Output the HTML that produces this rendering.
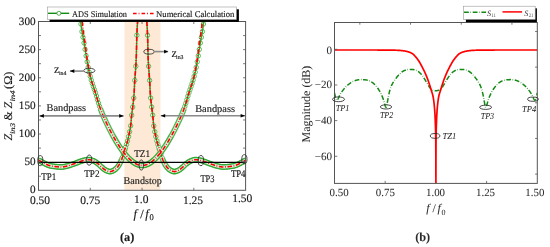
<!DOCTYPE html><html><head><meta charset="utf-8"><style>html,body{margin:0;padding:0;background:#fff;}svg{display:block;}</style></head><body><svg width="550" height="247" viewBox="0 0 550 247">
<rect width="550" height="247" fill="#fff"/>
<defs><clipPath id="ca"><rect x="38.5" y="21.5" width="207.1" height="168.8"/></clipPath><clipPath id="cb"><rect x="334.5" y="22.5" width="202.79999999999995" height="160.9"/></clipPath></defs>
<rect x="124.4" y="21.5" width="36" height="168.8" fill="#fde9d5"/>
<g clip-path="url(#ca)">
<g fill="#fff" stroke="#2ea82e" stroke-width="0.75"><circle cx="136.85" cy="35.23" r="2.2"/><circle cx="135.82" cy="66.24" r="2.2"/><circle cx="134.78" cy="80.38" r="2.2"/><circle cx="133.75" cy="97.96" r="2.2"/><circle cx="132.71" cy="107.04" r="2.2"/><circle cx="131.68" cy="115.13" r="2.2"/><circle cx="130.64" cy="125.85" r="2.2"/><circle cx="129.6" cy="131.76" r="2.2"/><circle cx="128.57" cy="136.59" r="2.2"/><circle cx="127.53" cy="140.95" r="2.2"/><circle cx="126.5" cy="144.41" r="2.2"/><circle cx="125.46" cy="147.41" r="2.2"/><circle cx="124.43" cy="150.24" r="2.2"/><circle cx="123.39" cy="153.74" r="2.2"/><circle cx="122.36" cy="157.53" r="2.2"/><circle cx="121.32" cy="160.31" r="2.2"/><circle cx="120.28" cy="162.58" r="2.2"/><circle cx="119.25" cy="164.5" r="2.2"/><circle cx="118.21" cy="166.1" r="2.2"/><circle cx="117.18" cy="167.43" r="2.2"/><circle cx="116.14" cy="168.56" r="2.2"/><circle cx="115.11" cy="169.49" r="2.2"/><circle cx="114.07" cy="170.15" r="2.2"/><circle cx="113.04" cy="170.72" r="2.2"/><circle cx="112" cy="171.19" r="2.2"/><circle cx="110.96" cy="171.5" r="2.2"/><circle cx="109.93" cy="171.59" r="2.2"/><circle cx="108.89" cy="171.44" r="2.2"/><circle cx="107.86" cy="171.12" r="2.2"/><circle cx="106.82" cy="170.68" r="2.2"/><circle cx="105.79" cy="170.19" r="2.2"/><circle cx="104.75" cy="169.61" r="2.2"/><circle cx="103.72" cy="168.84" r="2.2"/><circle cx="102.68" cy="167.96" r="2.2"/><circle cx="101.65" cy="167.07" r="2.2"/><circle cx="100.61" cy="166.13" r="2.2"/><circle cx="99.57" cy="165.13" r="2.2"/><circle cx="98.54" cy="164.18" r="2.2"/><circle cx="97.5" cy="163.35" r="2.2"/><circle cx="96.47" cy="162.6" r="2.2"/><circle cx="95.43" cy="161.9" r="2.2"/><circle cx="94.4" cy="161.31" r="2.2"/><circle cx="93.36" cy="160.85" r="2.2"/><circle cx="92.33" cy="160.44" r="2.2"/><circle cx="91.29" cy="160.08" r="2.2"/><circle cx="90.25" cy="159.82" r="2.2"/><circle cx="89.22" cy="159.7" r="2.2"/><circle cx="88.18" cy="159.73" r="2.2"/><circle cx="87.15" cy="159.82" r="2.2"/><circle cx="86.11" cy="159.95" r="2.2"/><circle cx="85.08" cy="160.1" r="2.2"/><circle cx="84.04" cy="160.31" r="2.2"/><circle cx="83.01" cy="160.58" r="2.2"/><circle cx="81.97" cy="160.91" r="2.2"/><circle cx="80.94" cy="161.26" r="2.2"/><circle cx="79.9" cy="161.6" r="2.2"/><circle cx="78.86" cy="161.99" r="2.2"/><circle cx="77.83" cy="162.4" r="2.2"/><circle cx="76.79" cy="162.81" r="2.2"/><circle cx="75.76" cy="163.21" r="2.2"/><circle cx="74.72" cy="163.57" r="2.2"/><circle cx="73.69" cy="163.92" r="2.2"/><circle cx="72.65" cy="164.27" r="2.2"/><circle cx="71.62" cy="164.62" r="2.2"/><circle cx="70.58" cy="165.02" r="2.2"/><circle cx="69.54" cy="165.38" r="2.2"/><circle cx="68.51" cy="165.67" r="2.2"/><circle cx="67.47" cy="165.94" r="2.2"/><circle cx="66.44" cy="166.19" r="2.2"/><circle cx="65.4" cy="166.45" r="2.2"/><circle cx="64.37" cy="166.67" r="2.2"/><circle cx="63.33" cy="166.83" r="2.2"/><circle cx="62.3" cy="166.95" r="2.2"/><circle cx="61.26" cy="167" r="2.2"/><circle cx="60.23" cy="166.97" r="2.2"/><circle cx="59.19" cy="166.91" r="2.2"/><circle cx="58.15" cy="166.85" r="2.2"/><circle cx="57.12" cy="166.78" r="2.2"/><circle cx="56.08" cy="166.69" r="2.2"/><circle cx="55.05" cy="166.56" r="2.2"/><circle cx="54.01" cy="166.4" r="2.2"/><circle cx="52.98" cy="166.27" r="2.2"/><circle cx="51.94" cy="166.12" r="2.2"/><circle cx="50.91" cy="165.94" r="2.2"/><circle cx="49.87" cy="165.67" r="2.2"/><circle cx="48.83" cy="165.34" r="2.2"/><circle cx="47.8" cy="164.95" r="2.2"/><circle cx="46.76" cy="164.51" r="2.2"/><circle cx="45.73" cy="164.02" r="2.2"/><circle cx="44.69" cy="163.47" r="2.2"/><circle cx="43.66" cy="162.92" r="2.2"/><circle cx="42.62" cy="162.38" r="2.2"/><circle cx="41.59" cy="161.8" r="2.2"/><circle cx="40.55" cy="161.18" r="2.2"/><circle cx="39.52" cy="160.66" r="2.2"/><circle cx="147.55" cy="35.23" r="2.2"/><circle cx="148.58" cy="66.24" r="2.2"/><circle cx="149.62" cy="80.38" r="2.2"/><circle cx="150.65" cy="97.96" r="2.2"/><circle cx="151.69" cy="107.04" r="2.2"/><circle cx="152.72" cy="115.13" r="2.2"/><circle cx="153.76" cy="125.85" r="2.2"/><circle cx="154.8" cy="131.76" r="2.2"/><circle cx="155.83" cy="136.59" r="2.2"/><circle cx="156.87" cy="140.95" r="2.2"/><circle cx="157.9" cy="144.41" r="2.2"/><circle cx="158.94" cy="147.41" r="2.2"/><circle cx="159.97" cy="150.24" r="2.2"/><circle cx="161.01" cy="153.74" r="2.2"/><circle cx="162.04" cy="157.53" r="2.2"/><circle cx="163.08" cy="160.31" r="2.2"/><circle cx="164.12" cy="162.58" r="2.2"/><circle cx="165.15" cy="164.5" r="2.2"/><circle cx="166.19" cy="166.1" r="2.2"/><circle cx="167.22" cy="167.43" r="2.2"/><circle cx="168.26" cy="168.56" r="2.2"/><circle cx="169.29" cy="169.49" r="2.2"/><circle cx="170.33" cy="170.15" r="2.2"/><circle cx="171.36" cy="170.72" r="2.2"/><circle cx="172.4" cy="171.19" r="2.2"/><circle cx="173.43" cy="171.5" r="2.2"/><circle cx="174.47" cy="171.59" r="2.2"/><circle cx="175.51" cy="171.44" r="2.2"/><circle cx="176.54" cy="171.12" r="2.2"/><circle cx="177.58" cy="170.68" r="2.2"/><circle cx="178.61" cy="170.19" r="2.2"/><circle cx="179.65" cy="169.61" r="2.2"/><circle cx="180.68" cy="168.84" r="2.2"/><circle cx="181.72" cy="167.96" r="2.2"/><circle cx="182.75" cy="167.07" r="2.2"/><circle cx="183.79" cy="166.13" r="2.2"/><circle cx="184.83" cy="165.13" r="2.2"/><circle cx="185.86" cy="164.18" r="2.2"/><circle cx="186.9" cy="163.35" r="2.2"/><circle cx="187.93" cy="162.6" r="2.2"/><circle cx="188.97" cy="161.9" r="2.2"/><circle cx="190" cy="161.31" r="2.2"/><circle cx="191.04" cy="160.85" r="2.2"/><circle cx="192.07" cy="160.44" r="2.2"/><circle cx="193.11" cy="160.08" r="2.2"/><circle cx="194.14" cy="159.82" r="2.2"/><circle cx="195.18" cy="159.7" r="2.2"/><circle cx="196.22" cy="159.73" r="2.2"/><circle cx="197.25" cy="159.82" r="2.2"/><circle cx="198.29" cy="159.95" r="2.2"/><circle cx="199.32" cy="160.1" r="2.2"/><circle cx="200.36" cy="160.31" r="2.2"/><circle cx="201.39" cy="160.58" r="2.2"/><circle cx="202.43" cy="160.91" r="2.2"/><circle cx="203.46" cy="161.26" r="2.2"/><circle cx="204.5" cy="161.6" r="2.2"/><circle cx="205.54" cy="161.99" r="2.2"/><circle cx="206.57" cy="162.4" r="2.2"/><circle cx="207.61" cy="162.81" r="2.2"/><circle cx="208.64" cy="163.21" r="2.2"/><circle cx="209.68" cy="163.57" r="2.2"/><circle cx="210.71" cy="163.92" r="2.2"/><circle cx="211.75" cy="164.27" r="2.2"/><circle cx="212.78" cy="164.62" r="2.2"/><circle cx="213.82" cy="165.02" r="2.2"/><circle cx="214.85" cy="165.38" r="2.2"/><circle cx="215.89" cy="165.67" r="2.2"/><circle cx="216.93" cy="165.94" r="2.2"/><circle cx="217.96" cy="166.19" r="2.2"/><circle cx="219" cy="166.45" r="2.2"/><circle cx="220.03" cy="166.67" r="2.2"/><circle cx="221.07" cy="166.83" r="2.2"/><circle cx="222.1" cy="166.95" r="2.2"/><circle cx="223.14" cy="167" r="2.2"/><circle cx="224.17" cy="166.97" r="2.2"/><circle cx="225.21" cy="166.91" r="2.2"/><circle cx="226.25" cy="166.85" r="2.2"/><circle cx="227.28" cy="166.78" r="2.2"/><circle cx="228.32" cy="166.69" r="2.2"/><circle cx="229.35" cy="166.56" r="2.2"/><circle cx="230.39" cy="166.4" r="2.2"/><circle cx="231.42" cy="166.27" r="2.2"/><circle cx="232.46" cy="166.12" r="2.2"/><circle cx="233.49" cy="165.94" r="2.2"/><circle cx="234.53" cy="165.67" r="2.2"/><circle cx="235.56" cy="165.34" r="2.2"/><circle cx="236.6" cy="164.95" r="2.2"/><circle cx="237.64" cy="164.51" r="2.2"/><circle cx="238.67" cy="164.02" r="2.2"/><circle cx="239.71" cy="163.47" r="2.2"/><circle cx="240.74" cy="162.92" r="2.2"/><circle cx="241.78" cy="162.38" r="2.2"/><circle cx="242.81" cy="161.8" r="2.2"/><circle cx="243.85" cy="161.18" r="2.2"/><circle cx="244.88" cy="160.66" r="2.2"/><circle cx="142.03" cy="165.43" r="2.2"/><circle cx="140.99" cy="165.37" r="2.2"/><circle cx="139.96" cy="165.23" r="2.2"/><circle cx="138.92" cy="164.99" r="2.2"/><circle cx="137.89" cy="164.67" r="2.2"/><circle cx="136.85" cy="164.26" r="2.2"/><circle cx="135.82" cy="163.76" r="2.2"/><circle cx="134.78" cy="163.18" r="2.2"/><circle cx="133.75" cy="162.52" r="2.2"/><circle cx="132.71" cy="161.78" r="2.2"/><circle cx="131.68" cy="160.97" r="2.2"/><circle cx="130.64" cy="160.09" r="2.2"/><circle cx="129.6" cy="159.13" r="2.2"/><circle cx="128.57" cy="158.11" r="2.2"/><circle cx="127.53" cy="157.01" r="2.2"/><circle cx="126.5" cy="155.86" r="2.2"/><circle cx="125.46" cy="154.64" r="2.2"/><circle cx="124.43" cy="153.37" r="2.2"/><circle cx="123.39" cy="152.04" r="2.2"/><circle cx="122.36" cy="150.65" r="2.2"/><circle cx="121.32" cy="149.21" r="2.2"/><circle cx="120.28" cy="147.72" r="2.2"/><circle cx="119.25" cy="146.17" r="2.2"/><circle cx="118.21" cy="144.58" r="2.2"/><circle cx="117.18" cy="142.93" r="2.2"/><circle cx="116.14" cy="141.23" r="2.2"/><circle cx="115.11" cy="139.49" r="2.2"/><circle cx="114.07" cy="137.69" r="2.2"/><circle cx="113.04" cy="135.84" r="2.2"/><circle cx="112" cy="133.95" r="2.2"/><circle cx="110.96" cy="132.01" r="2.2"/><circle cx="109.93" cy="130.01" r="2.2"/><circle cx="108.89" cy="127.98" r="2.2"/><circle cx="107.86" cy="125.89" r="2.2"/><circle cx="106.82" cy="123.76" r="2.2"/><circle cx="105.79" cy="121.58" r="2.2"/><circle cx="104.75" cy="119.35" r="2.2"/><circle cx="103.72" cy="117.05" r="2.2"/><circle cx="102.68" cy="114.64" r="2.2"/><circle cx="101.65" cy="112.08" r="2.2"/><circle cx="100.61" cy="109.33" r="2.2"/><circle cx="99.57" cy="106.36" r="2.2"/><circle cx="98.54" cy="103.14" r="2.2"/><circle cx="97.5" cy="99.64" r="2.2"/><circle cx="96.47" cy="96.05" r="2.2"/><circle cx="95.43" cy="92.7" r="2.2"/><circle cx="94.4" cy="89.6" r="2.2"/><circle cx="93.36" cy="86.58" r="2.2"/><circle cx="92.33" cy="83.47" r="2.2"/><circle cx="91.29" cy="80.09" r="2.2"/><circle cx="90.25" cy="76.36" r="2.2"/><circle cx="89.22" cy="72.17" r="2.2"/><circle cx="88.18" cy="67.34" r="2.2"/><circle cx="87.15" cy="61.86" r="2.2"/><circle cx="86.11" cy="55.86" r="2.2"/><circle cx="85.08" cy="49.42" r="2.2"/><circle cx="84.04" cy="42.95" r="2.2"/><circle cx="83.01" cy="37.25" r="2.2"/><circle cx="81.97" cy="31.6" r="2.2"/><circle cx="80.94" cy="23.98" r="2.2"/><circle cx="142.37" cy="165.43" r="2.2"/><circle cx="143.41" cy="165.37" r="2.2"/><circle cx="144.44" cy="165.23" r="2.2"/><circle cx="145.48" cy="164.99" r="2.2"/><circle cx="146.51" cy="164.67" r="2.2"/><circle cx="147.55" cy="164.26" r="2.2"/><circle cx="148.58" cy="163.76" r="2.2"/><circle cx="149.62" cy="163.18" r="2.2"/><circle cx="150.65" cy="162.52" r="2.2"/><circle cx="151.69" cy="161.78" r="2.2"/><circle cx="152.72" cy="160.97" r="2.2"/><circle cx="153.76" cy="160.09" r="2.2"/><circle cx="154.8" cy="159.13" r="2.2"/><circle cx="155.83" cy="158.11" r="2.2"/><circle cx="156.87" cy="157.01" r="2.2"/><circle cx="157.9" cy="155.86" r="2.2"/><circle cx="158.94" cy="154.64" r="2.2"/><circle cx="159.97" cy="153.37" r="2.2"/><circle cx="161.01" cy="152.04" r="2.2"/><circle cx="162.04" cy="150.65" r="2.2"/><circle cx="163.08" cy="149.21" r="2.2"/><circle cx="164.12" cy="147.72" r="2.2"/><circle cx="165.15" cy="146.17" r="2.2"/><circle cx="166.19" cy="144.58" r="2.2"/><circle cx="167.22" cy="142.93" r="2.2"/><circle cx="168.26" cy="141.23" r="2.2"/><circle cx="169.29" cy="139.49" r="2.2"/><circle cx="170.33" cy="137.69" r="2.2"/><circle cx="171.36" cy="135.84" r="2.2"/><circle cx="172.4" cy="133.95" r="2.2"/><circle cx="173.43" cy="132.01" r="2.2"/><circle cx="174.47" cy="130.01" r="2.2"/><circle cx="175.51" cy="127.98" r="2.2"/><circle cx="176.54" cy="125.89" r="2.2"/><circle cx="177.58" cy="123.76" r="2.2"/><circle cx="178.61" cy="121.58" r="2.2"/><circle cx="179.65" cy="119.35" r="2.2"/><circle cx="180.68" cy="117.05" r="2.2"/><circle cx="181.72" cy="114.64" r="2.2"/><circle cx="182.75" cy="112.08" r="2.2"/><circle cx="183.79" cy="109.33" r="2.2"/><circle cx="184.83" cy="106.36" r="2.2"/><circle cx="185.86" cy="103.14" r="2.2"/><circle cx="186.9" cy="99.64" r="2.2"/><circle cx="187.93" cy="96.05" r="2.2"/><circle cx="188.97" cy="92.7" r="2.2"/><circle cx="190" cy="89.6" r="2.2"/><circle cx="191.04" cy="86.58" r="2.2"/><circle cx="192.07" cy="83.47" r="2.2"/><circle cx="193.11" cy="80.09" r="2.2"/><circle cx="194.14" cy="76.36" r="2.2"/><circle cx="195.18" cy="72.17" r="2.2"/><circle cx="196.22" cy="67.34" r="2.2"/><circle cx="197.25" cy="61.86" r="2.2"/><circle cx="198.29" cy="55.86" r="2.2"/><circle cx="199.32" cy="49.42" r="2.2"/><circle cx="200.36" cy="42.95" r="2.2"/><circle cx="201.39" cy="37.25" r="2.2"/><circle cx="202.43" cy="31.6" r="2.2"/><circle cx="203.46" cy="23.98" r="2.2"/></g>
<path d="M38.5 160.2L38.74 160.3L38.98 160.41L39.22 160.52L39.45 160.63L39.69 160.74L39.92 160.86L40.16 160.97L40.39 161.09L40.62 161.22L40.84 161.35L41.07 161.48L41.29 161.62L41.51 161.75L41.74 161.89L41.96 162.02L42.19 162.15L42.42 162.27L42.65 162.4L42.88 162.52L43.11 162.64L43.34 162.76L43.57 162.88L43.81 163L44.04 163.12L44.27 163.24L44.5 163.37L44.73 163.49L44.96 163.62L45.19 163.74L45.42 163.86L45.65 163.98L45.88 164.1L46.12 164.21L46.35 164.32L46.59 164.43L46.83 164.54L47.07 164.64L47.31 164.75L47.55 164.85L47.79 164.95L48.03 165.05L48.28 165.14L48.52 165.23L48.77 165.32L49.01 165.4L49.26 165.48L49.51 165.56L49.76 165.64L50.01 165.71L50.26 165.78L50.52 165.85L50.77 165.91L51.02 165.96L51.28 166.01L51.53 166.06L51.79 166.1L52.05 166.14L52.31 166.18L52.57 166.21L52.83 166.25L53.09 166.28L53.35 166.31L53.6 166.35L53.86 166.38L54.12 166.42L54.38 166.45L54.64 166.49L54.9 166.53L55.16 166.57L55.41 166.61L55.67 166.64L55.93 166.67L56.19 166.7L56.45 166.72L56.71 166.74L56.97 166.77L57.23 166.78L57.49 166.8L57.75 166.82L58.01 166.84L58.27 166.85L58.53 166.87L58.79 166.88L59.05 166.9L59.31 166.91L59.58 166.93L59.84 166.94L60.1 166.96L60.36 166.97L60.62 166.99L60.88 166.99L61.14 167L61.4 167L61.66 166.99L61.92 166.98L62.18 166.96L62.44 166.94L62.7 166.91L62.96 166.88L63.22 166.84L63.48 166.81L63.74 166.77L64 166.73L64.25 166.69L64.51 166.65L64.77 166.6L65.02 166.54L65.28 166.48L65.53 166.42L65.78 166.36L66.04 166.29L66.29 166.23L66.54 166.17L66.8 166.1L67.05 166.04L67.31 165.98L67.56 165.92L67.81 165.85L68.07 165.79L68.32 165.72L68.57 165.66L68.82 165.59L69.07 165.52L69.32 165.45L69.57 165.37L69.82 165.29L70.07 165.21L70.31 165.12L70.56 165.03L70.8 164.93L71.04 164.83L71.29 164.74L71.53 164.65L71.78 164.57L72.03 164.48L72.27 164.39L72.52 164.31L72.77 164.23L73.01 164.14L73.26 164.06L73.51 163.98L73.76 163.9L74.01 163.81L74.25 163.73L74.5 163.65L74.75 163.56L74.99 163.48L75.24 163.39L75.49 163.31L75.73 163.22L75.98 163.13L76.22 163.03L76.46 162.94L76.71 162.84L76.95 162.75L77.19 162.65L77.44 162.55L77.68 162.46L77.92 162.36L78.16 162.26L78.41 162.17L78.65 162.07L78.89 161.98L79.14 161.88L79.38 161.79L79.62 161.7L79.87 161.61L80.12 161.53L80.36 161.44L80.61 161.36L80.86 161.28L81.11 161.2L81.35 161.12L81.6 161.03L81.85 160.95L82.1 160.87L82.35 160.79L82.6 160.71L82.85 160.63L83.11 160.56L83.36 160.48L83.61 160.41L83.86 160.35L84.11 160.29L84.37 160.23L84.62 160.18L84.88 160.14L85.13 160.1L85.39 160.06L85.65 160.02L85.91 159.98L86.17 159.95L86.43 159.91L86.69 159.88L86.95 159.85L87.21 159.82L87.47 159.79L87.73 159.76L87.99 159.74L88.25 159.73L88.51 159.71L88.77 159.7L89.03 159.7L89.29 159.7L89.54 159.72L89.8 159.75L90.06 159.78L90.31 159.83L90.57 159.89L90.83 159.95L91.08 160.02L91.34 160.1L91.59 160.18L91.85 160.27L92.1 160.36L92.35 160.45L92.59 160.55L92.84 160.64L93.08 160.74L93.32 160.83L93.56 160.92L93.79 161.02L94.03 161.12L94.26 161.24L94.49 161.35L94.72 161.48L94.95 161.61L95.17 161.74L95.4 161.88L95.62 162.02L95.84 162.17L96.06 162.32L96.28 162.47L96.5 162.62L96.71 162.77L96.93 162.93L97.14 163.08L97.35 163.24L97.56 163.4L97.77 163.55L97.97 163.71L98.17 163.87L98.37 164.03L98.57 164.2L98.76 164.38L98.96 164.55L99.15 164.73L99.34 164.91L99.53 165.09L99.72 165.27L99.91 165.45L100.1 165.63L100.28 165.82L100.47 166L100.66 166.18L100.85 166.36L101.05 166.54L101.24 166.71L101.43 166.89L101.63 167.06L101.83 167.23L102.03 167.39L102.23 167.57L102.43 167.74L102.63 167.91L102.83 168.09L103.03 168.26L103.23 168.44L103.44 168.61L103.64 168.78L103.85 168.95L104.05 169.11L104.26 169.27L104.47 169.42L104.69 169.57L104.9 169.71L105.12 169.84L105.34 169.97L105.56 170.08L105.79 170.19L106.02 170.3L106.26 170.42L106.5 170.53L106.74 170.64L106.99 170.76L107.24 170.87L107.49 170.97L107.74 171.07L108 171.17L108.25 171.26L108.51 171.34L108.76 171.41L109.01 171.47L109.27 171.52L109.52 171.56L109.77 171.59L110.02 171.6L110.26 171.6L110.51 171.58L110.76 171.54L111.01 171.49L111.27 171.43L111.52 171.36L111.77 171.27L112.03 171.18L112.28 171.07L112.53 170.96L112.78 170.84L113.02 170.72L113.26 170.6L113.5 170.47L113.74 170.34L113.97 170.21L114.19 170.08L114.41 169.95L114.62 169.82L114.84 169.69L115.04 169.54L115.25 169.38L115.45 169.21L115.65 169.04L115.84 168.86L116.04 168.67L116.22 168.48L116.41 168.29L116.59 168.09L116.77 167.89L116.94 167.7L117.11 167.5L117.28 167.3L117.45 167.11L117.61 166.91L117.77 166.7L117.93 166.49L118.08 166.28L118.23 166.07L118.38 165.85L118.53 165.63L118.68 165.41L118.82 165.19L118.96 164.97L119.1 164.75L119.23 164.52L119.37 164.29L119.5 164.07L119.62 163.84L119.75 163.61L119.87 163.39L119.99 163.16L120.11 162.93L120.23 162.69L120.34 162.46L120.46 162.23L120.57 161.99L120.68 161.75L120.79 161.52L120.9 161.28L121.01 161.04L121.11 160.8L121.22 160.56L121.32 160.31L121.42 160.07L121.52 159.83L121.61 159.58L121.71 159.34L121.8 159.1L121.9 158.85L121.99 158.61L122.07 158.36L122.16 158.12L122.24 157.87L122.33 157.63L122.41 157.38L122.48 157.13L122.56 156.88L122.63 156.63L122.7 156.38L122.77 156.13L122.84 155.88L122.91 155.62L122.97 155.37L123.04 155.12L123.1 154.87L123.17 154.61L123.23 154.36L123.3 154.1L123.36 153.85L123.43 153.6L123.49 153.34L123.56 153.09L123.63 152.84L123.69 152.58L123.76 152.33L123.83 152.08L123.91 151.83L123.98 151.58L124.06 151.33L124.14 151.08L124.22 150.84L124.3 150.59L124.39 150.34L124.48 150.1L124.56 149.85L124.65 149.61L124.75 149.36L124.84 149.12L124.93 148.87L125.02 148.63L125.11 148.38L125.2 148.14L125.29 147.89L125.38 147.65L125.47 147.4L125.55 147.15L125.64 146.91L125.72 146.66L125.81 146.41L125.89 146.17L125.98 145.92L126.07 145.67L126.15 145.43L126.24 145.18L126.32 144.93L126.41 144.69L126.49 144.44L126.57 144.19L126.65 143.94L126.74 143.69L126.82 143.45L126.89 143.2L126.97 142.95L127.05 142.7L127.12 142.45L127.19 142.2L127.26 141.95L127.33 141.7L127.4 141.45L127.47 141.19L127.54 140.94L127.6 140.69L127.67 140.44L127.73 140.18L127.79 139.93L127.85 139.68L127.92 139.42L127.98 139.17L128.04 138.92L128.1 138.66L128.16 138.41L128.21 138.15L128.27 137.9L128.33 137.64L128.39 137.39L128.45 137.13L128.5 136.88L128.56 136.62L128.62 136.37L128.67 136.11L128.73 135.86L128.79 135.61L128.85 135.35L128.9 135.1L128.96 134.84L129.01 134.59L129.07 134.33L129.13 134.08L129.18 133.82L129.23 133.57L129.29 133.31L129.34 133.05L129.4 132.8L129.45 132.54L129.5 132.29L129.55 132.03L129.6 131.78L129.65 131.52L129.7 131.26L129.75 131.01L129.8 130.75L129.84 130.49L129.89 130.24L129.94 129.98L129.99 129.72L130.04 129.47L130.08 129.21L130.13 128.95L130.18 128.7L130.22 128.44L130.27 128.18L130.31 127.92L130.36 127.67L130.4 127.41L130.44 127.15L130.48 126.89L130.52 126.64L130.56 126.38L130.6 126.12L130.64 125.86L130.67 125.6L130.71 125.35L130.74 125.09L130.77 124.83L130.8 124.57L130.83 124.31L130.86 124.05L130.88 123.79L130.91 123.53L130.93 123.27L130.96 123.01L130.98 122.75L131 122.49L131.03 122.23L131.05 121.97L131.07 121.71L131.09 121.45L131.11 121.19L131.13 120.93L131.15 120.67L131.18 120.41L131.2 120.15L131.22 119.89L131.24 119.63L131.26 119.37L131.28 119.11L131.3 118.85L131.32 118.59L131.35 118.33L131.37 118.07L131.39 117.81L131.42 117.55L131.44 117.29L131.47 117.03L131.49 116.77L131.52 116.51L131.55 116.25L131.58 115.99L131.61 115.73L131.64 115.47L131.67 115.21L131.7 114.96L131.73 114.7L131.76 114.44L131.79 114.18L131.82 113.92L131.86 113.66L131.89 113.4L131.92 113.14L131.96 112.88L131.99 112.63L132.02 112.37L132.06 112.11L132.09 111.85L132.13 111.59L132.16 111.33L132.19 111.07L132.23 110.81L132.26 110.55L132.3 110.3L132.33 110.04L132.37 109.78L132.4 109.52L132.43 109.26L132.47 109L132.5 108.74L132.53 108.48L132.57 108.23L132.6 107.97L132.63 107.71L132.66 107.45L132.69 107.19L132.72 106.93L132.75 106.67L132.78 106.41L132.81 106.15L132.84 105.89L132.87 105.63L132.91 105.37L132.94 105.12L132.97 104.86L133 104.6L133.03 104.34L133.06 104.08L133.09 103.82L133.12 103.56L133.15 103.3L133.18 103.04L133.21 102.78L133.24 102.52L133.28 102.26L133.31 102L133.34 101.74L133.37 101.49L133.4 101.23L133.43 100.97L133.46 100.71L133.48 100.45L133.51 100.19L133.54 99.93L133.57 99.67L133.6 99.41L133.63 99.15L133.65 98.89L133.68 98.63L133.71 98.37L133.73 98.11L133.76 97.85L133.78 97.59L133.81 97.33L133.83 97.07L133.85 96.81L133.88 96.55L133.9 96.29L133.92 96.03L133.94 95.77L133.96 95.51L133.98 95.25L134 94.99L134.02 94.73L134.04 94.47L134.05 94.21L134.07 93.95L134.09 93.69L134.11 93.43L134.12 93.17L134.14 92.91L134.15 92.65L134.17 92.39L134.18 92.13L134.2 91.87L134.21 91.61L134.23 91.35L134.24 91.09L134.25 90.83L134.27 90.57L134.28 90.31L134.29 90.05L134.31 89.79L134.32 89.53L134.33 89.26L134.35 89L134.36 88.74L134.37 88.48L134.38 88.22L134.4 87.96L134.41 87.7L134.42 87.44L134.43 87.18L134.44 86.92L134.46 86.66L134.47 86.4L134.48 86.14L134.49 85.87L134.5 85.61L134.52 85.35L134.53 85.09L134.54 84.83L134.55 84.57L134.57 84.31L134.58 84.05L134.59 83.79L134.61 83.53L134.62 83.27L134.63 83.01L134.65 82.75L134.66 82.49L134.67 82.22L134.69 81.96L134.7 81.7L134.72 81.44L134.73 81.18L134.75 80.92L134.76 80.66L134.78 80.4L134.8 80.14L134.81 79.88L134.83 79.62L134.85 79.36L134.86 79.1L134.88 78.84L134.9 78.58L134.92 78.32L134.94 78.06L134.95 77.8L134.97 77.54L134.99 77.28L135.01 77.02L135.03 76.76L135.05 76.5L135.07 76.24L135.09 75.97L135.11 75.71L135.13 75.45L135.15 75.19L135.17 74.93L135.19 74.67L135.21 74.41L135.23 74.15L135.25 73.89L135.27 73.63L135.29 73.37L135.31 73.11L135.33 72.85L135.35 72.59L135.37 72.33L135.39 72.07L135.41 71.81L135.43 71.55L135.45 71.29L135.47 71.03L135.49 70.77L135.51 70.51L135.53 70.25L135.55 69.99L135.57 69.73L135.59 69.47L135.61 69.21L135.63 68.95L135.64 68.69L135.66 68.43L135.68 68.17L135.7 67.91L135.72 67.65L135.74 67.39L135.76 67.13L135.77 66.87L135.79 66.61L135.81 66.35L135.83 66.08L135.84 65.82L135.86 65.56L135.88 65.3L135.89 65.04L135.91 64.78L135.93 64.52L135.94 64.26L135.96 64L135.97 63.74L135.99 63.48L136 63.22L136.02 62.96L136.03 62.7L136.04 62.44L136.06 62.18L136.07 61.92L136.08 61.66L136.09 61.4L136.11 61.14L136.12 60.87L136.13 60.61L136.14 60.35L136.15 60.09L136.17 59.83L136.18 59.57L136.19 59.31L136.2 59.05L136.21 58.79L136.22 58.53L136.23 58.27L136.24 58.01L136.25 57.75L136.26 57.48L136.27 57.22L136.28 56.96L136.29 56.7L136.3 56.44L136.31 56.18L136.32 55.92L136.33 55.66L136.34 55.4L136.35 55.14L136.35 54.88L136.36 54.62L136.37 54.36L136.38 54.09L136.39 53.83L136.39 53.57L136.4 53.31L136.41 53.05L136.42 52.79L136.42 52.53L136.43 52.27L136.44 52.01L136.44 51.75L136.45 51.49L136.46 51.22L136.46 50.96L136.47 50.7L136.48 50.44L136.48 50.18L136.49 49.92L136.5 49.66L136.5 49.4L136.51 49.14L136.51 48.88L136.52 48.62L136.52 48.35L136.53 48.09L136.54 47.83L136.54 47.57L136.55 47.31L136.55 47.05L136.56 46.79L136.56 46.53L136.57 46.27L136.58 46.01L136.58 45.75L136.59 45.48L136.59 45.22L136.6 44.96L136.6 44.7L136.61 44.44L136.61 44.18L136.62 43.92L136.62 43.66L136.63 43.4L136.64 43.14L136.64 42.88L136.65 42.61L136.65 42.35L136.66 42.09L136.67 41.83L136.67 41.57L136.68 41.31L136.68 41.05L136.69 40.79L136.7 40.53L136.7 40.27L136.71 40.01L136.72 39.74L136.72 39.48L136.73 39.22L136.74 38.96L136.74 38.7L136.75 38.44L136.76 38.18L136.77 37.92L136.77 37.66L136.78 37.4L136.79 37.14L136.8 36.88L136.81 36.61L136.81 36.35L136.82 36.09L136.83 35.83L136.84 35.57L136.85 35.31L136.86 35.05L136.87 34.79L136.88 34.53L136.89 34.27L136.9 34.01L136.91 33.75L136.92 33.49L136.93 33.23L136.94 32.96L136.95 32.7L136.97 32.44L136.98 32.18L136.99 31.92L137 31.66L137.01 31.4L137.03 31.14L137.04 30.88L137.05 30.62L137.07 30.36L137.08 30.1L137.09 29.84L137.11 29.58L137.12 29.32L137.14 29.06L137.15 28.79L137.16 28.53L137.18 28.27L137.19 28.01L137.21 27.75L137.22 27.49L137.24 27.23L137.25 26.97L137.27 26.71L137.29 26.45L137.3 26.19L137.32 25.93L137.33 25.67L137.35 25.41L137.36 25.15L137.38 24.89L137.4 24.63L137.41 24.37L137.43 24.1L137.45 23.84L137.46 23.58L137.48 23.32L137.5 23.06L137.51 22.8L137.53 22.54L137.55 22.28L137.57 22.02L137.58 21.76L137.6 21.5" fill="none" stroke="#2ea82e" stroke-width="1.4"/>
<path d="M146.8 21.5L146.82 21.76L146.83 22.02L146.85 22.28L146.87 22.54L146.89 22.8L146.9 23.06L146.92 23.32L146.94 23.58L146.95 23.84L146.97 24.1L146.99 24.37L147 24.63L147.02 24.89L147.04 25.15L147.05 25.41L147.07 25.67L147.08 25.93L147.1 26.19L147.11 26.45L147.13 26.71L147.15 26.97L147.16 27.23L147.18 27.49L147.19 27.75L147.21 28.01L147.22 28.27L147.24 28.53L147.25 28.79L147.26 29.06L147.28 29.32L147.29 29.58L147.31 29.84L147.32 30.1L147.33 30.36L147.35 30.62L147.36 30.88L147.37 31.14L147.39 31.4L147.4 31.66L147.41 31.92L147.42 32.18L147.43 32.44L147.45 32.7L147.46 32.96L147.47 33.23L147.48 33.49L147.49 33.75L147.5 34.01L147.51 34.27L147.52 34.53L147.53 34.79L147.54 35.05L147.55 35.31L147.56 35.57L147.57 35.83L147.58 36.09L147.59 36.35L147.59 36.61L147.6 36.88L147.61 37.14L147.62 37.4L147.63 37.66L147.63 37.92L147.64 38.18L147.65 38.44L147.66 38.7L147.66 38.96L147.67 39.22L147.68 39.48L147.68 39.74L147.69 40.01L147.7 40.27L147.7 40.53L147.71 40.79L147.72 41.05L147.72 41.31L147.73 41.57L147.73 41.83L147.74 42.09L147.75 42.35L147.75 42.61L147.76 42.88L147.76 43.14L147.77 43.4L147.78 43.66L147.78 43.92L147.79 44.18L147.79 44.44L147.8 44.7L147.8 44.96L147.81 45.22L147.81 45.48L147.82 45.75L147.82 46.01L147.83 46.27L147.84 46.53L147.84 46.79L147.85 47.05L147.85 47.31L147.86 47.57L147.86 47.83L147.87 48.09L147.88 48.35L147.88 48.62L147.89 48.88L147.89 49.14L147.9 49.4L147.9 49.66L147.91 49.92L147.92 50.18L147.92 50.44L147.93 50.7L147.94 50.96L147.94 51.22L147.95 51.49L147.96 51.75L147.96 52.01L147.97 52.27L147.98 52.53L147.98 52.79L147.99 53.05L148 53.31L148.01 53.57L148.01 53.83L148.02 54.09L148.03 54.36L148.04 54.62L148.05 54.88L148.05 55.14L148.06 55.4L148.07 55.66L148.08 55.92L148.09 56.18L148.1 56.44L148.11 56.7L148.12 56.96L148.13 57.22L148.14 57.48L148.15 57.75L148.16 58.01L148.17 58.27L148.18 58.53L148.19 58.79L148.2 59.05L148.21 59.31L148.22 59.57L148.23 59.83L148.25 60.09L148.26 60.35L148.27 60.61L148.28 60.87L148.29 61.14L148.31 61.4L148.32 61.66L148.33 61.92L148.34 62.18L148.36 62.44L148.37 62.7L148.38 62.96L148.4 63.22L148.41 63.48L148.43 63.74L148.44 64L148.46 64.26L148.47 64.52L148.49 64.78L148.51 65.04L148.52 65.3L148.54 65.56L148.56 65.82L148.57 66.08L148.59 66.35L148.61 66.61L148.63 66.87L148.64 67.13L148.66 67.39L148.68 67.65L148.7 67.91L148.72 68.17L148.74 68.43L148.76 68.69L148.77 68.95L148.79 69.21L148.81 69.47L148.83 69.73L148.85 69.99L148.87 70.25L148.89 70.51L148.91 70.77L148.93 71.03L148.95 71.29L148.97 71.55L148.99 71.81L149.01 72.07L149.03 72.33L149.05 72.59L149.07 72.85L149.09 73.11L149.11 73.37L149.13 73.63L149.15 73.89L149.17 74.15L149.19 74.41L149.21 74.67L149.23 74.93L149.25 75.19L149.27 75.45L149.29 75.71L149.31 75.97L149.33 76.24L149.35 76.5L149.37 76.76L149.39 77.02L149.41 77.28L149.43 77.54L149.45 77.8L149.46 78.06L149.48 78.32L149.5 78.58L149.52 78.84L149.54 79.1L149.55 79.36L149.57 79.62L149.59 79.88L149.6 80.14L149.62 80.4L149.64 80.66L149.65 80.92L149.67 81.18L149.68 81.44L149.7 81.7L149.71 81.96L149.73 82.22L149.74 82.49L149.75 82.75L149.77 83.01L149.78 83.27L149.79 83.53L149.81 83.79L149.82 84.05L149.83 84.31L149.85 84.57L149.86 84.83L149.87 85.09L149.88 85.35L149.9 85.61L149.91 85.87L149.92 86.14L149.93 86.4L149.94 86.66L149.96 86.92L149.97 87.18L149.98 87.44L149.99 87.7L150 87.96L150.02 88.22L150.03 88.48L150.04 88.74L150.05 89L150.07 89.26L150.08 89.53L150.09 89.79L150.11 90.05L150.12 90.31L150.13 90.57L150.15 90.83L150.16 91.09L150.17 91.35L150.19 91.61L150.2 91.87L150.22 92.13L150.23 92.39L150.25 92.65L150.26 92.91L150.28 93.17L150.29 93.43L150.31 93.69L150.33 93.95L150.35 94.21L150.36 94.47L150.38 94.73L150.4 94.99L150.42 95.25L150.44 95.51L150.46 95.77L150.48 96.03L150.5 96.29L150.52 96.55L150.55 96.81L150.57 97.07L150.59 97.33L150.62 97.59L150.64 97.85L150.67 98.11L150.69 98.37L150.72 98.63L150.75 98.89L150.77 99.15L150.8 99.41L150.83 99.67L150.86 99.93L150.89 100.19L150.92 100.45L150.94 100.71L150.97 100.97L151 101.23L151.03 101.49L151.06 101.74L151.09 102L151.12 102.26L151.16 102.52L151.19 102.78L151.22 103.04L151.25 103.3L151.28 103.56L151.31 103.82L151.34 104.08L151.37 104.34L151.4 104.6L151.43 104.86L151.46 105.12L151.49 105.37L151.53 105.63L151.56 105.89L151.59 106.15L151.62 106.41L151.65 106.67L151.68 106.93L151.71 107.19L151.74 107.45L151.77 107.71L151.8 107.97L151.83 108.23L151.87 108.48L151.9 108.74L151.93 109L151.97 109.26L152 109.52L152.03 109.78L152.07 110.04L152.1 110.3L152.14 110.55L152.17 110.81L152.21 111.07L152.24 111.33L152.27 111.59L152.31 111.85L152.34 112.11L152.38 112.37L152.41 112.63L152.44 112.88L152.48 113.14L152.51 113.4L152.54 113.66L152.58 113.92L152.61 114.18L152.64 114.44L152.67 114.7L152.7 114.96L152.73 115.21L152.76 115.47L152.79 115.73L152.82 115.99L152.85 116.25L152.88 116.51L152.91 116.77L152.93 117.03L152.96 117.29L152.98 117.55L153.01 117.81L153.03 118.07L153.05 118.33L153.08 118.59L153.1 118.85L153.12 119.11L153.14 119.37L153.16 119.63L153.18 119.89L153.2 120.15L153.22 120.41L153.25 120.67L153.27 120.93L153.29 121.19L153.31 121.45L153.33 121.71L153.35 121.97L153.37 122.23L153.4 122.49L153.42 122.75L153.44 123.01L153.47 123.27L153.49 123.53L153.52 123.79L153.54 124.05L153.57 124.31L153.6 124.57L153.63 124.83L153.66 125.09L153.69 125.35L153.73 125.6L153.76 125.86L153.8 126.12L153.84 126.38L153.88 126.64L153.92 126.89L153.96 127.15L154 127.41L154.04 127.67L154.09 127.92L154.13 128.18L154.18 128.44L154.22 128.7L154.27 128.95L154.32 129.21L154.36 129.47L154.41 129.72L154.46 129.98L154.51 130.24L154.56 130.49L154.6 130.75L154.65 131.01L154.7 131.26L154.75 131.52L154.8 131.78L154.85 132.03L154.9 132.29L154.95 132.54L155 132.8L155.06 133.05L155.11 133.31L155.17 133.57L155.22 133.82L155.27 134.08L155.33 134.33L155.39 134.59L155.44 134.84L155.5 135.1L155.55 135.35L155.61 135.61L155.67 135.86L155.73 136.11L155.78 136.37L155.84 136.62L155.9 136.88L155.95 137.13L156.01 137.39L156.07 137.64L156.13 137.9L156.19 138.15L156.24 138.41L156.3 138.66L156.36 138.92L156.42 139.17L156.48 139.42L156.55 139.68L156.61 139.93L156.67 140.18L156.73 140.44L156.8 140.69L156.86 140.94L156.93 141.19L157 141.45L157.07 141.7L157.14 141.95L157.21 142.2L157.28 142.45L157.35 142.7L157.43 142.95L157.51 143.2L157.58 143.45L157.66 143.69L157.75 143.94L157.83 144.19L157.91 144.44L157.99 144.69L158.08 144.93L158.16 145.18L158.25 145.43L158.33 145.67L158.42 145.92L158.51 146.17L158.59 146.41L158.68 146.66L158.76 146.91L158.85 147.15L158.93 147.4L159.02 147.65L159.11 147.89L159.2 148.14L159.29 148.38L159.38 148.63L159.47 148.87L159.56 149.12L159.65 149.36L159.75 149.61L159.84 149.85L159.92 150.1L160.01 150.34L160.1 150.59L160.18 150.84L160.26 151.08L160.34 151.33L160.42 151.58L160.49 151.83L160.57 152.08L160.64 152.33L160.71 152.58L160.77 152.84L160.84 153.09L160.91 153.34L160.97 153.6L161.04 153.85L161.1 154.1L161.17 154.36L161.23 154.61L161.3 154.87L161.36 155.12L161.43 155.37L161.49 155.62L161.56 155.88L161.63 156.13L161.7 156.38L161.77 156.63L161.84 156.88L161.92 157.13L161.99 157.38L162.07 157.63L162.16 157.87L162.24 158.12L162.33 158.36L162.41 158.61L162.5 158.85L162.6 159.1L162.69 159.34L162.79 159.58L162.88 159.83L162.98 160.07L163.08 160.31L163.18 160.56L163.29 160.8L163.39 161.04L163.5 161.28L163.61 161.52L163.72 161.75L163.83 161.99L163.94 162.23L164.06 162.46L164.17 162.69L164.29 162.93L164.41 163.16L164.53 163.39L164.65 163.61L164.78 163.84L164.9 164.07L165.03 164.29L165.17 164.52L165.3 164.75L165.44 164.97L165.58 165.19L165.72 165.41L165.87 165.63L166.02 165.85L166.17 166.07L166.32 166.28L166.47 166.49L166.63 166.7L166.79 166.91L166.95 167.11L167.12 167.3L167.29 167.5L167.46 167.7L167.63 167.89L167.81 168.09L167.99 168.29L168.18 168.48L168.36 168.67L168.56 168.86L168.75 169.04L168.95 169.21L169.15 169.38L169.36 169.54L169.56 169.69L169.78 169.82L169.99 169.95L170.21 170.08L170.43 170.21L170.66 170.34L170.9 170.47L171.14 170.6L171.38 170.72L171.62 170.84L171.87 170.96L172.12 171.07L172.37 171.18L172.63 171.27L172.88 171.36L173.13 171.43L173.39 171.49L173.64 171.54L173.89 171.58L174.14 171.6L174.38 171.6L174.63 171.59L174.88 171.56L175.13 171.52L175.39 171.47L175.64 171.41L175.89 171.34L176.15 171.26L176.4 171.17L176.66 171.07L176.91 170.97L177.16 170.87L177.41 170.76L177.66 170.64L177.9 170.53L178.14 170.42L178.38 170.3L178.61 170.19L178.84 170.08L179.06 169.97L179.28 169.84L179.5 169.71L179.71 169.57L179.93 169.42L180.14 169.27L180.35 169.11L180.55 168.95L180.76 168.78L180.96 168.61L181.17 168.44L181.37 168.26L181.57 168.09L181.77 167.91L181.97 167.74L182.17 167.57L182.37 167.39L182.57 167.23L182.77 167.06L182.97 166.89L183.16 166.71L183.35 166.54L183.55 166.36L183.74 166.18L183.93 166L184.12 165.82L184.3 165.63L184.49 165.45L184.68 165.27L184.87 165.09L185.06 164.91L185.25 164.73L185.44 164.55L185.64 164.38L185.83 164.2L186.03 164.03L186.23 163.87L186.43 163.71L186.63 163.55L186.84 163.4L187.05 163.24L187.26 163.08L187.47 162.93L187.69 162.77L187.9 162.62L188.12 162.47L188.34 162.32L188.56 162.17L188.78 162.02L189 161.88L189.23 161.74L189.45 161.61L189.68 161.48L189.91 161.35L190.14 161.24L190.37 161.12L190.61 161.02L190.84 160.92L191.08 160.83L191.32 160.74L191.56 160.64L191.81 160.55L192.05 160.45L192.3 160.36L192.55 160.27L192.81 160.18L193.06 160.1L193.32 160.02L193.57 159.95L193.83 159.89L194.09 159.83L194.34 159.78L194.6 159.75L194.86 159.72L195.11 159.7L195.37 159.7L195.63 159.7L195.89 159.71L196.15 159.73L196.41 159.74L196.67 159.76L196.93 159.79L197.19 159.82L197.45 159.85L197.71 159.88L197.97 159.91L198.23 159.95L198.49 159.98L198.75 160.02L199.01 160.06L199.27 160.1L199.52 160.14L199.78 160.18L200.03 160.23L200.29 160.29L200.54 160.35L200.79 160.41L201.04 160.48L201.29 160.56L201.55 160.63L201.8 160.71L202.05 160.79L202.3 160.87L202.55 160.95L202.8 161.03L203.05 161.12L203.29 161.2L203.54 161.28L203.79 161.36L204.04 161.44L204.28 161.53L204.53 161.61L204.78 161.7L205.02 161.79L205.26 161.88L205.51 161.98L205.75 162.07L205.99 162.17L206.24 162.26L206.48 162.36L206.72 162.46L206.96 162.55L207.21 162.65L207.45 162.75L207.69 162.84L207.94 162.94L208.18 163.03L208.42 163.13L208.67 163.22L208.91 163.31L209.16 163.39L209.41 163.48L209.65 163.56L209.9 163.65L210.15 163.73L210.39 163.81L210.64 163.9L210.89 163.98L211.14 164.06L211.39 164.14L211.63 164.23L211.88 164.31L212.13 164.39L212.37 164.48L212.62 164.57L212.87 164.65L213.11 164.74L213.36 164.83L213.6 164.93L213.84 165.03L214.09 165.12L214.33 165.21L214.58 165.29L214.83 165.37L215.08 165.45L215.33 165.52L215.58 165.59L215.83 165.66L216.08 165.72L216.33 165.79L216.59 165.85L216.84 165.92L217.09 165.98L217.35 166.04L217.6 166.1L217.86 166.17L218.11 166.23L218.36 166.29L218.62 166.36L218.87 166.42L219.12 166.48L219.38 166.54L219.63 166.6L219.89 166.65L220.15 166.69L220.4 166.73L220.66 166.77L220.92 166.81L221.18 166.84L221.44 166.88L221.7 166.91L221.96 166.94L222.22 166.96L222.48 166.98L222.74 166.99L223 167L223.26 167L223.52 166.99L223.78 166.99L224.04 166.97L224.3 166.96L224.56 166.94L224.82 166.93L225.09 166.91L225.35 166.9L225.61 166.88L225.87 166.87L226.13 166.85L226.39 166.84L226.65 166.82L226.91 166.8L227.17 166.78L227.43 166.77L227.69 166.74L227.95 166.72L228.21 166.7L228.47 166.67L228.73 166.64L228.99 166.61L229.24 166.57L229.5 166.53L229.76 166.49L230.02 166.45L230.28 166.42L230.54 166.38L230.8 166.35L231.05 166.31L231.31 166.28L231.57 166.25L231.83 166.21L232.09 166.18L232.35 166.14L232.61 166.1L232.87 166.06L233.12 166.01L233.38 165.96L233.63 165.91L233.88 165.85L234.14 165.78L234.39 165.71L234.64 165.64L234.89 165.56L235.14 165.48L235.39 165.4L235.63 165.32L235.88 165.23L236.12 165.14L236.37 165.05L236.61 164.95L236.85 164.85L237.09 164.75L237.33 164.64L237.57 164.54L237.81 164.43L238.05 164.32L238.28 164.21L238.52 164.1L238.75 163.98L238.98 163.86L239.21 163.74L239.44 163.62L239.67 163.49L239.9 163.37L240.13 163.24L240.36 163.12L240.59 163L240.83 162.88L241.06 162.76L241.29 162.64L241.52 162.52L241.75 162.4L241.98 162.27L242.21 162.15L242.44 162.02L242.66 161.89L242.89 161.75L243.11 161.62L243.33 161.48L243.56 161.35L243.78 161.22L244.01 161.09L244.24 160.97L244.48 160.86L244.71 160.74L244.95 160.63L245.18 160.52L245.42 160.41L245.66 160.3L245.9 160.2" fill="none" stroke="#2ea82e" stroke-width="1.4"/>
<path d="M80.67 21.5L80.7 21.82L80.8 22.76L80.9 23.66L81 24.52L81.09 25.34L81.19 26.13L81.29 26.89L81.38 27.63L81.48 28.33L81.57 29.01L81.67 29.66L81.76 30.29L81.86 30.89L81.95 31.48L82.05 32.05L82.14 32.61L82.23 33.14L82.33 33.67L82.42 34.18L82.52 34.69L82.61 35.19L82.7 35.68L82.8 36.16L82.89 36.64L82.98 37.12L83.07 37.61L83.17 38.09L83.26 38.58L83.35 39.07L83.45 39.57L83.54 40.08L83.64 40.59L83.73 41.12L83.82 41.66L83.92 42.21L84.01 42.77L84.11 43.33L84.2 43.9L84.29 44.48L84.39 45.06L84.48 45.65L84.58 46.24L84.67 46.84L84.77 47.44L84.86 48.04L84.95 48.64L85.05 49.24L85.14 49.84L85.24 50.44L85.33 51.04L85.43 51.63L85.52 52.23L85.62 52.82L85.71 53.4L85.8 53.98L85.9 54.56L85.99 55.13L86.09 55.7L86.18 56.27L86.28 56.83L86.37 57.39L86.46 57.95L86.56 58.5L86.65 59.04L86.75 59.59L86.84 60.12L86.93 60.66L87.03 61.19L87.12 61.71L87.21 62.23L87.31 62.75L87.4 63.26L87.5 63.76L87.59 64.26L87.68 64.76L87.78 65.25L87.87 65.73L87.96 66.21L88.06 66.69L88.15 67.16L88.24 67.62L88.33 68.08L88.43 68.53L88.52 68.98L88.61 69.42L88.71 69.86L88.8 70.29L88.89 70.71L88.98 71.13L89.08 71.54L89.17 71.95L89.26 72.35L89.35 72.75L89.45 73.14L89.54 73.52L89.63 73.9L89.72 74.28L89.81 74.65L89.91 75.01L90 75.37L90.09 75.73L90.18 76.08L90.27 76.43L90.36 76.77L90.46 77.11L90.55 77.44L90.64 77.77L90.73 78.1L90.82 78.42L90.91 78.74L90.99 79.06L91.08 79.37L91.17 79.68L91.26 79.98L91.35 80.29L91.43 80.58L91.52 80.88L91.61 81.17L91.7 81.46L91.79 81.75L91.87 82.04L91.96 82.32L92.05 82.6L92.14 82.88L92.23 83.16L92.31 83.43L92.4 83.7L92.49 83.97L92.58 84.24L92.67 84.51L92.75 84.78L92.84 85.04L92.93 85.31L93.02 85.57L93.11 85.83L93.19 86.09L93.28 86.35L93.37 86.61L93.46 86.86L93.55 87.12L93.63 87.38L93.72 87.63L93.81 87.89L93.9 88.15L93.99 88.4L94.07 88.66L94.16 88.92L94.25 89.17L94.34 89.43L94.43 89.69L94.51 89.95L94.6 90.2L94.69 90.46L94.78 90.72L94.87 90.99L94.95 91.25L95.04 91.51L95.13 91.78L95.22 92.04L95.31 92.31L95.39 92.58L95.48 92.85L95.57 93.13L95.66 93.4L95.75 93.68L95.83 93.96L95.92 94.24L96.01 94.53L96.1 94.81L96.18 95.1L96.27 95.4L96.36 95.69L96.45 95.99L96.54 96.29L96.62 96.59L96.71 96.89L96.8 97.19L96.89 97.5L96.98 97.8L97.06 98.11L97.15 98.42L97.24 98.72L97.33 99.03L97.42 99.34L97.5 99.65L97.59 99.95L97.68 100.26L97.77 100.56L97.86 100.86L97.94 101.16L98.03 101.46L98.12 101.76L98.21 102.05L98.3 102.35L98.38 102.64L98.47 102.93L98.56 103.21L98.65 103.5L98.74 103.78L98.82 104.06L98.91 104.34L99 104.61L99.09 104.89L99.18 105.16L99.26 105.43L99.35 105.7L99.44 105.96L99.53 106.23L99.62 106.49L99.7 106.75L99.79 107.01L99.88 107.27L99.97 107.52L100.06 107.77L100.14 108.03L100.23 108.28L100.32 108.52L100.41 108.77L100.5 109.02L100.58 109.26L100.67 109.5L100.76 109.74L100.85 109.98L100.94 110.22L101.02 110.45L101.11 110.69L101.2 110.92L101.29 111.15L101.38 111.38L101.46 111.61L101.55 111.84L101.64 112.06L101.73 112.29L101.82 112.51L101.9 112.73L101.99 112.95L102.08 113.17L102.17 113.39L102.26 113.6L102.34 113.82L102.43 114.04L102.52 114.25L102.61 114.46L102.7 114.67L102.78 114.88L102.87 115.09L102.96 115.3L103.05 115.51L103.14 115.71L103.22 115.92L103.31 116.12L103.4 116.33L103.49 116.53L103.58 116.73L103.66 116.93L103.75 117.13L103.84 117.33L103.93 117.53L104.02 117.73L104.1 117.92L104.19 118.12L104.28 118.31L104.37 118.51L104.46 118.7L104.54 118.9L104.63 119.09L104.72 119.28L104.81 119.47L104.9 119.67L104.98 119.86L105.07 120.05L105.16 120.24L105.25 120.43L105.34 120.61L105.42 120.8L105.51 120.99L105.6 121.18L105.69 121.37L105.78 121.55L105.86 121.74L105.95 121.93L106.04 122.11L106.13 122.3L106.22 122.49L106.3 122.67L106.39 122.86L106.48 123.04L106.57 123.22L106.65 123.41L106.74 123.59L106.83 123.78L106.92 123.96L107.01 124.14L107.09 124.32L107.18 124.5L107.27 124.69L107.36 124.87L107.45 125.05L107.53 125.23L107.62 125.41L107.71 125.59L107.8 125.77L107.89 125.95L107.97 126.13L108.06 126.31L108.15 126.48L108.24 126.66L108.33 126.84L108.41 127.02L108.5 127.19L108.59 127.37L108.68 127.55L108.77 127.72L108.85 127.9L108.94 128.07L109.03 128.25L109.12 128.42L109.21 128.6L109.29 128.77L109.38 128.94L109.47 129.12L109.56 129.29L109.65 129.46L109.73 129.63L109.82 129.81L109.91 129.98L110 130.15L110.09 130.32L110.17 130.49L110.26 130.66L110.35 130.83L110.44 131L110.53 131.17L110.61 131.34L110.7 131.51L110.79 131.67L110.88 131.84L110.97 132.01L111.05 132.18L111.14 132.34L111.23 132.51L111.32 132.67L111.41 132.84L111.49 133L111.58 133.17L111.67 133.33L111.76 133.5L111.85 133.66L111.93 133.83L112.02 133.99L112.11 134.15L112.2 134.31L112.29 134.48L112.37 134.64L112.46 134.8L112.55 134.96L112.64 135.12L112.73 135.28L112.81 135.44L112.9 135.6L112.99 135.76L113.08 135.92L113.17 136.08L113.25 136.24L113.34 136.39L113.43 136.55L113.52 136.71L113.61 136.87L113.69 137.02L113.78 137.18L113.87 137.33L113.96 137.49L114.05 137.64L114.13 137.8L114.22 137.95L114.31 138.11L114.4 138.26L114.49 138.41L114.57 138.57L114.66 138.72L114.75 138.87L114.84 139.02L114.93 139.18L115.01 139.33L115.1 139.48L115.19 139.63L115.28 139.78L115.37 139.93L115.45 140.08L115.54 140.23L115.63 140.37L115.72 140.52L115.81 140.67L115.89 140.82L115.98 140.97L116.07 141.11L116.16 141.26L116.25 141.4L116.33 141.55L116.42 141.7L116.51 141.84L116.6 141.99L116.68 142.13L116.77 142.27L116.86 142.42L116.95 142.56L117.04 142.7L117.12 142.85L117.21 142.99L117.3 143.13L117.39 143.27L117.48 143.41L117.56 143.55L117.65 143.69L117.74 143.83L117.83 143.97L117.92 144.11L118 144.25L118.09 144.39L118.18 144.53L118.27 144.66L118.36 144.8L118.44 144.94L118.53 145.08L118.62 145.21L118.71 145.35L118.8 145.48L118.88 145.62L118.97 145.75L119.06 145.89L119.15 146.02L119.24 146.15L119.32 146.29L119.41 146.42L119.5 146.55L119.59 146.69L119.68 146.82L119.76 146.95L119.85 147.08L119.94 147.21L120.03 147.34L120.12 147.47L120.2 147.6L120.29 147.73L120.38 147.86L120.47 147.99L120.56 148.11L120.64 148.24L120.73 148.37L120.82 148.5L120.91 148.62L121 148.75L121.08 148.87L121.17 149L121.26 149.12L121.35 149.25L121.44 149.37L121.52 149.5L121.61 149.62L121.7 149.74L121.79 149.87L121.88 149.99L121.96 150.11L122.05 150.23L122.14 150.35L122.23 150.48L122.32 150.6L122.4 150.72L122.49 150.84L122.58 150.95L122.67 151.07L122.76 151.19L122.84 151.31L122.93 151.43L123.02 151.55L123.11 151.66L123.2 151.78L123.28 151.9L123.37 152.01L123.46 152.13L123.55 152.24L123.64 152.36L123.72 152.47L123.81 152.58L123.9 152.7L123.99 152.81L124.08 152.92L124.16 153.04L124.25 153.15L124.34 153.26L124.43 153.37L124.52 153.48L124.6 153.59L124.69 153.7L124.78 153.81L124.87 153.92L124.96 154.03L125.04 154.14L125.13 154.24L125.22 154.35L125.31 154.46L125.4 154.56L125.48 154.67L125.57 154.78L125.66 154.88L125.75 154.99L125.84 155.09L125.92 155.19L126.01 155.3L126.1 155.4L126.19 155.5L126.28 155.6L126.36 155.71L126.45 155.81L126.54 155.91L126.63 156.01L126.72 156.11L126.8 156.21L126.89 156.31L126.98 156.4L127.07 156.5L127.15 156.6L127.24 156.7L127.33 156.79L127.42 156.89L127.51 156.99L127.59 157.08L127.68 157.18L127.77 157.27L127.86 157.36L127.95 157.46L128.03 157.55L128.12 157.64L128.21 157.74L128.3 157.83L128.39 157.92L128.47 158.01L128.56 158.1L128.65 158.19L128.74 158.28L128.83 158.37L128.91 158.46L129 158.54L129.09 158.63L129.18 158.72L129.27 158.8L129.35 158.89L129.44 158.97L129.53 159.06L129.62 159.14L129.71 159.23L129.79 159.31L129.88 159.39L129.97 159.48L130.06 159.56L130.15 159.64L130.23 159.72L130.32 159.8L130.41 159.88L130.5 159.96L130.59 160.04L130.67 160.12L130.76 160.19L130.85 160.27L130.94 160.35L131.03 160.42L131.11 160.5L131.2 160.58L131.29 160.65L131.38 160.72L131.47 160.8L131.55 160.87L131.64 160.94L131.73 161.02L131.82 161.09L131.91 161.16L131.99 161.23L132.08 161.3L132.17 161.37L132.26 161.44L132.35 161.51L132.43 161.57L132.52 161.64L132.61 161.71L132.7 161.77L132.79 161.84L132.87 161.9L132.96 161.97L133.05 162.03L133.14 162.1L133.23 162.16L133.31 162.22L133.4 162.28L133.49 162.34L133.58 162.41L133.67 162.47L133.75 162.53L133.84 162.58L133.93 162.64L134.02 162.7L134.11 162.76L134.19 162.81L134.28 162.87L134.37 162.93L134.46 162.98L134.55 163.04L134.63 163.09L134.72 163.14L134.81 163.2L134.9 163.25L134.99 163.3L135.07 163.35L135.16 163.4L135.25 163.45L135.34 163.5L135.43 163.55L135.51 163.6L135.6 163.64L135.69 163.69L135.78 163.74L135.87 163.78L135.95 163.83L136.04 163.87L136.13 163.92L136.22 163.96L136.31 164L136.39 164.05L136.48 164.09L136.57 164.13L136.66 164.17L136.75 164.21L136.83 164.25L136.92 164.29L137.01 164.32L137.1 164.36L137.18 164.4L137.27 164.43L137.36 164.47L137.45 164.5L137.54 164.54L137.62 164.57L137.71 164.6L137.8 164.64L137.89 164.67L137.98 164.7L138.06 164.73L138.15 164.76L138.24 164.79L138.33 164.82L138.42 164.84L138.5 164.87L138.59 164.9L138.68 164.92L138.77 164.95L138.86 164.97L138.94 165L139.03 165.02L139.12 165.05L139.21 165.07L139.3 165.09L139.38 165.11L139.47 165.13L139.56 165.15L139.65 165.17L139.74 165.19L139.82 165.2L139.91 165.22L140 165.24L140.09 165.25L140.18 165.27L140.26 165.28L140.35 165.3L140.44 165.31L140.53 165.32L140.62 165.33L140.7 165.34L140.79 165.35L140.88 165.36L140.97 165.37L141.06 165.38L141.14 165.39L141.23 165.39L141.32 165.4L141.41 165.41L141.5 165.41L141.58 165.42L141.67 165.42L141.76 165.42L141.85 165.42L141.94 165.42L142.02 165.43L142.11 165.43L142.2 165.42L142.29 165.43L142.38 165.43L142.46 165.42L142.55 165.42L142.64 165.42L142.73 165.42L142.82 165.42L142.9 165.41L142.99 165.41L143.08 165.4L143.17 165.39L143.26 165.39L143.34 165.38L143.43 165.37L143.52 165.36L143.61 165.35L143.7 165.34L143.78 165.33L143.87 165.32L143.96 165.31L144.05 165.3L144.14 165.28L144.22 165.27L144.31 165.25L144.4 165.24L144.49 165.22L144.58 165.2L144.66 165.19L144.75 165.17L144.84 165.15L144.93 165.13L145.02 165.11L145.1 165.09L145.19 165.07L145.28 165.05L145.37 165.02L145.46 165L145.54 164.97L145.63 164.95L145.72 164.92L145.81 164.9L145.9 164.87L145.98 164.84L146.07 164.82L146.16 164.79L146.25 164.76L146.34 164.73L146.42 164.7L146.51 164.67L146.6 164.64L146.69 164.6L146.78 164.57L146.86 164.54L146.95 164.5L147.04 164.47L147.13 164.43L147.22 164.4L147.3 164.36L147.39 164.32L147.48 164.29L147.57 164.25L147.65 164.21L147.74 164.17L147.83 164.13L147.92 164.09L148.01 164.05L148.09 164L148.18 163.96L148.27 163.92L148.36 163.87L148.45 163.83L148.53 163.78L148.62 163.74L148.71 163.69L148.8 163.64L148.89 163.6L148.97 163.55L149.06 163.5L149.15 163.45L149.24 163.4L149.33 163.35L149.41 163.3L149.5 163.25L149.59 163.2L149.68 163.14L149.77 163.09L149.85 163.04L149.94 162.98L150.03 162.93L150.12 162.87L150.21 162.81L150.29 162.76L150.38 162.7L150.47 162.64L150.56 162.58L150.65 162.53L150.73 162.47L150.82 162.41L150.91 162.34L151 162.28L151.09 162.22L151.17 162.16L151.26 162.1L151.35 162.03L151.44 161.97L151.53 161.9L151.61 161.84L151.7 161.77L151.79 161.71L151.88 161.64L151.97 161.57L152.05 161.51L152.14 161.44L152.23 161.37L152.32 161.3L152.41 161.23L152.49 161.16L152.58 161.09L152.67 161.02L152.76 160.94L152.85 160.87L152.93 160.8L153.02 160.72L153.11 160.65L153.2 160.58L153.29 160.5L153.37 160.42L153.46 160.35L153.55 160.27L153.64 160.19L153.73 160.12L153.81 160.04L153.9 159.96L153.99 159.88L154.08 159.8L154.17 159.72L154.25 159.64L154.34 159.56L154.43 159.48L154.52 159.39L154.61 159.31L154.69 159.23L154.78 159.14L154.87 159.06L154.96 158.97L155.05 158.89L155.13 158.8L155.22 158.72L155.31 158.63L155.4 158.54L155.49 158.46L155.57 158.37L155.66 158.28L155.75 158.19L155.84 158.1L155.93 158.01L156.01 157.92L156.1 157.83L156.19 157.74L156.28 157.64L156.37 157.55L156.45 157.46L156.54 157.36L156.63 157.27L156.72 157.18L156.81 157.08L156.89 156.99L156.98 156.89L157.07 156.79L157.16 156.7L157.25 156.6L157.33 156.5L157.42 156.4L157.51 156.31L157.6 156.21L157.68 156.11L157.77 156.01L157.86 155.91L157.95 155.81L158.04 155.71L158.12 155.6L158.21 155.5L158.3 155.4L158.39 155.3L158.48 155.19L158.56 155.09L158.65 154.99L158.74 154.88L158.83 154.78L158.92 154.67L159 154.56L159.09 154.46L159.18 154.35L159.27 154.24L159.36 154.14L159.44 154.03L159.53 153.92L159.62 153.81L159.71 153.7L159.8 153.59L159.88 153.48L159.97 153.37L160.06 153.26L160.15 153.15L160.24 153.04L160.32 152.92L160.41 152.81L160.5 152.7L160.59 152.58L160.68 152.47L160.76 152.36L160.85 152.24L160.94 152.13L161.03 152.01L161.12 151.9L161.2 151.78L161.29 151.66L161.38 151.55L161.47 151.43L161.56 151.31L161.64 151.19L161.73 151.07L161.82 150.95L161.91 150.84L162 150.72L162.08 150.6L162.17 150.48L162.26 150.35L162.35 150.23L162.44 150.11L162.52 149.99L162.61 149.87L162.7 149.74L162.79 149.62L162.88 149.5L162.96 149.37L163.05 149.25L163.14 149.12L163.23 149L163.32 148.87L163.4 148.75L163.49 148.62L163.58 148.5L163.67 148.37L163.76 148.24L163.84 148.11L163.93 147.99L164.02 147.86L164.11 147.73L164.2 147.6L164.28 147.47L164.37 147.34L164.46 147.21L164.55 147.08L164.64 146.95L164.72 146.82L164.81 146.69L164.9 146.55L164.99 146.42L165.08 146.29L165.16 146.15L165.25 146.02L165.34 145.89L165.43 145.75L165.52 145.62L165.6 145.48L165.69 145.35L165.78 145.21L165.87 145.08L165.96 144.94L166.04 144.8L166.13 144.66L166.22 144.53L166.31 144.39L166.4 144.25L166.48 144.11L166.57 143.97L166.66 143.83L166.75 143.69L166.84 143.55L166.92 143.41L167.01 143.27L167.1 143.13L167.19 142.99L167.28 142.85L167.36 142.7L167.45 142.56L167.54 142.42L167.63 142.27L167.72 142.13L167.8 141.99L167.89 141.84L167.98 141.7L168.07 141.55L168.15 141.4L168.24 141.26L168.33 141.11L168.42 140.97L168.51 140.82L168.59 140.67L168.68 140.52L168.77 140.37L168.86 140.23L168.95 140.08L169.03 139.93L169.12 139.78L169.21 139.63L169.3 139.48L169.39 139.33L169.47 139.18L169.56 139.02L169.65 138.87L169.74 138.72L169.83 138.57L169.91 138.41L170 138.26L170.09 138.11L170.18 137.95L170.27 137.8L170.35 137.64L170.44 137.49L170.53 137.33L170.62 137.18L170.71 137.02L170.79 136.87L170.88 136.71L170.97 136.55L171.06 136.39L171.15 136.24L171.23 136.08L171.32 135.92L171.41 135.76L171.5 135.6L171.59 135.44L171.67 135.28L171.76 135.12L171.85 134.96L171.94 134.8L172.03 134.64L172.11 134.48L172.2 134.31L172.29 134.15L172.38 133.99L172.47 133.83L172.55 133.66L172.64 133.5L172.73 133.33L172.82 133.17L172.91 133L172.99 132.84L173.08 132.67L173.17 132.51L173.26 132.34L173.35 132.18L173.43 132.01L173.52 131.84L173.61 131.67L173.7 131.51L173.79 131.34L173.87 131.17L173.96 131L174.05 130.83L174.14 130.66L174.23 130.49L174.31 130.32L174.4 130.15L174.49 129.98L174.58 129.81L174.67 129.63L174.75 129.46L174.84 129.29L174.93 129.12L175.02 128.94L175.11 128.77L175.19 128.6L175.28 128.42L175.37 128.25L175.46 128.07L175.55 127.9L175.63 127.72L175.72 127.55L175.81 127.37L175.9 127.19L175.99 127.02L176.07 126.84L176.16 126.66L176.25 126.48L176.34 126.31L176.43 126.13L176.51 125.95L176.6 125.77L176.69 125.59L176.78 125.41L176.87 125.23L176.95 125.05L177.04 124.87L177.13 124.69L177.22 124.5L177.31 124.32L177.39 124.14L177.48 123.96L177.57 123.78L177.66 123.59L177.75 123.41L177.83 123.22L177.92 123.04L178.01 122.86L178.1 122.67L178.18 122.49L178.27 122.3L178.36 122.11L178.45 121.93L178.54 121.74L178.62 121.55L178.71 121.37L178.8 121.18L178.89 120.99L178.98 120.8L179.06 120.61L179.15 120.43L179.24 120.24L179.33 120.05L179.42 119.86L179.5 119.67L179.59 119.47L179.68 119.28L179.77 119.09L179.86 118.9L179.94 118.7L180.03 118.51L180.12 118.31L180.21 118.12L180.3 117.92L180.38 117.73L180.47 117.53L180.56 117.33L180.65 117.13L180.74 116.93L180.82 116.73L180.91 116.53L181 116.33L181.09 116.12L181.18 115.92L181.26 115.71L181.35 115.51L181.44 115.3L181.53 115.09L181.62 114.88L181.7 114.67L181.79 114.46L181.88 114.25L181.97 114.04L182.06 113.82L182.14 113.6L182.23 113.39L182.32 113.17L182.41 112.95L182.5 112.73L182.58 112.51L182.67 112.29L182.76 112.06L182.85 111.84L182.94 111.61L183.02 111.38L183.11 111.15L183.2 110.92L183.29 110.69L183.38 110.45L183.46 110.22L183.55 109.98L183.64 109.74L183.73 109.5L183.82 109.26L183.9 109.02L183.99 108.77L184.08 108.52L184.17 108.28L184.26 108.03L184.34 107.77L184.43 107.52L184.52 107.27L184.61 107.01L184.7 106.75L184.78 106.49L184.87 106.23L184.96 105.96L185.05 105.7L185.14 105.43L185.22 105.16L185.31 104.89L185.4 104.61L185.49 104.34L185.58 104.06L185.66 103.78L185.75 103.5L185.84 103.21L185.93 102.93L186.02 102.64L186.1 102.35L186.19 102.05L186.28 101.76L186.37 101.46L186.46 101.16L186.54 100.86L186.63 100.56L186.72 100.26L186.81 99.95L186.9 99.65L186.98 99.34L187.07 99.03L187.16 98.72L187.25 98.42L187.34 98.11L187.42 97.8L187.51 97.5L187.6 97.19L187.69 96.89L187.78 96.59L187.86 96.29L187.95 95.99L188.04 95.69L188.13 95.4L188.22 95.1L188.3 94.81L188.39 94.53L188.48 94.24L188.57 93.96L188.65 93.68L188.74 93.4L188.83 93.13L188.92 92.85L189.01 92.58L189.09 92.31L189.18 92.04L189.27 91.78L189.36 91.51L189.45 91.25L189.53 90.99L189.62 90.72L189.71 90.46L189.8 90.2L189.89 89.95L189.97 89.69L190.06 89.43L190.15 89.17L190.24 88.92L190.33 88.66L190.41 88.4L190.5 88.15L190.59 87.89L190.68 87.63L190.77 87.38L190.85 87.12L190.94 86.86L191.03 86.61L191.12 86.35L191.21 86.09L191.29 85.83L191.38 85.57L191.47 85.31L191.56 85.04L191.65 84.78L191.73 84.51L191.82 84.24L191.91 83.97L192 83.7L192.09 83.43L192.17 83.16L192.26 82.88L192.35 82.6L192.44 82.32L192.53 82.04L192.61 81.75L192.7 81.46L192.79 81.17L192.88 80.88L192.97 80.58L193.05 80.29L193.14 79.98L193.23 79.68L193.32 79.37L193.41 79.06L193.49 78.74L193.58 78.42L193.67 78.1L193.76 77.77L193.85 77.44L193.94 77.11L194.04 76.77L194.13 76.43L194.22 76.08L194.31 75.73L194.4 75.37L194.49 75.01L194.59 74.65L194.68 74.28L194.77 73.9L194.86 73.52L194.95 73.14L195.05 72.75L195.14 72.35L195.23 71.95L195.32 71.54L195.42 71.13L195.51 70.71L195.6 70.29L195.69 69.86L195.79 69.42L195.88 68.98L195.97 68.53L196.07 68.08L196.16 67.62L196.25 67.16L196.34 66.69L196.44 66.21L196.53 65.73L196.62 65.25L196.72 64.76L196.81 64.26L196.9 63.76L197 63.26L197.09 62.75L197.19 62.23L197.28 61.71L197.37 61.19L197.47 60.66L197.56 60.12L197.65 59.59L197.75 59.04L197.84 58.5L197.94 57.95L198.03 57.39L198.12 56.83L198.22 56.27L198.31 55.7L198.41 55.13L198.5 54.56L198.6 53.98L198.69 53.4L198.78 52.82L198.88 52.23L198.97 51.63L199.07 51.04L199.16 50.44L199.26 49.84L199.35 49.24L199.45 48.64L199.54 48.04L199.63 47.44L199.73 46.84L199.82 46.24L199.92 45.65L200.01 45.06L200.11 44.48L200.2 43.9L200.29 43.33L200.39 42.77L200.48 42.21L200.58 41.66L200.67 41.12L200.76 40.59L200.86 40.08L200.95 39.57L201.05 39.07L201.14 38.58L201.23 38.09L201.33 37.61L201.42 37.12L201.51 36.64L201.6 36.16L201.7 35.68L201.79 35.19L201.88 34.69L201.98 34.18L202.07 33.67L202.17 33.14L202.26 32.61L202.35 32.05L202.45 31.48L202.54 30.89L202.64 30.29L202.73 29.66L202.83 29.01L202.92 28.33L203.02 27.63L203.11 26.89L203.21 26.13L203.31 25.34L203.4 24.52L203.5 23.66L203.6 22.76L203.7 21.82L203.73 21.5" fill="none" stroke="#2ea82e" stroke-width="1.4"/>
<path d="M38.5 160.2L38.74 160.3L38.98 160.41L39.22 160.52L39.45 160.63L39.69 160.74L39.92 160.86L40.16 160.97L40.39 161.09L40.62 161.22L40.84 161.35L41.07 161.48L41.29 161.62L41.51 161.75L41.74 161.89L41.96 162.02L42.19 162.15L42.42 162.27L42.65 162.4L42.88 162.52L43.11 162.64L43.34 162.76L43.57 162.88L43.81 163L44.04 163.12L44.27 163.24L44.5 163.37L44.73 163.49L44.96 163.62L45.19 163.74L45.42 163.86L45.65 163.98L45.88 164.1L46.12 164.21L46.35 164.32L46.59 164.43L46.83 164.54L47.07 164.64L47.31 164.75L47.55 164.85L47.79 164.95L48.03 165.05L48.28 165.14L48.52 165.23L48.77 165.32L49.01 165.4L49.26 165.48L49.51 165.56L49.76 165.64L50.01 165.71L50.26 165.78L50.52 165.85L50.77 165.91L51.02 165.96L51.28 166.01L51.53 166.06L51.79 166.1L52.05 166.14L52.31 166.18L52.57 166.21L52.83 166.25L53.09 166.28L53.35 166.31L53.6 166.35L53.86 166.38L54.12 166.42L54.38 166.45L54.64 166.49L54.9 166.53L55.16 166.57L55.41 166.61L55.67 166.64L55.93 166.67L56.19 166.7L56.45 166.72L56.71 166.74L56.97 166.77L57.23 166.78L57.49 166.8L57.75 166.82L58.01 166.84L58.27 166.85L58.53 166.87L58.79 166.88L59.05 166.9L59.31 166.91L59.58 166.93L59.84 166.94L60.1 166.96L60.36 166.97L60.62 166.99L60.88 166.99L61.14 167L61.4 167L61.66 166.99L61.92 166.98L62.18 166.96L62.44 166.94L62.7 166.91L62.96 166.88L63.22 166.84L63.48 166.81L63.74 166.77L64 166.73L64.25 166.69L64.51 166.65L64.77 166.6L65.02 166.54L65.28 166.48L65.53 166.42L65.78 166.36L66.04 166.29L66.29 166.23L66.54 166.17L66.8 166.1L67.05 166.04L67.31 165.98L67.56 165.92L67.81 165.85L68.07 165.79L68.32 165.72L68.57 165.66L68.82 165.59L69.07 165.52L69.32 165.45L69.57 165.37L69.82 165.29L70.07 165.21L70.31 165.12L70.56 165.03L70.8 164.93L71.04 164.83L71.29 164.74L71.53 164.65L71.78 164.57L72.03 164.48L72.27 164.39L72.52 164.31L72.77 164.23L73.01 164.14L73.26 164.06L73.51 163.98L73.76 163.9L74.01 163.81L74.25 163.73L74.5 163.65L74.75 163.56L74.99 163.48L75.24 163.39L75.49 163.31L75.73 163.22L75.98 163.13L76.22 163.03L76.46 162.94L76.71 162.84L76.95 162.75L77.19 162.65L77.44 162.55L77.68 162.46L77.92 162.36L78.16 162.26L78.41 162.17L78.65 162.07L78.89 161.98L79.14 161.88L79.38 161.79L79.62 161.7L79.87 161.61L80.12 161.53L80.36 161.44L80.61 161.36L80.86 161.28L81.11 161.2L81.35 161.12L81.6 161.03L81.85 160.95L82.1 160.87L82.35 160.79L82.6 160.71L82.85 160.63L83.11 160.56L83.36 160.48L83.61 160.41L83.86 160.35L84.11 160.29L84.37 160.23L84.62 160.18L84.88 160.14L85.13 160.1L85.39 160.06L85.65 160.02L85.91 159.98L86.17 159.95L86.43 159.91L86.69 159.88L86.95 159.85L87.21 159.82L87.47 159.79L87.73 159.76L87.99 159.74L88.25 159.73L88.51 159.71L88.77 159.7L89.03 159.7L89.29 159.7L89.54 159.72L89.8 159.75L90.06 159.78L90.31 159.83L90.57 159.89L90.83 159.95L91.08 160.02L91.34 160.1L91.59 160.18L91.85 160.27L92.1 160.36L92.35 160.45L92.59 160.55L92.84 160.64L93.08 160.74L93.32 160.83L93.56 160.92L93.79 161.02L94.03 161.12L94.26 161.24L94.49 161.35L94.72 161.48L94.95 161.61L95.17 161.74L95.4 161.88L95.62 162.02L95.84 162.17L96.06 162.32L96.28 162.47L96.5 162.62L96.71 162.77L96.93 162.93L97.14 163.08L97.35 163.24L97.56 163.4L97.77 163.55L97.97 163.71L98.17 163.87L98.37 164.03L98.57 164.2L98.76 164.38M101.24 166.71L101.43 166.89L101.63 167.06L101.83 167.23L102.03 167.39L102.23 167.57L102.43 167.74L102.63 167.91L102.83 168.09L103.03 168.26L103.23 168.44L103.44 168.61L103.64 168.78L103.85 168.95L104.05 169.11L104.26 169.27L104.47 169.42L104.69 169.57L104.9 169.71L105.12 169.84L105.34 169.97L105.56 170.08L105.79 170.19L106.02 170.3L106.26 170.42L106.5 170.53L106.74 170.64L106.99 170.76L107.24 170.87L107.49 170.97L107.74 171.07L108 171.17L108.25 171.26L108.51 171.34L108.76 171.41L109.01 171.47L109.27 171.52L109.52 171.56L109.77 171.59L110.02 171.6L110.26 171.6L110.51 171.58L110.76 171.54L111.01 171.49L111.27 171.43L111.52 171.36L111.77 171.27L112.03 171.18L112.28 171.07L112.53 170.96L112.78 170.84L113.02 170.72L113.26 170.6L113.5 170.47L113.74 170.34L113.97 170.21L114.19 170.08L114.41 169.95L114.62 169.82L114.84 169.69L115.04 169.54L115.25 169.38L115.45 169.21L115.65 169.04M168.75 169.04L168.95 169.21L169.15 169.38L169.36 169.54L169.56 169.69L169.78 169.82L169.99 169.95L170.21 170.08L170.43 170.21L170.66 170.34L170.9 170.47L171.14 170.6L171.38 170.72L171.62 170.84L171.87 170.96L172.12 171.07L172.37 171.18L172.63 171.27L172.88 171.36L173.13 171.43L173.39 171.49L173.64 171.54L173.89 171.58L174.14 171.6L174.38 171.6L174.63 171.59L174.88 171.56L175.13 171.52L175.39 171.47L175.64 171.41L175.89 171.34L176.15 171.26L176.4 171.17L176.66 171.07L176.91 170.97L177.16 170.87L177.41 170.76L177.66 170.64L177.9 170.53L178.14 170.42L178.38 170.3L178.61 170.19L178.84 170.08L179.06 169.97L179.28 169.84L179.5 169.71L179.71 169.57L179.93 169.42L180.14 169.27L180.35 169.11L180.55 168.95L180.76 168.78L180.96 168.61L181.17 168.44L181.37 168.26L181.57 168.09L181.77 167.91L181.97 167.74L182.17 167.57L182.37 167.39L182.57 167.23L182.77 167.06L182.97 166.89L183.16 166.71M185.64 164.38L185.83 164.2L186.03 164.03L186.23 163.87L186.43 163.71L186.63 163.55L186.84 163.4L187.05 163.24L187.26 163.08L187.47 162.93L187.69 162.77L187.9 162.62L188.12 162.47L188.34 162.32L188.56 162.17L188.78 162.02L189 161.88L189.23 161.74L189.45 161.61L189.68 161.48L189.91 161.35L190.14 161.24L190.37 161.12L190.61 161.02L190.84 160.92L191.08 160.83L191.32 160.74L191.56 160.64L191.81 160.55L192.05 160.45L192.3 160.36L192.55 160.27L192.81 160.18L193.06 160.1L193.32 160.02L193.57 159.95L193.83 159.89L194.09 159.83L194.34 159.78L194.6 159.75L194.86 159.72L195.11 159.7L195.37 159.7L195.63 159.7L195.89 159.71L196.15 159.73L196.41 159.74L196.67 159.76L196.93 159.79L197.19 159.82L197.45 159.85L197.71 159.88L197.97 159.91L198.23 159.95L198.49 159.98L198.75 160.02L199.01 160.06L199.27 160.1L199.52 160.14L199.78 160.18L200.03 160.23L200.29 160.29L200.54 160.35L200.79 160.41L201.04 160.48L201.29 160.56L201.55 160.63L201.8 160.71L202.05 160.79L202.3 160.87L202.55 160.95L202.8 161.03L203.05 161.12L203.29 161.2L203.54 161.28L203.79 161.36L204.04 161.44L204.28 161.53L204.53 161.61L204.78 161.7L205.02 161.79L205.26 161.88L205.51 161.98L205.75 162.07L205.99 162.17L206.24 162.26L206.48 162.36L206.72 162.46L206.96 162.55L207.21 162.65L207.45 162.75L207.69 162.84L207.94 162.94L208.18 163.03L208.42 163.13L208.67 163.22L208.91 163.31L209.16 163.39L209.41 163.48L209.65 163.56L209.9 163.65L210.15 163.73L210.39 163.81L210.64 163.9L210.89 163.98L211.14 164.06L211.39 164.14L211.63 164.23L211.88 164.31L212.13 164.39L212.37 164.48L212.62 164.57L212.87 164.65L213.11 164.74L213.36 164.83L213.6 164.93L213.84 165.03L214.09 165.12L214.33 165.21L214.58 165.29L214.83 165.37L215.08 165.45L215.33 165.52L215.58 165.59L215.83 165.66L216.08 165.72L216.33 165.79L216.59 165.85L216.84 165.92L217.09 165.98L217.35 166.04L217.6 166.1L217.86 166.17L218.11 166.23L218.36 166.29L218.62 166.36L218.87 166.42L219.12 166.48L219.38 166.54L219.63 166.6L219.89 166.65L220.15 166.69L220.4 166.73L220.66 166.77L220.92 166.81L221.18 166.84L221.44 166.88L221.7 166.91L221.96 166.94L222.22 166.96L222.48 166.98L222.74 166.99L223 167L223.26 167L223.52 166.99L223.78 166.99L224.04 166.97L224.3 166.96L224.56 166.94L224.82 166.93L225.09 166.91L225.35 166.9L225.61 166.88L225.87 166.87L226.13 166.85L226.39 166.84L226.65 166.82L226.91 166.8L227.17 166.78L227.43 166.77L227.69 166.74L227.95 166.72L228.21 166.7L228.47 166.67L228.73 166.64L228.99 166.61L229.24 166.57L229.5 166.53L229.76 166.49L230.02 166.45L230.28 166.42L230.54 166.38L230.8 166.35L231.05 166.31L231.31 166.28L231.57 166.25L231.83 166.21L232.09 166.18L232.35 166.14L232.61 166.1L232.87 166.06L233.12 166.01L233.38 165.96L233.63 165.91L233.88 165.85L234.14 165.78L234.39 165.71L234.64 165.64L234.89 165.56L235.14 165.48L235.39 165.4L235.63 165.32L235.88 165.23L236.12 165.14L236.37 165.05L236.61 164.95L236.85 164.85L237.09 164.75L237.33 164.64L237.57 164.54L237.81 164.43L238.05 164.32L238.28 164.21L238.52 164.1L238.75 163.98L238.98 163.86L239.21 163.74L239.44 163.62L239.67 163.49L239.9 163.37L240.13 163.24L240.36 163.12L240.59 163L240.83 162.88L241.06 162.76L241.29 162.64L241.52 162.52L241.75 162.4L241.98 162.27L242.21 162.15L242.44 162.02L242.66 161.89L242.89 161.75L243.11 161.62L243.33 161.48L243.56 161.35L243.78 161.22L244.01 161.09L244.24 160.97L244.48 160.86L244.71 160.74L244.95 160.63L245.18 160.52L245.42 160.41L245.66 160.3L245.9 160.2M130.5 159.96L130.59 160.04L130.67 160.12L130.76 160.19L130.85 160.27L130.94 160.35L131.03 160.42L131.11 160.5L131.2 160.58L131.29 160.65L131.38 160.72L131.47 160.8L131.55 160.87L131.64 160.94L131.73 161.02L131.82 161.09L131.91 161.16L131.99 161.23L132.08 161.3L132.17 161.37L132.26 161.44L132.35 161.51L132.43 161.57L132.52 161.64L132.61 161.71L132.7 161.77L132.79 161.84L132.87 161.9L132.96 161.97L133.05 162.03L133.14 162.1L133.23 162.16L133.31 162.22L133.4 162.28L133.49 162.34L133.58 162.41L133.67 162.47L133.75 162.53L133.84 162.58L133.93 162.64L134.02 162.7L134.11 162.76L134.19 162.81L134.28 162.87L134.37 162.93L134.46 162.98L134.55 163.04L134.63 163.09L134.72 163.14L134.81 163.2L134.9 163.25L134.99 163.3L135.07 163.35L135.16 163.4L135.25 163.45L135.34 163.5L135.43 163.55L135.51 163.6L135.6 163.64L135.69 163.69L135.78 163.74L135.87 163.78L135.95 163.83L136.04 163.87L136.13 163.92L136.22 163.96L136.31 164L136.39 164.05L136.48 164.09L136.57 164.13L136.66 164.17L136.75 164.21L136.83 164.25L136.92 164.29L137.01 164.32L137.1 164.36L137.18 164.4L137.27 164.43L137.36 164.47L137.45 164.5L137.54 164.54L137.62 164.57L137.71 164.6L137.8 164.64L137.89 164.67L137.98 164.7L138.06 164.73L138.15 164.76L138.24 164.79L138.33 164.82L138.42 164.84L138.5 164.87L138.59 164.9L138.68 164.92L138.77 164.95L138.86 164.97L138.94 165L139.03 165.02L139.12 165.05L139.21 165.07L139.3 165.09L139.38 165.11L139.47 165.13L139.56 165.15L139.65 165.17L139.74 165.19L139.82 165.2L139.91 165.22L140 165.24L140.09 165.25L140.18 165.27L140.26 165.28L140.35 165.3L140.44 165.31L140.53 165.32L140.62 165.33L140.7 165.34L140.79 165.35L140.88 165.36L140.97 165.37L141.06 165.38L141.14 165.39L141.23 165.39L141.32 165.4L141.41 165.41L141.5 165.41L141.58 165.42L141.67 165.42L141.76 165.42L141.85 165.42L141.94 165.42L142.02 165.43L142.11 165.43L142.2 165.42L142.29 165.43L142.38 165.43L142.46 165.42L142.55 165.42L142.64 165.42L142.73 165.42L142.82 165.42L142.9 165.41L142.99 165.41L143.08 165.4L143.17 165.39L143.26 165.39L143.34 165.38L143.43 165.37L143.52 165.36L143.61 165.35L143.7 165.34L143.78 165.33L143.87 165.32L143.96 165.31L144.05 165.3L144.14 165.28L144.22 165.27L144.31 165.25L144.4 165.24L144.49 165.22L144.58 165.2L144.66 165.19L144.75 165.17L144.84 165.15L144.93 165.13L145.02 165.11L145.1 165.09L145.19 165.07L145.28 165.05L145.37 165.02L145.46 165L145.54 164.97L145.63 164.95L145.72 164.92L145.81 164.9L145.9 164.87L145.98 164.84L146.07 164.82L146.16 164.79L146.25 164.76L146.34 164.73L146.42 164.7L146.51 164.67L146.6 164.64L146.69 164.6L146.78 164.57L146.86 164.54L146.95 164.5L147.04 164.47L147.13 164.43L147.22 164.4L147.3 164.36L147.39 164.32L147.48 164.29L147.57 164.25L147.65 164.21L147.74 164.17L147.83 164.13L147.92 164.09L148.01 164.05L148.09 164L148.18 163.96L148.27 163.92L148.36 163.87L148.45 163.83L148.53 163.78L148.62 163.74L148.71 163.69L148.8 163.64L148.89 163.6L148.97 163.55L149.06 163.5L149.15 163.45L149.24 163.4L149.33 163.35L149.41 163.3L149.5 163.25L149.59 163.2L149.68 163.14L149.77 163.09L149.85 163.04L149.94 162.98L150.03 162.93L150.12 162.87L150.21 162.81L150.29 162.76L150.38 162.7L150.47 162.64L150.56 162.58L150.65 162.53L150.73 162.47L150.82 162.41L150.91 162.34L151 162.28L151.09 162.22L151.17 162.16L151.26 162.1L151.35 162.03L151.44 161.97L151.53 161.9L151.61 161.84L151.7 161.77L151.79 161.71L151.88 161.64L151.97 161.57L152.05 161.51L152.14 161.44L152.23 161.37L152.32 161.3L152.41 161.23L152.49 161.16L152.58 161.09L152.67 161.02L152.76 160.94L152.85 160.87L152.93 160.8L153.02 160.72L153.11 160.65L153.2 160.58L153.29 160.5L153.37 160.42L153.46 160.35L153.55 160.27L153.64 160.19L153.73 160.12L153.81 160.04L153.9 159.96" fill="none" stroke="#2ea82e" stroke-width="5.8" stroke-opacity="0.88"/>
<path d="M98.76 164.38L98.96 164.55L99.15 164.73L99.34 164.91L99.53 165.09L99.72 165.27L99.91 165.45L100.1 165.63L100.28 165.82L100.47 166L100.66 166.18L100.85 166.36L101.05 166.54L101.24 166.71M115.65 169.04L115.84 168.86L116.04 168.67L116.22 168.48L116.41 168.29L116.59 168.09L116.77 167.89L116.94 167.7L117.11 167.5L117.28 167.3L117.45 167.11L117.61 166.91L117.77 166.7L117.93 166.49L118.08 166.28L118.23 166.07L118.38 165.85L118.53 165.63L118.68 165.41L118.82 165.19L118.96 164.97L119.1 164.75L119.23 164.52L119.37 164.29L119.5 164.07L119.62 163.84M164.78 163.84L164.9 164.07L165.03 164.29L165.17 164.52L165.3 164.75L165.44 164.97L165.58 165.19L165.72 165.41L165.87 165.63L166.02 165.85L166.17 166.07L166.32 166.28L166.47 166.49L166.63 166.7L166.79 166.91L166.95 167.11L167.12 167.3L167.29 167.5L167.46 167.7L167.63 167.89L167.81 168.09L167.99 168.29L168.18 168.48L168.36 168.67L168.56 168.86L168.75 169.04M183.16 166.71L183.35 166.54L183.55 166.36L183.74 166.18L183.93 166L184.12 165.82L184.3 165.63L184.49 165.45L184.68 165.27L184.87 165.09L185.06 164.91L185.25 164.73L185.44 164.55L185.64 164.38M113.17 136.08L113.25 136.24L113.34 136.39L113.43 136.55L113.52 136.71L113.61 136.87L113.69 137.02L113.78 137.18L113.87 137.33L113.96 137.49L114.05 137.64L114.13 137.8L114.22 137.95L114.31 138.11L114.4 138.26L114.49 138.41L114.57 138.57L114.66 138.72L114.75 138.87L114.84 139.02L114.93 139.18L115.01 139.33L115.1 139.48L115.19 139.63L115.28 139.78L115.37 139.93L115.45 140.08L115.54 140.23L115.63 140.37L115.72 140.52L115.81 140.67L115.89 140.82L115.98 140.97L116.07 141.11L116.16 141.26L116.25 141.4L116.33 141.55L116.42 141.7L116.51 141.84L116.6 141.99L116.68 142.13L116.77 142.27L116.86 142.42L116.95 142.56L117.04 142.7L117.12 142.85L117.21 142.99L117.3 143.13L117.39 143.27L117.48 143.41L117.56 143.55L117.65 143.69L117.74 143.83L117.83 143.97L117.92 144.11L118 144.25L118.09 144.39L118.18 144.53L118.27 144.66L118.36 144.8L118.44 144.94L118.53 145.08L118.62 145.21L118.71 145.35L118.8 145.48L118.88 145.62L118.97 145.75L119.06 145.89L119.15 146.02L119.24 146.15L119.32 146.29L119.41 146.42L119.5 146.55L119.59 146.69L119.68 146.82L119.76 146.95L119.85 147.08L119.94 147.21L120.03 147.34L120.12 147.47L120.2 147.6L120.29 147.73L120.38 147.86L120.47 147.99L120.56 148.11L120.64 148.24L120.73 148.37L120.82 148.5L120.91 148.62L121 148.75L121.08 148.87L121.17 149L121.26 149.12L121.35 149.25L121.44 149.37L121.52 149.5L121.61 149.62L121.7 149.74L121.79 149.87L121.88 149.99L121.96 150.11L122.05 150.23L122.14 150.35L122.23 150.48L122.32 150.6L122.4 150.72L122.49 150.84L122.58 150.95L122.67 151.07L122.76 151.19L122.84 151.31L122.93 151.43L123.02 151.55L123.11 151.66L123.2 151.78L123.28 151.9L123.37 152.01L123.46 152.13L123.55 152.24L123.64 152.36L123.72 152.47L123.81 152.58L123.9 152.7L123.99 152.81L124.08 152.92L124.16 153.04L124.25 153.15L124.34 153.26L124.43 153.37L124.52 153.48L124.6 153.59L124.69 153.7L124.78 153.81L124.87 153.92L124.96 154.03L125.04 154.14L125.13 154.24L125.22 154.35L125.31 154.46L125.4 154.56L125.48 154.67L125.57 154.78L125.66 154.88L125.75 154.99L125.84 155.09L125.92 155.19L126.01 155.3L126.1 155.4L126.19 155.5L126.28 155.6L126.36 155.71L126.45 155.81L126.54 155.91L126.63 156.01L126.72 156.11L126.8 156.21L126.89 156.31L126.98 156.4L127.07 156.5L127.15 156.6L127.24 156.7L127.33 156.79L127.42 156.89L127.51 156.99L127.59 157.08L127.68 157.18L127.77 157.27L127.86 157.36L127.95 157.46L128.03 157.55L128.12 157.64L128.21 157.74L128.3 157.83L128.39 157.92L128.47 158.01L128.56 158.1L128.65 158.19L128.74 158.28L128.83 158.37L128.91 158.46L129 158.54L129.09 158.63L129.18 158.72L129.27 158.8L129.35 158.89L129.44 158.97L129.53 159.06L129.62 159.14L129.71 159.23L129.79 159.31L129.88 159.39L129.97 159.48L130.06 159.56L130.15 159.64L130.23 159.72L130.32 159.8L130.41 159.88L130.5 159.96M153.9 159.96L153.99 159.88L154.08 159.8L154.17 159.72L154.25 159.64L154.34 159.56L154.43 159.48L154.52 159.39L154.61 159.31L154.69 159.23L154.78 159.14L154.87 159.06L154.96 158.97L155.05 158.89L155.13 158.8L155.22 158.72L155.31 158.63L155.4 158.54L155.49 158.46L155.57 158.37L155.66 158.28L155.75 158.19L155.84 158.1L155.93 158.01L156.01 157.92L156.1 157.83L156.19 157.74L156.28 157.64L156.37 157.55L156.45 157.46L156.54 157.36L156.63 157.27L156.72 157.18L156.81 157.08L156.89 156.99L156.98 156.89L157.07 156.79L157.16 156.7L157.25 156.6L157.33 156.5L157.42 156.4L157.51 156.31L157.6 156.21L157.68 156.11L157.77 156.01L157.86 155.91L157.95 155.81L158.04 155.71L158.12 155.6L158.21 155.5L158.3 155.4L158.39 155.3L158.48 155.19L158.56 155.09L158.65 154.99L158.74 154.88L158.83 154.78L158.92 154.67L159 154.56L159.09 154.46L159.18 154.35L159.27 154.24L159.36 154.14L159.44 154.03L159.53 153.92L159.62 153.81L159.71 153.7L159.8 153.59L159.88 153.48L159.97 153.37L160.06 153.26L160.15 153.15L160.24 153.04L160.32 152.92L160.41 152.81L160.5 152.7L160.59 152.58L160.68 152.47L160.76 152.36L160.85 152.24L160.94 152.13L161.03 152.01L161.12 151.9L161.2 151.78L161.29 151.66L161.38 151.55L161.47 151.43L161.56 151.31L161.64 151.19L161.73 151.07L161.82 150.95L161.91 150.84L162 150.72L162.08 150.6L162.17 150.48L162.26 150.35L162.35 150.23L162.44 150.11L162.52 149.99L162.61 149.87L162.7 149.74L162.79 149.62L162.88 149.5L162.96 149.37L163.05 149.25L163.14 149.12L163.23 149L163.32 148.87L163.4 148.75L163.49 148.62L163.58 148.5L163.67 148.37L163.76 148.24L163.84 148.11L163.93 147.99L164.02 147.86L164.11 147.73L164.2 147.6L164.28 147.47L164.37 147.34L164.46 147.21L164.55 147.08L164.64 146.95L164.72 146.82L164.81 146.69L164.9 146.55L164.99 146.42L165.08 146.29L165.16 146.15L165.25 146.02L165.34 145.89L165.43 145.75L165.52 145.62L165.6 145.48L165.69 145.35L165.78 145.21L165.87 145.08L165.96 144.94L166.04 144.8L166.13 144.66L166.22 144.53L166.31 144.39L166.4 144.25L166.48 144.11L166.57 143.97L166.66 143.83L166.75 143.69L166.84 143.55L166.92 143.41L167.01 143.27L167.1 143.13L167.19 142.99L167.28 142.85L167.36 142.7L167.45 142.56L167.54 142.42L167.63 142.27L167.72 142.13L167.8 141.99L167.89 141.84L167.98 141.7L168.07 141.55L168.15 141.4L168.24 141.26L168.33 141.11L168.42 140.97L168.51 140.82L168.59 140.67L168.68 140.52L168.77 140.37L168.86 140.23L168.95 140.08L169.03 139.93L169.12 139.78L169.21 139.63L169.3 139.48L169.39 139.33L169.47 139.18L169.56 139.02L169.65 138.87L169.74 138.72L169.83 138.57L169.91 138.41L170 138.26L170.09 138.11L170.18 137.95L170.27 137.8L170.35 137.64L170.44 137.49L170.53 137.33L170.62 137.18L170.71 137.02L170.79 136.87L170.88 136.71L170.97 136.55L171.06 136.39L171.15 136.24L171.23 136.08" fill="none" stroke="#2ea82e" stroke-width="5.8" stroke-opacity="0.68"/>
<path d="M119.62 163.84L119.75 163.61L119.87 163.39L119.99 163.16L120.11 162.93L120.23 162.69L120.34 162.46L120.46 162.23L120.57 161.99L120.68 161.75L120.79 161.52L120.9 161.28L121.01 161.04L121.11 160.8L121.22 160.56L121.32 160.31L121.42 160.07L121.52 159.83L121.61 159.58L121.71 159.34L121.8 159.1L121.9 158.85L121.99 158.61L122.07 158.36M124.48 150.1L124.56 149.85L124.65 149.61L124.75 149.36L124.84 149.12L124.93 148.87L125.02 148.63L125.11 148.38L125.2 148.14L125.29 147.89L125.38 147.65M159.02 147.65L159.11 147.89L159.2 148.14L159.29 148.38L159.38 148.63L159.47 148.87L159.56 149.12L159.65 149.36L159.75 149.61L159.84 149.85L159.92 150.1M162.33 158.36L162.41 158.61L162.5 158.85L162.6 159.1L162.69 159.34L162.79 159.58L162.88 159.83L162.98 160.07L163.08 160.31L163.18 160.56L163.29 160.8L163.39 161.04L163.5 161.28L163.61 161.52L163.72 161.75L163.83 161.99L163.94 162.23L164.06 162.46L164.17 162.69L164.29 162.93L164.41 163.16L164.53 163.39L164.65 163.61L164.78 163.84M100.41 108.77L100.5 109.02L100.58 109.26L100.67 109.5L100.76 109.74L100.85 109.98L100.94 110.22L101.02 110.45L101.11 110.69L101.2 110.92L101.29 111.15L101.38 111.38L101.46 111.61L101.55 111.84L101.64 112.06L101.73 112.29L101.82 112.51L101.9 112.73L101.99 112.95L102.08 113.17L102.17 113.39L102.26 113.6L102.34 113.82L102.43 114.04L102.52 114.25L102.61 114.46L102.7 114.67L102.78 114.88L102.87 115.09L102.96 115.3L103.05 115.51L103.14 115.71L103.22 115.92L103.31 116.12L103.4 116.33L103.49 116.53L103.58 116.73L103.66 116.93L103.75 117.13L103.84 117.33L103.93 117.53L104.02 117.73L104.1 117.92L104.19 118.12L104.28 118.31L104.37 118.51L104.46 118.7L104.54 118.9L104.63 119.09L104.72 119.28L104.81 119.47L104.9 119.67L104.98 119.86L105.07 120.05L105.16 120.24L105.25 120.43L105.34 120.61L105.42 120.8L105.51 120.99L105.6 121.18L105.69 121.37L105.78 121.55L105.86 121.74L105.95 121.93L106.04 122.11L106.13 122.3L106.22 122.49L106.3 122.67L106.39 122.86L106.48 123.04L106.57 123.22L106.65 123.41L106.74 123.59L106.83 123.78L106.92 123.96L107.01 124.14L107.09 124.32L107.18 124.5L107.27 124.69L107.36 124.87L107.45 125.05L107.53 125.23L107.62 125.41L107.71 125.59L107.8 125.77L107.89 125.95L107.97 126.13L108.06 126.31L108.15 126.48L108.24 126.66L108.33 126.84L108.41 127.02L108.5 127.19L108.59 127.37L108.68 127.55L108.77 127.72L108.85 127.9L108.94 128.07L109.03 128.25L109.12 128.42L109.21 128.6L109.29 128.77L109.38 128.94L109.47 129.12L109.56 129.29L109.65 129.46L109.73 129.63L109.82 129.81L109.91 129.98L110 130.15L110.09 130.32L110.17 130.49L110.26 130.66L110.35 130.83L110.44 131L110.53 131.17L110.61 131.34L110.7 131.51L110.79 131.67L110.88 131.84L110.97 132.01L111.05 132.18L111.14 132.34L111.23 132.51L111.32 132.67L111.41 132.84L111.49 133L111.58 133.17L111.67 133.33L111.76 133.5L111.85 133.66L111.93 133.83L112.02 133.99L112.11 134.15L112.2 134.31L112.29 134.48L112.37 134.64L112.46 134.8L112.55 134.96L112.64 135.12L112.73 135.28L112.81 135.44L112.9 135.6L112.99 135.76L113.08 135.92L113.17 136.08M171.23 136.08L171.32 135.92L171.41 135.76L171.5 135.6L171.59 135.44L171.67 135.28L171.76 135.12L171.85 134.96L171.94 134.8L172.03 134.64L172.11 134.48L172.2 134.31L172.29 134.15L172.38 133.99L172.47 133.83L172.55 133.66L172.64 133.5L172.73 133.33L172.82 133.17L172.91 133L172.99 132.84L173.08 132.67L173.17 132.51L173.26 132.34L173.35 132.18L173.43 132.01L173.52 131.84L173.61 131.67L173.7 131.51L173.79 131.34L173.87 131.17L173.96 131L174.05 130.83L174.14 130.66L174.23 130.49L174.31 130.32L174.4 130.15L174.49 129.98L174.58 129.81L174.67 129.63L174.75 129.46L174.84 129.29L174.93 129.12L175.02 128.94L175.11 128.77L175.19 128.6L175.28 128.42L175.37 128.25L175.46 128.07L175.55 127.9L175.63 127.72L175.72 127.55L175.81 127.37L175.9 127.19L175.99 127.02L176.07 126.84L176.16 126.66L176.25 126.48L176.34 126.31L176.43 126.13L176.51 125.95L176.6 125.77L176.69 125.59L176.78 125.41L176.87 125.23L176.95 125.05L177.04 124.87L177.13 124.69L177.22 124.5L177.31 124.32L177.39 124.14L177.48 123.96L177.57 123.78L177.66 123.59L177.75 123.41L177.83 123.22L177.92 123.04L178.01 122.86L178.1 122.67L178.18 122.49L178.27 122.3L178.36 122.11L178.45 121.93L178.54 121.74L178.62 121.55L178.71 121.37L178.8 121.18L178.89 120.99L178.98 120.8L179.06 120.61L179.15 120.43L179.24 120.24L179.33 120.05L179.42 119.86L179.5 119.67L179.59 119.47L179.68 119.28L179.77 119.09L179.86 118.9L179.94 118.7L180.03 118.51L180.12 118.31L180.21 118.12L180.3 117.92L180.38 117.73L180.47 117.53L180.56 117.33L180.65 117.13L180.74 116.93L180.82 116.73L180.91 116.53L181 116.33L181.09 116.12L181.18 115.92L181.26 115.71L181.35 115.51L181.44 115.3L181.53 115.09L181.62 114.88L181.7 114.67L181.79 114.46L181.88 114.25L181.97 114.04L182.06 113.82L182.14 113.6L182.23 113.39L182.32 113.17L182.41 112.95L182.5 112.73L182.58 112.51L182.67 112.29L182.76 112.06L182.85 111.84L182.94 111.61L183.02 111.38L183.11 111.15L183.2 110.92L183.29 110.69L183.38 110.45L183.46 110.22L183.55 109.98L183.64 109.74L183.73 109.5L183.82 109.26L183.9 109.02L183.99 108.77" fill="none" stroke="#2ea82e" stroke-width="5.8" stroke-opacity="0.5"/>
<path d="M38.5 160.2L38.74 160.3L38.98 160.41L39.22 160.52L39.45 160.63L39.69 160.74L39.92 160.86L40.16 160.97L40.39 161.09L40.62 161.22L40.84 161.35L41.07 161.48L41.29 161.62L41.51 161.75L41.74 161.89L41.96 162.02L42.19 162.15L42.42 162.27L42.65 162.4L42.88 162.52L43.11 162.64L43.34 162.76L43.57 162.88L43.81 163L44.04 163.12L44.27 163.24L44.5 163.37L44.73 163.49L44.96 163.62L45.19 163.74L45.42 163.86L45.65 163.98L45.88 164.1L46.12 164.21L46.35 164.32L46.59 164.43L46.83 164.54L47.07 164.64L47.31 164.75L47.55 164.85L47.79 164.95L48.03 165.05L48.28 165.14L48.52 165.23L48.77 165.32L49.01 165.4L49.26 165.48L49.51 165.56L49.76 165.64L50.01 165.71L50.26 165.78L50.52 165.85L50.77 165.91L51.02 165.96L51.28 166.01L51.53 166.06L51.79 166.1L52.05 166.14L52.31 166.18L52.57 166.21L52.83 166.25L53.09 166.28L53.35 166.31L53.6 166.35L53.86 166.38L54.12 166.42L54.38 166.45L54.64 166.49L54.9 166.53L55.16 166.57L55.41 166.61L55.67 166.64L55.93 166.67L56.19 166.7L56.45 166.72L56.71 166.74L56.97 166.77L57.23 166.78L57.49 166.8L57.75 166.82L58.01 166.84L58.27 166.85L58.53 166.87L58.79 166.88L59.05 166.9L59.31 166.91L59.58 166.93L59.84 166.94L60.1 166.96L60.36 166.97L60.62 166.99L60.88 166.99L61.14 167L61.4 167L61.66 166.99L61.92 166.98L62.18 166.96L62.44 166.94L62.7 166.91L62.96 166.88L63.22 166.84L63.48 166.81L63.74 166.77L64 166.73L64.25 166.69L64.51 166.65L64.77 166.6L65.02 166.54L65.28 166.48L65.53 166.42L65.78 166.36L66.04 166.29L66.29 166.23L66.54 166.17L66.8 166.1L67.05 166.04L67.31 165.98L67.56 165.92L67.81 165.85L68.07 165.79L68.32 165.72L68.57 165.66L68.82 165.59L69.07 165.52L69.32 165.45L69.57 165.37L69.82 165.29L70.07 165.21L70.31 165.12L70.56 165.03L70.8 164.93L71.04 164.83L71.29 164.74L71.53 164.65L71.78 164.57L72.03 164.48L72.27 164.39L72.52 164.31L72.77 164.23L73.01 164.14L73.26 164.06L73.51 163.98L73.76 163.9L74.01 163.81L74.25 163.73L74.5 163.65L74.75 163.56L74.99 163.48L75.24 163.39L75.49 163.31L75.73 163.22L75.98 163.13L76.22 163.03L76.46 162.94L76.71 162.84L76.95 162.75L77.19 162.65L77.44 162.55L77.68 162.46L77.92 162.36L78.16 162.26L78.41 162.17L78.65 162.07L78.89 161.98L79.14 161.88L79.38 161.79L79.62 161.7L79.87 161.61L80.12 161.53L80.36 161.44L80.61 161.36L80.86 161.28L81.11 161.2L81.35 161.12L81.6 161.03L81.85 160.95L82.1 160.87L82.35 160.79L82.6 160.71L82.85 160.63L83.11 160.56L83.36 160.48L83.61 160.41L83.86 160.35L84.11 160.29L84.37 160.23L84.62 160.18L84.88 160.14L85.13 160.1L85.39 160.06L85.65 160.02L85.91 159.98L86.17 159.95L86.43 159.91L86.69 159.88L86.95 159.85L87.21 159.82L87.47 159.79L87.73 159.76L87.99 159.74L88.25 159.73L88.51 159.71L88.77 159.7L89.03 159.7L89.29 159.7L89.54 159.72L89.8 159.75L90.06 159.78L90.31 159.83L90.57 159.89L90.83 159.95L91.08 160.02L91.34 160.1L91.59 160.18L91.85 160.27L92.1 160.36L92.35 160.45L92.59 160.55L92.84 160.64L93.08 160.74L93.32 160.83L93.56 160.92L93.79 161.02L94.03 161.12L94.26 161.24L94.49 161.35L94.72 161.48L94.95 161.61L95.17 161.74L95.4 161.88L95.62 162.02L95.84 162.17L96.06 162.32L96.28 162.47L96.5 162.62L96.71 162.77L96.93 162.93L97.14 163.08L97.35 163.24L97.56 163.4L97.77 163.55L97.97 163.71L98.17 163.87L98.37 164.03L98.57 164.2L98.76 164.38L98.96 164.55L99.15 164.73L99.34 164.91L99.53 165.09L99.72 165.27L99.91 165.45L100.1 165.63L100.28 165.82L100.47 166L100.66 166.18L100.85 166.36L101.05 166.54L101.24 166.71L101.43 166.89L101.63 167.06L101.83 167.23L102.03 167.39L102.23 167.57L102.43 167.74L102.63 167.91L102.83 168.09L103.03 168.26L103.23 168.44L103.44 168.61L103.64 168.78L103.85 168.95L104.05 169.11L104.26 169.27L104.47 169.42L104.69 169.57L104.9 169.71L105.12 169.84L105.34 169.97L105.56 170.08L105.79 170.19L106.02 170.3L106.26 170.42L106.5 170.53L106.74 170.64L106.99 170.76L107.24 170.87L107.49 170.97L107.74 171.07L108 171.17L108.25 171.26L108.51 171.34L108.76 171.41L109.01 171.47L109.27 171.52L109.52 171.56L109.77 171.59L110.02 171.6L110.26 171.6L110.51 171.58L110.76 171.54L111.01 171.49L111.27 171.43L111.52 171.36L111.77 171.27L112.03 171.18L112.28 171.07L112.53 170.96L112.78 170.84L113.02 170.72L113.26 170.6L113.5 170.47L113.74 170.34L113.97 170.21L114.19 170.08L114.41 169.95L114.62 169.82L114.84 169.69L115.04 169.54L115.25 169.38L115.45 169.21L115.65 169.04L115.84 168.86L116.04 168.67L116.22 168.48L116.41 168.29L116.59 168.09L116.77 167.89L116.94 167.7L117.11 167.5L117.28 167.3L117.45 167.11L117.61 166.91L117.77 166.7L117.93 166.49L118.08 166.28L118.23 166.07L118.38 165.85L118.53 165.63L118.68 165.41L118.82 165.19L118.96 164.97L119.1 164.75L119.23 164.52L119.37 164.29L119.5 164.07L119.62 163.84L119.75 163.61L119.87 163.39L119.99 163.16L120.11 162.93L120.23 162.69L120.34 162.46L120.46 162.23L120.57 161.99L120.68 161.75L120.79 161.52L120.9 161.28L121.01 161.04L121.11 160.8L121.22 160.56L121.32 160.31L121.42 160.07L121.52 159.83L121.61 159.58L121.71 159.34L121.8 159.1L121.9 158.85L121.99 158.61L122.07 158.36M124.48 150.1L124.56 149.85L124.65 149.61L124.75 149.36L124.84 149.12L124.93 148.87L125.02 148.63L125.11 148.38L125.2 148.14L125.29 147.89L125.38 147.65M159.02 147.65L159.11 147.89L159.2 148.14L159.29 148.38L159.38 148.63L159.47 148.87L159.56 149.12L159.65 149.36L159.75 149.61L159.84 149.85L159.92 150.1M162.33 158.36L162.41 158.61L162.5 158.85L162.6 159.1L162.69 159.34L162.79 159.58L162.88 159.83L162.98 160.07L163.08 160.31L163.18 160.56L163.29 160.8L163.39 161.04L163.5 161.28L163.61 161.52L163.72 161.75L163.83 161.99L163.94 162.23L164.06 162.46L164.17 162.69L164.29 162.93L164.41 163.16L164.53 163.39L164.65 163.61L164.78 163.84L164.9 164.07L165.03 164.29L165.17 164.52L165.3 164.75L165.44 164.97L165.58 165.19L165.72 165.41L165.87 165.63L166.02 165.85L166.17 166.07L166.32 166.28L166.47 166.49L166.63 166.7L166.79 166.91L166.95 167.11L167.12 167.3L167.29 167.5L167.46 167.7L167.63 167.89L167.81 168.09L167.99 168.29L168.18 168.48L168.36 168.67L168.56 168.86L168.75 169.04L168.95 169.21L169.15 169.38L169.36 169.54L169.56 169.69L169.78 169.82L169.99 169.95L170.21 170.08L170.43 170.21L170.66 170.34L170.9 170.47L171.14 170.6L171.38 170.72L171.62 170.84L171.87 170.96L172.12 171.07L172.37 171.18L172.63 171.27L172.88 171.36L173.13 171.43L173.39 171.49L173.64 171.54L173.89 171.58L174.14 171.6L174.38 171.6L174.63 171.59L174.88 171.56L175.13 171.52L175.39 171.47L175.64 171.41L175.89 171.34L176.15 171.26L176.4 171.17L176.66 171.07L176.91 170.97L177.16 170.87L177.41 170.76L177.66 170.64L177.9 170.53L178.14 170.42L178.38 170.3L178.61 170.19L178.84 170.08L179.06 169.97L179.28 169.84L179.5 169.71L179.71 169.57L179.93 169.42L180.14 169.27L180.35 169.11L180.55 168.95L180.76 168.78L180.96 168.61L181.17 168.44L181.37 168.26L181.57 168.09L181.77 167.91L181.97 167.74L182.17 167.57L182.37 167.39L182.57 167.23L182.77 167.06L182.97 166.89L183.16 166.71L183.35 166.54L183.55 166.36L183.74 166.18L183.93 166L184.12 165.82L184.3 165.63L184.49 165.45L184.68 165.27L184.87 165.09L185.06 164.91L185.25 164.73L185.44 164.55L185.64 164.38L185.83 164.2L186.03 164.03L186.23 163.87L186.43 163.71L186.63 163.55L186.84 163.4L187.05 163.24L187.26 163.08L187.47 162.93L187.69 162.77L187.9 162.62L188.12 162.47L188.34 162.32L188.56 162.17L188.78 162.02L189 161.88L189.23 161.74L189.45 161.61L189.68 161.48L189.91 161.35L190.14 161.24L190.37 161.12L190.61 161.02L190.84 160.92L191.08 160.83L191.32 160.74L191.56 160.64L191.81 160.55L192.05 160.45L192.3 160.36L192.55 160.27L192.81 160.18L193.06 160.1L193.32 160.02L193.57 159.95L193.83 159.89L194.09 159.83L194.34 159.78L194.6 159.75L194.86 159.72L195.11 159.7L195.37 159.7L195.63 159.7L195.89 159.71L196.15 159.73L196.41 159.74L196.67 159.76L196.93 159.79L197.19 159.82L197.45 159.85L197.71 159.88L197.97 159.91L198.23 159.95L198.49 159.98L198.75 160.02L199.01 160.06L199.27 160.1L199.52 160.14L199.78 160.18L200.03 160.23L200.29 160.29L200.54 160.35L200.79 160.41L201.04 160.48L201.29 160.56L201.55 160.63L201.8 160.71L202.05 160.79L202.3 160.87L202.55 160.95L202.8 161.03L203.05 161.12L203.29 161.2L203.54 161.28L203.79 161.36L204.04 161.44L204.28 161.53L204.53 161.61L204.78 161.7L205.02 161.79L205.26 161.88L205.51 161.98L205.75 162.07L205.99 162.17L206.24 162.26L206.48 162.36L206.72 162.46L206.96 162.55L207.21 162.65L207.45 162.75L207.69 162.84L207.94 162.94L208.18 163.03L208.42 163.13L208.67 163.22L208.91 163.31L209.16 163.39L209.41 163.48L209.65 163.56L209.9 163.65L210.15 163.73L210.39 163.81L210.64 163.9L210.89 163.98L211.14 164.06L211.39 164.14L211.63 164.23L211.88 164.31L212.13 164.39L212.37 164.48L212.62 164.57L212.87 164.65L213.11 164.74L213.36 164.83L213.6 164.93L213.84 165.03L214.09 165.12L214.33 165.21L214.58 165.29L214.83 165.37L215.08 165.45L215.33 165.52L215.58 165.59L215.83 165.66L216.08 165.72L216.33 165.79L216.59 165.85L216.84 165.92L217.09 165.98L217.35 166.04L217.6 166.1L217.86 166.17L218.11 166.23L218.36 166.29L218.62 166.36L218.87 166.42L219.12 166.48L219.38 166.54L219.63 166.6L219.89 166.65L220.15 166.69L220.4 166.73L220.66 166.77L220.92 166.81L221.18 166.84L221.44 166.88L221.7 166.91L221.96 166.94L222.22 166.96L222.48 166.98L222.74 166.99L223 167L223.26 167L223.52 166.99L223.78 166.99L224.04 166.97L224.3 166.96L224.56 166.94L224.82 166.93L225.09 166.91L225.35 166.9L225.61 166.88L225.87 166.87L226.13 166.85L226.39 166.84L226.65 166.82L226.91 166.8L227.17 166.78L227.43 166.77L227.69 166.74L227.95 166.72L228.21 166.7L228.47 166.67L228.73 166.64L228.99 166.61L229.24 166.57L229.5 166.53L229.76 166.49L230.02 166.45L230.28 166.42L230.54 166.38L230.8 166.35L231.05 166.31L231.31 166.28L231.57 166.25L231.83 166.21L232.09 166.18L232.35 166.14L232.61 166.1L232.87 166.06L233.12 166.01L233.38 165.96L233.63 165.91L233.88 165.85L234.14 165.78L234.39 165.71L234.64 165.64L234.89 165.56L235.14 165.48L235.39 165.4L235.63 165.32L235.88 165.23L236.12 165.14L236.37 165.05L236.61 164.95L236.85 164.85L237.09 164.75L237.33 164.64L237.57 164.54L237.81 164.43L238.05 164.32L238.28 164.21L238.52 164.1L238.75 163.98L238.98 163.86L239.21 163.74L239.44 163.62L239.67 163.49L239.9 163.37L240.13 163.24L240.36 163.12L240.59 163L240.83 162.88L241.06 162.76L241.29 162.64L241.52 162.52L241.75 162.4L241.98 162.27L242.21 162.15L242.44 162.02L242.66 161.89L242.89 161.75L243.11 161.62L243.33 161.48L243.56 161.35L243.78 161.22L244.01 161.09L244.24 160.97L244.48 160.86L244.71 160.74L244.95 160.63L245.18 160.52L245.42 160.41L245.66 160.3L245.9 160.2M100.41 108.77L100.5 109.02L100.58 109.26L100.67 109.5L100.76 109.74L100.85 109.98L100.94 110.22L101.02 110.45L101.11 110.69L101.2 110.92L101.29 111.15L101.38 111.38L101.46 111.61L101.55 111.84L101.64 112.06L101.73 112.29L101.82 112.51L101.9 112.73L101.99 112.95L102.08 113.17L102.17 113.39L102.26 113.6L102.34 113.82L102.43 114.04L102.52 114.25L102.61 114.46L102.7 114.67L102.78 114.88L102.87 115.09L102.96 115.3L103.05 115.51L103.14 115.71L103.22 115.92L103.31 116.12L103.4 116.33L103.49 116.53L103.58 116.73L103.66 116.93L103.75 117.13L103.84 117.33L103.93 117.53L104.02 117.73L104.1 117.92L104.19 118.12L104.28 118.31L104.37 118.51L104.46 118.7L104.54 118.9L104.63 119.09L104.72 119.28L104.81 119.47L104.9 119.67L104.98 119.86L105.07 120.05L105.16 120.24L105.25 120.43L105.34 120.61L105.42 120.8L105.51 120.99L105.6 121.18L105.69 121.37L105.78 121.55L105.86 121.74L105.95 121.93L106.04 122.11L106.13 122.3L106.22 122.49L106.3 122.67L106.39 122.86L106.48 123.04L106.57 123.22L106.65 123.41L106.74 123.59L106.83 123.78L106.92 123.96L107.01 124.14L107.09 124.32L107.18 124.5L107.27 124.69L107.36 124.87L107.45 125.05L107.53 125.23L107.62 125.41L107.71 125.59L107.8 125.77L107.89 125.95L107.97 126.13L108.06 126.31L108.15 126.48L108.24 126.66L108.33 126.84L108.41 127.02L108.5 127.19L108.59 127.37L108.68 127.55L108.77 127.72L108.85 127.9L108.94 128.07L109.03 128.25L109.12 128.42L109.21 128.6L109.29 128.77L109.38 128.94L109.47 129.12L109.56 129.29L109.65 129.46L109.73 129.63L109.82 129.81L109.91 129.98L110 130.15L110.09 130.32L110.17 130.49L110.26 130.66L110.35 130.83L110.44 131L110.53 131.17L110.61 131.34L110.7 131.51L110.79 131.67L110.88 131.84L110.97 132.01L111.05 132.18L111.14 132.34L111.23 132.51L111.32 132.67L111.41 132.84L111.49 133L111.58 133.17L111.67 133.33L111.76 133.5L111.85 133.66L111.93 133.83L112.02 133.99L112.11 134.15L112.2 134.31L112.29 134.48L112.37 134.64L112.46 134.8L112.55 134.96L112.64 135.12L112.73 135.28L112.81 135.44L112.9 135.6L112.99 135.76L113.08 135.92L113.17 136.08L113.25 136.24L113.34 136.39L113.43 136.55L113.52 136.71L113.61 136.87L113.69 137.02L113.78 137.18L113.87 137.33L113.96 137.49L114.05 137.64L114.13 137.8L114.22 137.95L114.31 138.11L114.4 138.26L114.49 138.41L114.57 138.57L114.66 138.72L114.75 138.87L114.84 139.02L114.93 139.18L115.01 139.33L115.1 139.48L115.19 139.63L115.28 139.78L115.37 139.93L115.45 140.08L115.54 140.23L115.63 140.37L115.72 140.52L115.81 140.67L115.89 140.82L115.98 140.97L116.07 141.11L116.16 141.26L116.25 141.4L116.33 141.55L116.42 141.7L116.51 141.84L116.6 141.99L116.68 142.13L116.77 142.27L116.86 142.42L116.95 142.56L117.04 142.7L117.12 142.85L117.21 142.99L117.3 143.13L117.39 143.27L117.48 143.41L117.56 143.55L117.65 143.69L117.74 143.83L117.83 143.97L117.92 144.11L118 144.25L118.09 144.39L118.18 144.53L118.27 144.66L118.36 144.8L118.44 144.94L118.53 145.08L118.62 145.21L118.71 145.35L118.8 145.48L118.88 145.62L118.97 145.75L119.06 145.89L119.15 146.02L119.24 146.15L119.32 146.29L119.41 146.42L119.5 146.55L119.59 146.69L119.68 146.82L119.76 146.95L119.85 147.08L119.94 147.21L120.03 147.34L120.12 147.47L120.2 147.6L120.29 147.73L120.38 147.86L120.47 147.99L120.56 148.11L120.64 148.24L120.73 148.37L120.82 148.5L120.91 148.62L121 148.75L121.08 148.87L121.17 149L121.26 149.12L121.35 149.25L121.44 149.37L121.52 149.5L121.61 149.62L121.7 149.74L121.79 149.87L121.88 149.99L121.96 150.11L122.05 150.23L122.14 150.35L122.23 150.48L122.32 150.6L122.4 150.72L122.49 150.84L122.58 150.95L122.67 151.07L122.76 151.19L122.84 151.31L122.93 151.43L123.02 151.55L123.11 151.66L123.2 151.78L123.28 151.9L123.37 152.01L123.46 152.13L123.55 152.24L123.64 152.36L123.72 152.47L123.81 152.58L123.9 152.7L123.99 152.81L124.08 152.92L124.16 153.04L124.25 153.15L124.34 153.26L124.43 153.37L124.52 153.48L124.6 153.59L124.69 153.7L124.78 153.81L124.87 153.92L124.96 154.03L125.04 154.14L125.13 154.24L125.22 154.35L125.31 154.46L125.4 154.56L125.48 154.67L125.57 154.78L125.66 154.88L125.75 154.99L125.84 155.09L125.92 155.19L126.01 155.3L126.1 155.4L126.19 155.5L126.28 155.6L126.36 155.71L126.45 155.81L126.54 155.91L126.63 156.01L126.72 156.11L126.8 156.21L126.89 156.31L126.98 156.4L127.07 156.5L127.15 156.6L127.24 156.7L127.33 156.79L127.42 156.89L127.51 156.99L127.59 157.08L127.68 157.18L127.77 157.27L127.86 157.36L127.95 157.46L128.03 157.55L128.12 157.64L128.21 157.74L128.3 157.83L128.39 157.92L128.47 158.01L128.56 158.1L128.65 158.19L128.74 158.28L128.83 158.37L128.91 158.46L129 158.54L129.09 158.63L129.18 158.72L129.27 158.8L129.35 158.89L129.44 158.97L129.53 159.06L129.62 159.14L129.71 159.23L129.79 159.31L129.88 159.39L129.97 159.48L130.06 159.56L130.15 159.64L130.23 159.72L130.32 159.8L130.41 159.88L130.5 159.96L130.59 160.04L130.67 160.12L130.76 160.19L130.85 160.27L130.94 160.35L131.03 160.42L131.11 160.5L131.2 160.58L131.29 160.65L131.38 160.72L131.47 160.8L131.55 160.87L131.64 160.94L131.73 161.02L131.82 161.09L131.91 161.16L131.99 161.23L132.08 161.3L132.17 161.37L132.26 161.44L132.35 161.51L132.43 161.57L132.52 161.64L132.61 161.71L132.7 161.77L132.79 161.84L132.87 161.9L132.96 161.97L133.05 162.03L133.14 162.1L133.23 162.16L133.31 162.22L133.4 162.28L133.49 162.34L133.58 162.41L133.67 162.47L133.75 162.53L133.84 162.58L133.93 162.64L134.02 162.7L134.11 162.76L134.19 162.81L134.28 162.87L134.37 162.93L134.46 162.98L134.55 163.04L134.63 163.09L134.72 163.14L134.81 163.2L134.9 163.25L134.99 163.3L135.07 163.35L135.16 163.4L135.25 163.45L135.34 163.5L135.43 163.55L135.51 163.6L135.6 163.64L135.69 163.69L135.78 163.74L135.87 163.78L135.95 163.83L136.04 163.87L136.13 163.92L136.22 163.96L136.31 164L136.39 164.05L136.48 164.09L136.57 164.13L136.66 164.17L136.75 164.21L136.83 164.25L136.92 164.29L137.01 164.32L137.1 164.36L137.18 164.4L137.27 164.43L137.36 164.47L137.45 164.5L137.54 164.54L137.62 164.57L137.71 164.6L137.8 164.64L137.89 164.67L137.98 164.7L138.06 164.73L138.15 164.76L138.24 164.79L138.33 164.82L138.42 164.84L138.5 164.87L138.59 164.9L138.68 164.92L138.77 164.95L138.86 164.97L138.94 165L139.03 165.02L139.12 165.05L139.21 165.07L139.3 165.09L139.38 165.11L139.47 165.13L139.56 165.15L139.65 165.17L139.74 165.19L139.82 165.2L139.91 165.22L140 165.24L140.09 165.25L140.18 165.27L140.26 165.28L140.35 165.3L140.44 165.31L140.53 165.32L140.62 165.33L140.7 165.34L140.79 165.35L140.88 165.36L140.97 165.37L141.06 165.38L141.14 165.39L141.23 165.39L141.32 165.4L141.41 165.41L141.5 165.41L141.58 165.42L141.67 165.42L141.76 165.42L141.85 165.42L141.94 165.42L142.02 165.43L142.11 165.43L142.2 165.42L142.29 165.43L142.38 165.43L142.46 165.42L142.55 165.42L142.64 165.42L142.73 165.42L142.82 165.42L142.9 165.41L142.99 165.41L143.08 165.4L143.17 165.39L143.26 165.39L143.34 165.38L143.43 165.37L143.52 165.36L143.61 165.35L143.7 165.34L143.78 165.33L143.87 165.32L143.96 165.31L144.05 165.3L144.14 165.28L144.22 165.27L144.31 165.25L144.4 165.24L144.49 165.22L144.58 165.2L144.66 165.19L144.75 165.17L144.84 165.15L144.93 165.13L145.02 165.11L145.1 165.09L145.19 165.07L145.28 165.05L145.37 165.02L145.46 165L145.54 164.97L145.63 164.95L145.72 164.92L145.81 164.9L145.9 164.87L145.98 164.84L146.07 164.82L146.16 164.79L146.25 164.76L146.34 164.73L146.42 164.7L146.51 164.67L146.6 164.64L146.69 164.6L146.78 164.57L146.86 164.54L146.95 164.5L147.04 164.47L147.13 164.43L147.22 164.4L147.3 164.36L147.39 164.32L147.48 164.29L147.57 164.25L147.65 164.21L147.74 164.17L147.83 164.13L147.92 164.09L148.01 164.05L148.09 164L148.18 163.96L148.27 163.92L148.36 163.87L148.45 163.83L148.53 163.78L148.62 163.74L148.71 163.69L148.8 163.64L148.89 163.6L148.97 163.55L149.06 163.5L149.15 163.45L149.24 163.4L149.33 163.35L149.41 163.3L149.5 163.25L149.59 163.2L149.68 163.14L149.77 163.09L149.85 163.04L149.94 162.98L150.03 162.93L150.12 162.87L150.21 162.81L150.29 162.76L150.38 162.7L150.47 162.64L150.56 162.58L150.65 162.53L150.73 162.47L150.82 162.41L150.91 162.34L151 162.28L151.09 162.22L151.17 162.16L151.26 162.1L151.35 162.03L151.44 161.97L151.53 161.9L151.61 161.84L151.7 161.77L151.79 161.71L151.88 161.64L151.97 161.57L152.05 161.51L152.14 161.44L152.23 161.37L152.32 161.3L152.41 161.23L152.49 161.16L152.58 161.09L152.67 161.02L152.76 160.94L152.85 160.87L152.93 160.8L153.02 160.72L153.11 160.65L153.2 160.58L153.29 160.5L153.37 160.42L153.46 160.35L153.55 160.27L153.64 160.19L153.73 160.12L153.81 160.04L153.9 159.96L153.99 159.88L154.08 159.8L154.17 159.72L154.25 159.64L154.34 159.56L154.43 159.48L154.52 159.39L154.61 159.31L154.69 159.23L154.78 159.14L154.87 159.06L154.96 158.97L155.05 158.89L155.13 158.8L155.22 158.72L155.31 158.63L155.4 158.54L155.49 158.46L155.57 158.37L155.66 158.28L155.75 158.19L155.84 158.1L155.93 158.01L156.01 157.92L156.1 157.83L156.19 157.74L156.28 157.64L156.37 157.55L156.45 157.46L156.54 157.36L156.63 157.27L156.72 157.18L156.81 157.08L156.89 156.99L156.98 156.89L157.07 156.79L157.16 156.7L157.25 156.6L157.33 156.5L157.42 156.4L157.51 156.31L157.6 156.21L157.68 156.11L157.77 156.01L157.86 155.91L157.95 155.81L158.04 155.71L158.12 155.6L158.21 155.5L158.3 155.4L158.39 155.3L158.48 155.19L158.56 155.09L158.65 154.99L158.74 154.88L158.83 154.78L158.92 154.67L159 154.56L159.09 154.46L159.18 154.35L159.27 154.24L159.36 154.14L159.44 154.03L159.53 153.92L159.62 153.81L159.71 153.7L159.8 153.59L159.88 153.48L159.97 153.37L160.06 153.26L160.15 153.15L160.24 153.04L160.32 152.92L160.41 152.81L160.5 152.7L160.59 152.58L160.68 152.47L160.76 152.36L160.85 152.24L160.94 152.13L161.03 152.01L161.12 151.9L161.2 151.78L161.29 151.66L161.38 151.55L161.47 151.43L161.56 151.31L161.64 151.19L161.73 151.07L161.82 150.95L161.91 150.84L162 150.72L162.08 150.6L162.17 150.48L162.26 150.35L162.35 150.23L162.44 150.11L162.52 149.99L162.61 149.87L162.7 149.74L162.79 149.62L162.88 149.5L162.96 149.37L163.05 149.25L163.14 149.12L163.23 149L163.32 148.87L163.4 148.75L163.49 148.62L163.58 148.5L163.67 148.37L163.76 148.24L163.84 148.11L163.93 147.99L164.02 147.86L164.11 147.73L164.2 147.6L164.28 147.47L164.37 147.34L164.46 147.21L164.55 147.08L164.64 146.95L164.72 146.82L164.81 146.69L164.9 146.55L164.99 146.42L165.08 146.29L165.16 146.15L165.25 146.02L165.34 145.89L165.43 145.75L165.52 145.62L165.6 145.48L165.69 145.35L165.78 145.21L165.87 145.08L165.96 144.94L166.04 144.8L166.13 144.66L166.22 144.53L166.31 144.39L166.4 144.25L166.48 144.11L166.57 143.97L166.66 143.83L166.75 143.69L166.84 143.55L166.92 143.41L167.01 143.27L167.1 143.13L167.19 142.99L167.28 142.85L167.36 142.7L167.45 142.56L167.54 142.42L167.63 142.27L167.72 142.13L167.8 141.99L167.89 141.84L167.98 141.7L168.07 141.55L168.15 141.4L168.24 141.26L168.33 141.11L168.42 140.97L168.51 140.82L168.59 140.67L168.68 140.52L168.77 140.37L168.86 140.23L168.95 140.08L169.03 139.93L169.12 139.78L169.21 139.63L169.3 139.48L169.39 139.33L169.47 139.18L169.56 139.02L169.65 138.87L169.74 138.72L169.83 138.57L169.91 138.41L170 138.26L170.09 138.11L170.18 137.95L170.27 137.8L170.35 137.64L170.44 137.49L170.53 137.33L170.62 137.18L170.71 137.02L170.79 136.87L170.88 136.71L170.97 136.55L171.06 136.39L171.15 136.24L171.23 136.08L171.32 135.92L171.41 135.76L171.5 135.6L171.59 135.44L171.67 135.28L171.76 135.12L171.85 134.96L171.94 134.8L172.03 134.64L172.11 134.48L172.2 134.31L172.29 134.15L172.38 133.99L172.47 133.83L172.55 133.66L172.64 133.5L172.73 133.33L172.82 133.17L172.91 133L172.99 132.84L173.08 132.67L173.17 132.51L173.26 132.34L173.35 132.18L173.43 132.01L173.52 131.84L173.61 131.67L173.7 131.51L173.79 131.34L173.87 131.17L173.96 131L174.05 130.83L174.14 130.66L174.23 130.49L174.31 130.32L174.4 130.15L174.49 129.98L174.58 129.81L174.67 129.63L174.75 129.46L174.84 129.29L174.93 129.12L175.02 128.94L175.11 128.77L175.19 128.6L175.28 128.42L175.37 128.25L175.46 128.07L175.55 127.9L175.63 127.72L175.72 127.55L175.81 127.37L175.9 127.19L175.99 127.02L176.07 126.84L176.16 126.66L176.25 126.48L176.34 126.31L176.43 126.13L176.51 125.95L176.6 125.77L176.69 125.59L176.78 125.41L176.87 125.23L176.95 125.05L177.04 124.87L177.13 124.69L177.22 124.5L177.31 124.32L177.39 124.14L177.48 123.96L177.57 123.78L177.66 123.59L177.75 123.41L177.83 123.22L177.92 123.04L178.01 122.86L178.1 122.67L178.18 122.49L178.27 122.3L178.36 122.11L178.45 121.93L178.54 121.74L178.62 121.55L178.71 121.37L178.8 121.18L178.89 120.99L178.98 120.8L179.06 120.61L179.15 120.43L179.24 120.24L179.33 120.05L179.42 119.86L179.5 119.67L179.59 119.47L179.68 119.28L179.77 119.09L179.86 118.9L179.94 118.7L180.03 118.51L180.12 118.31L180.21 118.12L180.3 117.92L180.38 117.73L180.47 117.53L180.56 117.33L180.65 117.13L180.74 116.93L180.82 116.73L180.91 116.53L181 116.33L181.09 116.12L181.18 115.92L181.26 115.71L181.35 115.51L181.44 115.3L181.53 115.09L181.62 114.88L181.7 114.67L181.79 114.46L181.88 114.25L181.97 114.04L182.06 113.82L182.14 113.6L182.23 113.39L182.32 113.17L182.41 112.95L182.5 112.73L182.58 112.51L182.67 112.29L182.76 112.06L182.85 111.84L182.94 111.61L183.02 111.38L183.11 111.15L183.2 110.92L183.29 110.69L183.38 110.45L183.46 110.22L183.55 109.98L183.64 109.74L183.73 109.5L183.82 109.26L183.9 109.02L183.99 108.77" fill="none" stroke="#dcf0dc" stroke-width="3.0" stroke-linecap="round"/>
<path d="M38.5 160.2L38.74 160.3L38.98 160.41L39.22 160.52L39.45 160.63L39.69 160.74L39.92 160.86L40.16 160.97L40.39 161.09L40.62 161.22L40.84 161.35L41.07 161.48L41.29 161.62L41.51 161.75L41.74 161.89L41.96 162.02L42.19 162.15L42.42 162.27L42.65 162.4L42.88 162.52L43.11 162.64L43.34 162.76L43.57 162.88L43.81 163L44.04 163.12L44.27 163.24L44.5 163.37L44.73 163.49L44.96 163.62L45.19 163.74L45.42 163.86L45.65 163.98L45.88 164.1L46.12 164.21L46.35 164.32L46.59 164.43L46.83 164.54L47.07 164.64L47.31 164.75L47.55 164.85L47.79 164.95L48.03 165.05L48.28 165.14L48.52 165.23L48.77 165.32L49.01 165.4L49.26 165.48L49.51 165.56L49.76 165.64L50.01 165.71L50.26 165.78L50.52 165.85L50.77 165.91L51.02 165.96L51.28 166.01L51.53 166.06L51.79 166.1L52.05 166.14L52.31 166.18L52.57 166.21L52.83 166.25L53.09 166.28L53.35 166.31L53.6 166.35L53.86 166.38L54.12 166.42L54.38 166.45L54.64 166.49L54.9 166.53L55.16 166.57L55.41 166.61L55.67 166.64L55.93 166.67L56.19 166.7L56.45 166.72L56.71 166.74L56.97 166.77L57.23 166.78L57.49 166.8L57.75 166.82L58.01 166.84L58.27 166.85L58.53 166.87L58.79 166.88L59.05 166.9L59.31 166.91L59.58 166.93L59.84 166.94L60.1 166.96L60.36 166.97L60.62 166.99L60.88 166.99L61.14 167L61.4 167L61.66 166.99L61.92 166.98L62.18 166.96L62.44 166.94L62.7 166.91L62.96 166.88L63.22 166.84L63.48 166.81L63.74 166.77L64 166.73L64.25 166.69L64.51 166.65L64.77 166.6L65.02 166.54L65.28 166.48L65.53 166.42L65.78 166.36L66.04 166.29L66.29 166.23L66.54 166.17L66.8 166.1L67.05 166.04L67.31 165.98L67.56 165.92L67.81 165.85L68.07 165.79L68.32 165.72L68.57 165.66L68.82 165.59L69.07 165.52L69.32 165.45L69.57 165.37L69.82 165.29L70.07 165.21L70.31 165.12L70.56 165.03L70.8 164.93L71.04 164.83L71.29 164.74L71.53 164.65L71.78 164.57L72.03 164.48L72.27 164.39L72.52 164.31L72.77 164.23L73.01 164.14L73.26 164.06L73.51 163.98L73.76 163.9L74.01 163.81L74.25 163.73L74.5 163.65L74.75 163.56L74.99 163.48L75.24 163.39L75.49 163.31L75.73 163.22L75.98 163.13L76.22 163.03L76.46 162.94L76.71 162.84L76.95 162.75L77.19 162.65L77.44 162.55L77.68 162.46L77.92 162.36L78.16 162.26L78.41 162.17L78.65 162.07L78.89 161.98L79.14 161.88L79.38 161.79L79.62 161.7L79.87 161.61L80.12 161.53L80.36 161.44L80.61 161.36L80.86 161.28L81.11 161.2L81.35 161.12L81.6 161.03L81.85 160.95L82.1 160.87L82.35 160.79L82.6 160.71L82.85 160.63L83.11 160.56L83.36 160.48L83.61 160.41L83.86 160.35L84.11 160.29L84.37 160.23L84.62 160.18L84.88 160.14L85.13 160.1L85.39 160.06L85.65 160.02L85.91 159.98L86.17 159.95L86.43 159.91L86.69 159.88L86.95 159.85L87.21 159.82L87.47 159.79L87.73 159.76L87.99 159.74L88.25 159.73L88.51 159.71L88.77 159.7L89.03 159.7L89.29 159.7L89.54 159.72L89.8 159.75L90.06 159.78L90.31 159.83L90.57 159.89L90.83 159.95L91.08 160.02L91.34 160.1L91.59 160.18L91.85 160.27L92.1 160.36L92.35 160.45L92.59 160.55L92.84 160.64L93.08 160.74L93.32 160.83L93.56 160.92L93.79 161.02L94.03 161.12L94.26 161.24L94.49 161.35L94.72 161.48L94.95 161.61L95.17 161.74L95.4 161.88L95.62 162.02L95.84 162.17L96.06 162.32L96.28 162.47L96.5 162.62L96.71 162.77L96.93 162.93L97.14 163.08L97.35 163.24L97.56 163.4L97.77 163.55L97.97 163.71L98.17 163.87L98.37 164.03L98.57 164.2L98.76 164.38L98.96 164.55L99.15 164.73L99.34 164.91L99.53 165.09L99.72 165.27L99.91 165.45L100.1 165.63L100.28 165.82L100.47 166L100.66 166.18L100.85 166.36L101.05 166.54L101.24 166.71L101.43 166.89L101.63 167.06L101.83 167.23L102.03 167.39L102.23 167.57L102.43 167.74L102.63 167.91L102.83 168.09L103.03 168.26L103.23 168.44L103.44 168.61L103.64 168.78L103.85 168.95L104.05 169.11L104.26 169.27L104.47 169.42L104.69 169.57L104.9 169.71L105.12 169.84L105.34 169.97L105.56 170.08L105.79 170.19L106.02 170.3L106.26 170.42L106.5 170.53L106.74 170.64L106.99 170.76L107.24 170.87L107.49 170.97L107.74 171.07L108 171.17L108.25 171.26L108.51 171.34L108.76 171.41L109.01 171.47L109.27 171.52L109.52 171.56L109.77 171.59L110.02 171.6L110.26 171.6L110.51 171.58L110.76 171.54L111.01 171.49L111.27 171.43L111.52 171.36L111.77 171.27L112.03 171.18L112.28 171.07L112.53 170.96L112.78 170.84L113.02 170.72L113.26 170.6L113.5 170.47L113.74 170.34L113.97 170.21L114.19 170.08L114.41 169.95L114.62 169.82L114.84 169.69L115.04 169.54L115.25 169.38L115.45 169.21L115.65 169.04L115.84 168.86L116.04 168.67L116.22 168.48L116.41 168.29L116.59 168.09L116.77 167.89L116.94 167.7L117.11 167.5L117.28 167.3L117.45 167.11L117.61 166.91L117.77 166.7L117.93 166.49L118.08 166.28L118.23 166.07L118.38 165.85L118.53 165.63L118.68 165.41L118.82 165.19L118.96 164.97L119.1 164.75L119.23 164.52L119.37 164.29L119.5 164.07L119.62 163.84L119.75 163.61L119.87 163.39L119.99 163.16L120.11 162.93L120.23 162.69L120.34 162.46L120.46 162.23L120.57 161.99L120.68 161.75L120.79 161.52L120.9 161.28L121.01 161.04L121.11 160.8L121.22 160.56L121.32 160.31L121.42 160.07L121.52 159.83L121.61 159.58L121.71 159.34L121.8 159.1L121.9 158.85L121.99 158.61L122.07 158.36L122.16 158.12L122.24 157.87L122.33 157.63L122.41 157.38L122.48 157.13L122.56 156.88L122.63 156.63L122.7 156.38L122.77 156.13L122.84 155.88L122.91 155.62L122.97 155.37L123.04 155.12L123.1 154.87L123.17 154.61L123.23 154.36L123.3 154.1L123.36 153.85L123.43 153.6L123.49 153.34L123.56 153.09L123.63 152.84L123.69 152.58L123.76 152.33L123.83 152.08L123.91 151.83L123.98 151.58L124.06 151.33L124.14 151.08L124.22 150.84L124.3 150.59L124.39 150.34L124.48 150.1L124.56 149.85L124.65 149.61L124.75 149.36L124.84 149.12L124.93 148.87L125.02 148.63L125.11 148.38L125.2 148.14L125.29 147.89L125.38 147.65L125.47 147.4L125.55 147.15L125.64 146.91L125.72 146.66L125.81 146.41L125.89 146.17L125.98 145.92L126.07 145.67L126.15 145.43L126.24 145.18L126.32 144.93L126.41 144.69L126.49 144.44L126.57 144.19L126.65 143.94L126.74 143.69L126.82 143.45L126.89 143.2L126.97 142.95L127.05 142.7L127.12 142.45L127.19 142.2L127.26 141.95L127.33 141.7L127.4 141.45L127.47 141.19L127.54 140.94L127.6 140.69L127.67 140.44L127.73 140.18L127.79 139.93L127.85 139.68L127.92 139.42L127.98 139.17L128.04 138.92L128.1 138.66L128.16 138.41L128.21 138.15L128.27 137.9L128.33 137.64L128.39 137.39L128.45 137.13L128.5 136.88L128.56 136.62L128.62 136.37L128.67 136.11L128.73 135.86L128.79 135.61L128.85 135.35L128.9 135.1L128.96 134.84L129.01 134.59L129.07 134.33L129.13 134.08L129.18 133.82L129.23 133.57L129.29 133.31L129.34 133.05L129.4 132.8L129.45 132.54L129.5 132.29L129.55 132.03L129.6 131.78L129.65 131.52L129.7 131.26L129.75 131.01L129.8 130.75L129.84 130.49L129.89 130.24L129.94 129.98L129.99 129.72L130.04 129.47L130.08 129.21L130.13 128.95L130.18 128.7L130.22 128.44L130.27 128.18L130.31 127.92L130.36 127.67L130.4 127.41L130.44 127.15L130.48 126.89L130.52 126.64L130.56 126.38L130.6 126.12L130.64 125.86L130.67 125.6L130.71 125.35L130.74 125.09L130.77 124.83L130.8 124.57L130.83 124.31L130.86 124.05L130.88 123.79L130.91 123.53L130.93 123.27L130.96 123.01L130.98 122.75L131 122.49L131.03 122.23L131.05 121.97L131.07 121.71L131.09 121.45L131.11 121.19L131.13 120.93L131.15 120.67L131.18 120.41L131.2 120.15L131.22 119.89L131.24 119.63L131.26 119.37L131.28 119.11L131.3 118.85L131.32 118.59L131.35 118.33L131.37 118.07L131.39 117.81L131.42 117.55L131.44 117.29L131.47 117.03L131.49 116.77L131.52 116.51L131.55 116.25L131.58 115.99L131.61 115.73L131.64 115.47L131.67 115.21L131.7 114.96L131.73 114.7L131.76 114.44L131.79 114.18L131.82 113.92L131.86 113.66L131.89 113.4L131.92 113.14L131.96 112.88L131.99 112.63L132.02 112.37L132.06 112.11L132.09 111.85L132.13 111.59L132.16 111.33L132.19 111.07L132.23 110.81L132.26 110.55L132.3 110.3L132.33 110.04L132.37 109.78L132.4 109.52L132.43 109.26L132.47 109L132.5 108.74L132.53 108.48L132.57 108.23L132.6 107.97L132.63 107.71L132.66 107.45L132.69 107.19L132.72 106.93L132.75 106.67L132.78 106.41L132.81 106.15L132.84 105.89L132.87 105.63L132.91 105.37L132.94 105.12L132.97 104.86L133 104.6L133.03 104.34L133.06 104.08L133.09 103.82L133.12 103.56L133.15 103.3L133.18 103.04L133.21 102.78L133.24 102.52L133.28 102.26L133.31 102L133.34 101.74L133.37 101.49L133.4 101.23L133.43 100.97L133.46 100.71L133.48 100.45L133.51 100.19L133.54 99.93L133.57 99.67L133.6 99.41L133.63 99.15L133.65 98.89L133.68 98.63L133.71 98.37L133.73 98.11L133.76 97.85L133.78 97.59L133.81 97.33L133.83 97.07L133.85 96.81L133.88 96.55L133.9 96.29L133.92 96.03L133.94 95.77L133.96 95.51L133.98 95.25L134 94.99L134.02 94.73L134.04 94.47L134.05 94.21L134.07 93.95L134.09 93.69L134.11 93.43L134.12 93.17L134.14 92.91L134.15 92.65L134.17 92.39L134.18 92.13L134.2 91.87L134.21 91.61L134.23 91.35L134.24 91.09L134.25 90.83L134.27 90.57L134.28 90.31L134.29 90.05L134.31 89.79L134.32 89.53L134.33 89.26L134.35 89L134.36 88.74L134.37 88.48L134.38 88.22L134.4 87.96L134.41 87.7L134.42 87.44L134.43 87.18L134.44 86.92L134.46 86.66L134.47 86.4L134.48 86.14L134.49 85.87L134.5 85.61L134.52 85.35L134.53 85.09L134.54 84.83L134.55 84.57L134.57 84.31L134.58 84.05L134.59 83.79L134.61 83.53L134.62 83.27L134.63 83.01L134.65 82.75L134.66 82.49L134.67 82.22L134.69 81.96L134.7 81.7L134.72 81.44L134.73 81.18L134.75 80.92L134.76 80.66L134.78 80.4L134.8 80.14L134.81 79.88L134.83 79.62L134.85 79.36L134.86 79.1L134.88 78.84L134.9 78.58L134.92 78.32L134.94 78.06L134.95 77.8L134.97 77.54L134.99 77.28L135.01 77.02L135.03 76.76L135.05 76.5L135.07 76.24L135.09 75.97L135.11 75.71L135.13 75.45L135.15 75.19L135.17 74.93L135.19 74.67L135.21 74.41L135.23 74.15L135.25 73.89L135.27 73.63L135.29 73.37L135.31 73.11L135.33 72.85L135.35 72.59L135.37 72.33L135.39 72.07L135.41 71.81L135.43 71.55L135.45 71.29L135.47 71.03L135.49 70.77L135.51 70.51L135.53 70.25L135.55 69.99L135.57 69.73L135.59 69.47L135.61 69.21L135.63 68.95L135.64 68.69L135.66 68.43L135.68 68.17L135.7 67.91L135.72 67.65L135.74 67.39L135.76 67.13L135.77 66.87L135.79 66.61L135.81 66.35L135.83 66.08L135.84 65.82L135.86 65.56L135.88 65.3L135.89 65.04L135.91 64.78L135.93 64.52L135.94 64.26L135.96 64L135.97 63.74L135.99 63.48L136 63.22L136.02 62.96L136.03 62.7L136.04 62.44L136.06 62.18L136.07 61.92L136.08 61.66L136.09 61.4L136.11 61.14L136.12 60.87L136.13 60.61L136.14 60.35L136.15 60.09L136.17 59.83L136.18 59.57L136.19 59.31L136.2 59.05L136.21 58.79L136.22 58.53L136.23 58.27L136.24 58.01L136.25 57.75L136.26 57.48L136.27 57.22L136.28 56.96L136.29 56.7L136.3 56.44L136.31 56.18L136.32 55.92L136.33 55.66L136.34 55.4L136.35 55.14L136.35 54.88L136.36 54.62L136.37 54.36L136.38 54.09L136.39 53.83L136.39 53.57L136.4 53.31L136.41 53.05L136.42 52.79L136.42 52.53L136.43 52.27L136.44 52.01L136.44 51.75L136.45 51.49L136.46 51.22L136.46 50.96L136.47 50.7L136.48 50.44L136.48 50.18L136.49 49.92L136.5 49.66L136.5 49.4L136.51 49.14L136.51 48.88L136.52 48.62L136.52 48.35L136.53 48.09L136.54 47.83L136.54 47.57L136.55 47.31L136.55 47.05L136.56 46.79L136.56 46.53L136.57 46.27L136.58 46.01L136.58 45.75L136.59 45.48L136.59 45.22L136.6 44.96L136.6 44.7L136.61 44.44L136.61 44.18L136.62 43.92L136.62 43.66L136.63 43.4L136.64 43.14L136.64 42.88L136.65 42.61L136.65 42.35L136.66 42.09L136.67 41.83L136.67 41.57L136.68 41.31L136.68 41.05L136.69 40.79L136.7 40.53L136.7 40.27L136.71 40.01L136.72 39.74L136.72 39.48L136.73 39.22L136.74 38.96L136.74 38.7L136.75 38.44L136.76 38.18L136.77 37.92L136.77 37.66L136.78 37.4L136.79 37.14L136.8 36.88L136.81 36.61L136.81 36.35L136.82 36.09L136.83 35.83L136.84 35.57L136.85 35.31L136.86 35.05L136.87 34.79L136.88 34.53L136.89 34.27L136.9 34.01L136.91 33.75L136.92 33.49L136.93 33.23L136.94 32.96L136.95 32.7L136.97 32.44L136.98 32.18L136.99 31.92L137 31.66L137.01 31.4L137.03 31.14L137.04 30.88L137.05 30.62L137.07 30.36L137.08 30.1L137.09 29.84L137.11 29.58L137.12 29.32L137.14 29.06L137.15 28.79L137.16 28.53L137.18 28.27L137.19 28.01L137.21 27.75L137.22 27.49L137.24 27.23L137.25 26.97L137.27 26.71L137.29 26.45L137.3 26.19L137.32 25.93L137.33 25.67L137.35 25.41L137.36 25.15L137.38 24.89L137.4 24.63L137.41 24.37L137.43 24.1L137.45 23.84L137.46 23.58L137.48 23.32L137.5 23.06L137.51 22.8L137.53 22.54L137.55 22.28L137.57 22.02L137.58 21.76L137.6 21.5" fill="none" stroke="#ff0000" stroke-width="1.6" stroke-dasharray="4.6 1.6 0.8 1.6"/>
<path d="M146.8 21.5L146.82 21.76L146.83 22.02L146.85 22.28L146.87 22.54L146.89 22.8L146.9 23.06L146.92 23.32L146.94 23.58L146.95 23.84L146.97 24.1L146.99 24.37L147 24.63L147.02 24.89L147.04 25.15L147.05 25.41L147.07 25.67L147.08 25.93L147.1 26.19L147.11 26.45L147.13 26.71L147.15 26.97L147.16 27.23L147.18 27.49L147.19 27.75L147.21 28.01L147.22 28.27L147.24 28.53L147.25 28.79L147.26 29.06L147.28 29.32L147.29 29.58L147.31 29.84L147.32 30.1L147.33 30.36L147.35 30.62L147.36 30.88L147.37 31.14L147.39 31.4L147.4 31.66L147.41 31.92L147.42 32.18L147.43 32.44L147.45 32.7L147.46 32.96L147.47 33.23L147.48 33.49L147.49 33.75L147.5 34.01L147.51 34.27L147.52 34.53L147.53 34.79L147.54 35.05L147.55 35.31L147.56 35.57L147.57 35.83L147.58 36.09L147.59 36.35L147.59 36.61L147.6 36.88L147.61 37.14L147.62 37.4L147.63 37.66L147.63 37.92L147.64 38.18L147.65 38.44L147.66 38.7L147.66 38.96L147.67 39.22L147.68 39.48L147.68 39.74L147.69 40.01L147.7 40.27L147.7 40.53L147.71 40.79L147.72 41.05L147.72 41.31L147.73 41.57L147.73 41.83L147.74 42.09L147.75 42.35L147.75 42.61L147.76 42.88L147.76 43.14L147.77 43.4L147.78 43.66L147.78 43.92L147.79 44.18L147.79 44.44L147.8 44.7L147.8 44.96L147.81 45.22L147.81 45.48L147.82 45.75L147.82 46.01L147.83 46.27L147.84 46.53L147.84 46.79L147.85 47.05L147.85 47.31L147.86 47.57L147.86 47.83L147.87 48.09L147.88 48.35L147.88 48.62L147.89 48.88L147.89 49.14L147.9 49.4L147.9 49.66L147.91 49.92L147.92 50.18L147.92 50.44L147.93 50.7L147.94 50.96L147.94 51.22L147.95 51.49L147.96 51.75L147.96 52.01L147.97 52.27L147.98 52.53L147.98 52.79L147.99 53.05L148 53.31L148.01 53.57L148.01 53.83L148.02 54.09L148.03 54.36L148.04 54.62L148.05 54.88L148.05 55.14L148.06 55.4L148.07 55.66L148.08 55.92L148.09 56.18L148.1 56.44L148.11 56.7L148.12 56.96L148.13 57.22L148.14 57.48L148.15 57.75L148.16 58.01L148.17 58.27L148.18 58.53L148.19 58.79L148.2 59.05L148.21 59.31L148.22 59.57L148.23 59.83L148.25 60.09L148.26 60.35L148.27 60.61L148.28 60.87L148.29 61.14L148.31 61.4L148.32 61.66L148.33 61.92L148.34 62.18L148.36 62.44L148.37 62.7L148.38 62.96L148.4 63.22L148.41 63.48L148.43 63.74L148.44 64L148.46 64.26L148.47 64.52L148.49 64.78L148.51 65.04L148.52 65.3L148.54 65.56L148.56 65.82L148.57 66.08L148.59 66.35L148.61 66.61L148.63 66.87L148.64 67.13L148.66 67.39L148.68 67.65L148.7 67.91L148.72 68.17L148.74 68.43L148.76 68.69L148.77 68.95L148.79 69.21L148.81 69.47L148.83 69.73L148.85 69.99L148.87 70.25L148.89 70.51L148.91 70.77L148.93 71.03L148.95 71.29L148.97 71.55L148.99 71.81L149.01 72.07L149.03 72.33L149.05 72.59L149.07 72.85L149.09 73.11L149.11 73.37L149.13 73.63L149.15 73.89L149.17 74.15L149.19 74.41L149.21 74.67L149.23 74.93L149.25 75.19L149.27 75.45L149.29 75.71L149.31 75.97L149.33 76.24L149.35 76.5L149.37 76.76L149.39 77.02L149.41 77.28L149.43 77.54L149.45 77.8L149.46 78.06L149.48 78.32L149.5 78.58L149.52 78.84L149.54 79.1L149.55 79.36L149.57 79.62L149.59 79.88L149.6 80.14L149.62 80.4L149.64 80.66L149.65 80.92L149.67 81.18L149.68 81.44L149.7 81.7L149.71 81.96L149.73 82.22L149.74 82.49L149.75 82.75L149.77 83.01L149.78 83.27L149.79 83.53L149.81 83.79L149.82 84.05L149.83 84.31L149.85 84.57L149.86 84.83L149.87 85.09L149.88 85.35L149.9 85.61L149.91 85.87L149.92 86.14L149.93 86.4L149.94 86.66L149.96 86.92L149.97 87.18L149.98 87.44L149.99 87.7L150 87.96L150.02 88.22L150.03 88.48L150.04 88.74L150.05 89L150.07 89.26L150.08 89.53L150.09 89.79L150.11 90.05L150.12 90.31L150.13 90.57L150.15 90.83L150.16 91.09L150.17 91.35L150.19 91.61L150.2 91.87L150.22 92.13L150.23 92.39L150.25 92.65L150.26 92.91L150.28 93.17L150.29 93.43L150.31 93.69L150.33 93.95L150.35 94.21L150.36 94.47L150.38 94.73L150.4 94.99L150.42 95.25L150.44 95.51L150.46 95.77L150.48 96.03L150.5 96.29L150.52 96.55L150.55 96.81L150.57 97.07L150.59 97.33L150.62 97.59L150.64 97.85L150.67 98.11L150.69 98.37L150.72 98.63L150.75 98.89L150.77 99.15L150.8 99.41L150.83 99.67L150.86 99.93L150.89 100.19L150.92 100.45L150.94 100.71L150.97 100.97L151 101.23L151.03 101.49L151.06 101.74L151.09 102L151.12 102.26L151.16 102.52L151.19 102.78L151.22 103.04L151.25 103.3L151.28 103.56L151.31 103.82L151.34 104.08L151.37 104.34L151.4 104.6L151.43 104.86L151.46 105.12L151.49 105.37L151.53 105.63L151.56 105.89L151.59 106.15L151.62 106.41L151.65 106.67L151.68 106.93L151.71 107.19L151.74 107.45L151.77 107.71L151.8 107.97L151.83 108.23L151.87 108.48L151.9 108.74L151.93 109L151.97 109.26L152 109.52L152.03 109.78L152.07 110.04L152.1 110.3L152.14 110.55L152.17 110.81L152.21 111.07L152.24 111.33L152.27 111.59L152.31 111.85L152.34 112.11L152.38 112.37L152.41 112.63L152.44 112.88L152.48 113.14L152.51 113.4L152.54 113.66L152.58 113.92L152.61 114.18L152.64 114.44L152.67 114.7L152.7 114.96L152.73 115.21L152.76 115.47L152.79 115.73L152.82 115.99L152.85 116.25L152.88 116.51L152.91 116.77L152.93 117.03L152.96 117.29L152.98 117.55L153.01 117.81L153.03 118.07L153.05 118.33L153.08 118.59L153.1 118.85L153.12 119.11L153.14 119.37L153.16 119.63L153.18 119.89L153.2 120.15L153.22 120.41L153.25 120.67L153.27 120.93L153.29 121.19L153.31 121.45L153.33 121.71L153.35 121.97L153.37 122.23L153.4 122.49L153.42 122.75L153.44 123.01L153.47 123.27L153.49 123.53L153.52 123.79L153.54 124.05L153.57 124.31L153.6 124.57L153.63 124.83L153.66 125.09L153.69 125.35L153.73 125.6L153.76 125.86L153.8 126.12L153.84 126.38L153.88 126.64L153.92 126.89L153.96 127.15L154 127.41L154.04 127.67L154.09 127.92L154.13 128.18L154.18 128.44L154.22 128.7L154.27 128.95L154.32 129.21L154.36 129.47L154.41 129.72L154.46 129.98L154.51 130.24L154.56 130.49L154.6 130.75L154.65 131.01L154.7 131.26L154.75 131.52L154.8 131.78L154.85 132.03L154.9 132.29L154.95 132.54L155 132.8L155.06 133.05L155.11 133.31L155.17 133.57L155.22 133.82L155.27 134.08L155.33 134.33L155.39 134.59L155.44 134.84L155.5 135.1L155.55 135.35L155.61 135.61L155.67 135.86L155.73 136.11L155.78 136.37L155.84 136.62L155.9 136.88L155.95 137.13L156.01 137.39L156.07 137.64L156.13 137.9L156.19 138.15L156.24 138.41L156.3 138.66L156.36 138.92L156.42 139.17L156.48 139.42L156.55 139.68L156.61 139.93L156.67 140.18L156.73 140.44L156.8 140.69L156.86 140.94L156.93 141.19L157 141.45L157.07 141.7L157.14 141.95L157.21 142.2L157.28 142.45L157.35 142.7L157.43 142.95L157.51 143.2L157.58 143.45L157.66 143.69L157.75 143.94L157.83 144.19L157.91 144.44L157.99 144.69L158.08 144.93L158.16 145.18L158.25 145.43L158.33 145.67L158.42 145.92L158.51 146.17L158.59 146.41L158.68 146.66L158.76 146.91L158.85 147.15L158.93 147.4L159.02 147.65L159.11 147.89L159.2 148.14L159.29 148.38L159.38 148.63L159.47 148.87L159.56 149.12L159.65 149.36L159.75 149.61L159.84 149.85L159.92 150.1L160.01 150.34L160.1 150.59L160.18 150.84L160.26 151.08L160.34 151.33L160.42 151.58L160.49 151.83L160.57 152.08L160.64 152.33L160.71 152.58L160.77 152.84L160.84 153.09L160.91 153.34L160.97 153.6L161.04 153.85L161.1 154.1L161.17 154.36L161.23 154.61L161.3 154.87L161.36 155.12L161.43 155.37L161.49 155.62L161.56 155.88L161.63 156.13L161.7 156.38L161.77 156.63L161.84 156.88L161.92 157.13L161.99 157.38L162.07 157.63L162.16 157.87L162.24 158.12L162.33 158.36L162.41 158.61L162.5 158.85L162.6 159.1L162.69 159.34L162.79 159.58L162.88 159.83L162.98 160.07L163.08 160.31L163.18 160.56L163.29 160.8L163.39 161.04L163.5 161.28L163.61 161.52L163.72 161.75L163.83 161.99L163.94 162.23L164.06 162.46L164.17 162.69L164.29 162.93L164.41 163.16L164.53 163.39L164.65 163.61L164.78 163.84L164.9 164.07L165.03 164.29L165.17 164.52L165.3 164.75L165.44 164.97L165.58 165.19L165.72 165.41L165.87 165.63L166.02 165.85L166.17 166.07L166.32 166.28L166.47 166.49L166.63 166.7L166.79 166.91L166.95 167.11L167.12 167.3L167.29 167.5L167.46 167.7L167.63 167.89L167.81 168.09L167.99 168.29L168.18 168.48L168.36 168.67L168.56 168.86L168.75 169.04L168.95 169.21L169.15 169.38L169.36 169.54L169.56 169.69L169.78 169.82L169.99 169.95L170.21 170.08L170.43 170.21L170.66 170.34L170.9 170.47L171.14 170.6L171.38 170.72L171.62 170.84L171.87 170.96L172.12 171.07L172.37 171.18L172.63 171.27L172.88 171.36L173.13 171.43L173.39 171.49L173.64 171.54L173.89 171.58L174.14 171.6L174.38 171.6L174.63 171.59L174.88 171.56L175.13 171.52L175.39 171.47L175.64 171.41L175.89 171.34L176.15 171.26L176.4 171.17L176.66 171.07L176.91 170.97L177.16 170.87L177.41 170.76L177.66 170.64L177.9 170.53L178.14 170.42L178.38 170.3L178.61 170.19L178.84 170.08L179.06 169.97L179.28 169.84L179.5 169.71L179.71 169.57L179.93 169.42L180.14 169.27L180.35 169.11L180.55 168.95L180.76 168.78L180.96 168.61L181.17 168.44L181.37 168.26L181.57 168.09L181.77 167.91L181.97 167.74L182.17 167.57L182.37 167.39L182.57 167.23L182.77 167.06L182.97 166.89L183.16 166.71L183.35 166.54L183.55 166.36L183.74 166.18L183.93 166L184.12 165.82L184.3 165.63L184.49 165.45L184.68 165.27L184.87 165.09L185.06 164.91L185.25 164.73L185.44 164.55L185.64 164.38L185.83 164.2L186.03 164.03L186.23 163.87L186.43 163.71L186.63 163.55L186.84 163.4L187.05 163.24L187.26 163.08L187.47 162.93L187.69 162.77L187.9 162.62L188.12 162.47L188.34 162.32L188.56 162.17L188.78 162.02L189 161.88L189.23 161.74L189.45 161.61L189.68 161.48L189.91 161.35L190.14 161.24L190.37 161.12L190.61 161.02L190.84 160.92L191.08 160.83L191.32 160.74L191.56 160.64L191.81 160.55L192.05 160.45L192.3 160.36L192.55 160.27L192.81 160.18L193.06 160.1L193.32 160.02L193.57 159.95L193.83 159.89L194.09 159.83L194.34 159.78L194.6 159.75L194.86 159.72L195.11 159.7L195.37 159.7L195.63 159.7L195.89 159.71L196.15 159.73L196.41 159.74L196.67 159.76L196.93 159.79L197.19 159.82L197.45 159.85L197.71 159.88L197.97 159.91L198.23 159.95L198.49 159.98L198.75 160.02L199.01 160.06L199.27 160.1L199.52 160.14L199.78 160.18L200.03 160.23L200.29 160.29L200.54 160.35L200.79 160.41L201.04 160.48L201.29 160.56L201.55 160.63L201.8 160.71L202.05 160.79L202.3 160.87L202.55 160.95L202.8 161.03L203.05 161.12L203.29 161.2L203.54 161.28L203.79 161.36L204.04 161.44L204.28 161.53L204.53 161.61L204.78 161.7L205.02 161.79L205.26 161.88L205.51 161.98L205.75 162.07L205.99 162.17L206.24 162.26L206.48 162.36L206.72 162.46L206.96 162.55L207.21 162.65L207.45 162.75L207.69 162.84L207.94 162.94L208.18 163.03L208.42 163.13L208.67 163.22L208.91 163.31L209.16 163.39L209.41 163.48L209.65 163.56L209.9 163.65L210.15 163.73L210.39 163.81L210.64 163.9L210.89 163.98L211.14 164.06L211.39 164.14L211.63 164.23L211.88 164.31L212.13 164.39L212.37 164.48L212.62 164.57L212.87 164.65L213.11 164.74L213.36 164.83L213.6 164.93L213.84 165.03L214.09 165.12L214.33 165.21L214.58 165.29L214.83 165.37L215.08 165.45L215.33 165.52L215.58 165.59L215.83 165.66L216.08 165.72L216.33 165.79L216.59 165.85L216.84 165.92L217.09 165.98L217.35 166.04L217.6 166.1L217.86 166.17L218.11 166.23L218.36 166.29L218.62 166.36L218.87 166.42L219.12 166.48L219.38 166.54L219.63 166.6L219.89 166.65L220.15 166.69L220.4 166.73L220.66 166.77L220.92 166.81L221.18 166.84L221.44 166.88L221.7 166.91L221.96 166.94L222.22 166.96L222.48 166.98L222.74 166.99L223 167L223.26 167L223.52 166.99L223.78 166.99L224.04 166.97L224.3 166.96L224.56 166.94L224.82 166.93L225.09 166.91L225.35 166.9L225.61 166.88L225.87 166.87L226.13 166.85L226.39 166.84L226.65 166.82L226.91 166.8L227.17 166.78L227.43 166.77L227.69 166.74L227.95 166.72L228.21 166.7L228.47 166.67L228.73 166.64L228.99 166.61L229.24 166.57L229.5 166.53L229.76 166.49L230.02 166.45L230.28 166.42L230.54 166.38L230.8 166.35L231.05 166.31L231.31 166.28L231.57 166.25L231.83 166.21L232.09 166.18L232.35 166.14L232.61 166.1L232.87 166.06L233.12 166.01L233.38 165.96L233.63 165.91L233.88 165.85L234.14 165.78L234.39 165.71L234.64 165.64L234.89 165.56L235.14 165.48L235.39 165.4L235.63 165.32L235.88 165.23L236.12 165.14L236.37 165.05L236.61 164.95L236.85 164.85L237.09 164.75L237.33 164.64L237.57 164.54L237.81 164.43L238.05 164.32L238.28 164.21L238.52 164.1L238.75 163.98L238.98 163.86L239.21 163.74L239.44 163.62L239.67 163.49L239.9 163.37L240.13 163.24L240.36 163.12L240.59 163L240.83 162.88L241.06 162.76L241.29 162.64L241.52 162.52L241.75 162.4L241.98 162.27L242.21 162.15L242.44 162.02L242.66 161.89L242.89 161.75L243.11 161.62L243.33 161.48L243.56 161.35L243.78 161.22L244.01 161.09L244.24 160.97L244.48 160.86L244.71 160.74L244.95 160.63L245.18 160.52L245.42 160.41L245.66 160.3L245.9 160.2" fill="none" stroke="#ff0000" stroke-width="1.6" stroke-dasharray="4.6 1.6 0.8 1.6"/>
<path d="M82.21 21.5L82.24 21.82L82.31 22.76L82.38 23.66L82.46 24.52L82.53 25.34L82.6 26.13L82.68 26.89L82.76 27.63L82.83 28.33L82.91 29.01L82.99 29.66L83.06 30.29L83.14 30.89L83.22 31.48L83.3 32.05L83.38 32.61L83.46 33.14L83.54 33.67L83.62 34.18L83.7 34.69L83.78 35.19L83.86 35.68L83.94 36.16L84.02 36.64L84.1 37.12L84.18 37.61L84.26 38.09L84.34 38.58L84.42 39.07L84.5 39.57L84.58 40.08L84.66 40.59L84.73 41.12L84.81 41.66L84.89 42.21L84.97 42.77L85.05 43.33L85.13 43.9L85.21 44.48L85.29 45.06L85.36 45.65L85.44 46.24L85.52 46.84L85.6 47.44L85.68 48.04L85.76 48.64L85.83 49.24L85.91 49.84L85.99 50.44L86.07 51.04L86.15 51.63L86.22 52.23L86.3 52.82L86.38 53.4L86.46 53.98L86.54 54.56L86.62 55.13L86.7 55.7L86.77 56.27L86.85 56.83L86.93 57.39L87.01 57.95L87.09 58.5L87.17 59.04L87.25 59.59L87.33 60.12L87.41 60.66L87.49 61.19L87.57 61.71L87.64 62.23L87.72 62.75L87.8 63.26L87.88 63.76L87.96 64.26L88.04 64.76L88.12 65.25L88.2 65.73L88.28 66.21L88.36 66.69L88.44 67.16L88.52 67.62L88.6 68.08L88.69 68.53L88.77 68.98L88.85 69.42L88.93 69.86L89.01 70.29L89.09 70.71L89.17 71.13L89.25 71.54L89.33 71.95L89.41 72.35L89.5 72.75L89.58 73.14L89.66 73.52L89.74 73.9L89.82 74.28L89.91 74.65L89.99 75.01L90.07 75.37L90.15 75.73L90.23 76.08L90.32 76.43L90.4 76.77L90.48 77.11L90.56 77.44L90.65 77.77L90.73 78.1L90.82 78.42L90.91 78.74L90.99 79.06L91.08 79.37L91.17 79.68L91.26 79.98L91.35 80.29L91.43 80.58L91.52 80.88L91.61 81.17L91.7 81.46L91.79 81.75L91.87 82.04L91.96 82.32L92.05 82.6L92.14 82.88L92.23 83.16L92.31 83.43L92.4 83.7L92.49 83.97L92.58 84.24L92.67 84.51L92.75 84.78L92.84 85.04L92.93 85.31L93.02 85.57L93.11 85.83L93.19 86.09L93.28 86.35L93.37 86.61L93.46 86.86L93.55 87.12L93.63 87.38L93.72 87.63L93.81 87.89L93.9 88.15L93.99 88.4L94.07 88.66L94.16 88.92L94.25 89.17L94.34 89.43L94.43 89.69L94.51 89.95L94.6 90.2L94.69 90.46L94.78 90.72L94.87 90.99L94.95 91.25L95.04 91.51L95.13 91.78L95.22 92.04L95.31 92.31L95.39 92.58L95.48 92.85L95.57 93.13L95.66 93.4L95.75 93.68L95.83 93.96L95.92 94.24L96.01 94.53L96.1 94.81L96.18 95.1L96.27 95.4L96.36 95.69L96.45 95.99L96.54 96.29L96.62 96.59L96.71 96.89L96.8 97.19L96.89 97.5L96.98 97.8L97.06 98.11L97.15 98.42L97.24 98.72L97.33 99.03L97.42 99.34L97.5 99.65L97.59 99.95L97.68 100.26L97.77 100.56L97.86 100.86L97.94 101.16L98.03 101.46L98.12 101.76L98.21 102.05L98.3 102.35L98.38 102.64L98.47 102.93L98.56 103.21L98.65 103.5L98.74 103.78L98.82 104.06L98.91 104.34L99 104.61L99.09 104.89L99.18 105.16L99.26 105.43L99.35 105.7L99.44 105.96L99.53 106.23L99.62 106.49L99.7 106.75L99.79 107.01L99.88 107.27L99.97 107.52L100.06 107.77L100.14 108.03L100.23 108.28L100.32 108.52L100.41 108.77L100.5 109.02L100.58 109.26L100.67 109.5L100.76 109.74L100.85 109.98L100.94 110.22L101.02 110.45L101.11 110.69L101.2 110.92L101.29 111.15L101.38 111.38L101.46 111.61L101.55 111.84L101.64 112.06L101.73 112.29L101.82 112.51L101.9 112.73L101.99 112.95L102.08 113.17L102.17 113.39L102.26 113.6L102.34 113.82L102.43 114.04L102.52 114.25L102.61 114.46L102.7 114.67L102.78 114.88L102.87 115.09L102.96 115.3L103.05 115.51L103.14 115.71L103.22 115.92L103.31 116.12L103.4 116.33L103.49 116.53L103.58 116.73L103.66 116.93L103.75 117.13L103.84 117.33L103.93 117.53L104.02 117.73L104.1 117.92L104.19 118.12L104.28 118.31L104.37 118.51L104.46 118.7L104.54 118.9L104.63 119.09L104.72 119.28L104.81 119.47L104.9 119.67L104.98 119.86L105.07 120.05L105.16 120.24L105.25 120.43L105.34 120.61L105.42 120.8L105.51 120.99L105.6 121.18L105.69 121.37L105.78 121.55L105.86 121.74L105.95 121.93L106.04 122.11L106.13 122.3L106.22 122.49L106.3 122.67L106.39 122.86L106.48 123.04L106.57 123.22L106.65 123.41L106.74 123.59L106.83 123.78L106.92 123.96L107.01 124.14L107.09 124.32L107.18 124.5L107.27 124.69L107.36 124.87L107.45 125.05L107.53 125.23L107.62 125.41L107.71 125.59L107.8 125.77L107.89 125.95L107.97 126.13L108.06 126.31L108.15 126.48L108.24 126.66L108.33 126.84L108.41 127.02L108.5 127.19L108.59 127.37L108.68 127.55L108.77 127.72L108.85 127.9L108.94 128.07L109.03 128.25L109.12 128.42L109.21 128.6L109.29 128.77L109.38 128.94L109.47 129.12L109.56 129.29L109.65 129.46L109.73 129.63L109.82 129.81L109.91 129.98L110 130.15L110.09 130.32L110.17 130.49L110.26 130.66L110.35 130.83L110.44 131L110.53 131.17L110.61 131.34L110.7 131.51L110.79 131.67L110.88 131.84L110.97 132.01L111.05 132.18L111.14 132.34L111.23 132.51L111.32 132.67L111.41 132.84L111.49 133L111.58 133.17L111.67 133.33L111.76 133.5L111.85 133.66L111.93 133.83L112.02 133.99L112.11 134.15L112.2 134.31L112.29 134.48L112.37 134.64L112.46 134.8L112.55 134.96L112.64 135.12L112.73 135.28L112.81 135.44L112.9 135.6L112.99 135.76L113.08 135.92L113.17 136.08L113.25 136.24L113.34 136.39L113.43 136.55L113.52 136.71L113.61 136.87L113.69 137.02L113.78 137.18L113.87 137.33L113.96 137.49L114.05 137.64L114.13 137.8L114.22 137.95L114.31 138.11L114.4 138.26L114.49 138.41L114.57 138.57L114.66 138.72L114.75 138.87L114.84 139.02L114.93 139.18L115.01 139.33L115.1 139.48L115.19 139.63L115.28 139.78L115.37 139.93L115.45 140.08L115.54 140.23L115.63 140.37L115.72 140.52L115.81 140.67L115.89 140.82L115.98 140.97L116.07 141.11L116.16 141.26L116.25 141.4L116.33 141.55L116.42 141.7L116.51 141.84L116.6 141.99L116.68 142.13L116.77 142.27L116.86 142.42L116.95 142.56L117.04 142.7L117.12 142.85L117.21 142.99L117.3 143.13L117.39 143.27L117.48 143.41L117.56 143.55L117.65 143.69L117.74 143.83L117.83 143.97L117.92 144.11L118 144.25L118.09 144.39L118.18 144.53L118.27 144.66L118.36 144.8L118.44 144.94L118.53 145.08L118.62 145.21L118.71 145.35L118.8 145.48L118.88 145.62L118.97 145.75L119.06 145.89L119.15 146.02L119.24 146.15L119.32 146.29L119.41 146.42L119.5 146.55L119.59 146.69L119.68 146.82L119.76 146.95L119.85 147.08L119.94 147.21L120.03 147.34L120.12 147.47L120.2 147.6L120.29 147.73L120.38 147.86L120.47 147.99L120.56 148.11L120.64 148.24L120.73 148.37L120.82 148.5L120.91 148.62L121 148.75L121.08 148.87L121.17 149L121.26 149.12L121.35 149.25L121.44 149.37L121.52 149.5L121.61 149.62L121.7 149.74L121.79 149.87L121.88 149.99L121.96 150.11L122.05 150.23L122.14 150.35L122.23 150.48L122.32 150.6L122.4 150.72L122.49 150.84L122.58 150.95L122.67 151.07L122.76 151.19L122.84 151.31L122.93 151.43L123.02 151.55L123.11 151.66L123.2 151.78L123.28 151.9L123.37 152.01L123.46 152.13L123.55 152.24L123.64 152.36L123.72 152.47L123.81 152.58L123.9 152.7L123.99 152.81L124.08 152.92L124.16 153.04L124.25 153.15L124.34 153.26L124.43 153.37L124.52 153.48L124.6 153.59L124.69 153.7L124.78 153.81L124.87 153.92L124.96 154.03L125.04 154.14L125.13 154.24L125.22 154.35L125.31 154.46L125.4 154.56L125.48 154.67L125.57 154.78L125.66 154.88L125.75 154.99L125.84 155.09L125.92 155.19L126.01 155.3L126.1 155.4L126.19 155.5L126.28 155.6L126.36 155.71L126.45 155.81L126.54 155.91L126.63 156.01L126.72 156.11L126.8 156.21L126.89 156.31L126.98 156.4L127.07 156.5L127.15 156.6L127.24 156.7L127.33 156.79L127.42 156.89L127.51 156.99L127.59 157.08L127.68 157.18L127.77 157.27L127.86 157.36L127.95 157.46L128.03 157.55L128.12 157.64L128.21 157.74L128.3 157.83L128.39 157.92L128.47 158.01L128.56 158.1L128.65 158.19L128.74 158.28L128.83 158.37L128.91 158.46L129 158.54L129.09 158.63L129.18 158.72L129.27 158.8L129.35 158.89L129.44 158.97L129.53 159.06L129.62 159.14L129.71 159.23L129.79 159.31L129.88 159.39L129.97 159.48L130.06 159.56L130.15 159.64L130.23 159.72L130.32 159.8L130.41 159.88L130.5 159.96L130.59 160.04L130.67 160.12L130.76 160.19L130.85 160.27L130.94 160.35L131.03 160.42L131.11 160.5L131.2 160.58L131.29 160.65L131.38 160.72L131.47 160.8L131.55 160.87L131.64 160.94L131.73 161.02L131.82 161.09L131.91 161.16L131.99 161.23L132.08 161.3L132.17 161.37L132.26 161.44L132.35 161.51L132.43 161.57L132.52 161.64L132.61 161.71L132.7 161.77L132.79 161.84L132.87 161.9L132.96 161.97L133.05 162.03L133.14 162.1L133.23 162.16L133.31 162.22L133.4 162.28L133.49 162.34L133.58 162.41L133.67 162.47L133.75 162.53L133.84 162.58L133.93 162.64L134.02 162.7L134.11 162.76L134.19 162.81L134.28 162.87L134.37 162.93L134.46 162.98L134.55 163.04L134.63 163.09L134.72 163.14L134.81 163.2L134.9 163.25L134.99 163.3L135.07 163.35L135.16 163.4L135.25 163.45L135.34 163.5L135.43 163.55L135.51 163.6L135.6 163.64L135.69 163.69L135.78 163.74L135.87 163.78L135.95 163.83L136.04 163.87L136.13 163.92L136.22 163.96L136.31 164L136.39 164.05L136.48 164.09L136.57 164.13L136.66 164.17L136.75 164.21L136.83 164.25L136.92 164.29L137.01 164.32L137.1 164.36L137.18 164.4L137.27 164.43L137.36 164.47L137.45 164.5L137.54 164.54L137.62 164.57L137.71 164.6L137.8 164.64L137.89 164.67L137.98 164.7L138.06 164.73L138.15 164.76L138.24 164.79L138.33 164.82L138.42 164.84L138.5 164.87L138.59 164.9L138.68 164.92L138.77 164.95L138.86 164.97L138.94 165L139.03 165.02L139.12 165.05L139.21 165.07L139.3 165.09L139.38 165.11L139.47 165.13L139.56 165.15L139.65 165.17L139.74 165.19L139.82 165.2L139.91 165.22L140 165.24L140.09 165.25L140.18 165.27L140.26 165.28L140.35 165.3L140.44 165.31L140.53 165.32L140.62 165.33L140.7 165.34L140.79 165.35L140.88 165.36L140.97 165.37L141.06 165.38L141.14 165.39L141.23 165.39L141.32 165.4L141.41 165.41L141.5 165.41L141.58 165.42L141.67 165.42L141.76 165.42L141.85 165.42L141.94 165.42L142.02 165.43L142.11 165.43L142.2 165.42L142.29 165.43L142.38 165.43L142.46 165.42L142.55 165.42L142.64 165.42L142.73 165.42L142.82 165.42L142.9 165.41L142.99 165.41L143.08 165.4L143.17 165.39L143.26 165.39L143.34 165.38L143.43 165.37L143.52 165.36L143.61 165.35L143.7 165.34L143.78 165.33L143.87 165.32L143.96 165.31L144.05 165.3L144.14 165.28L144.22 165.27L144.31 165.25L144.4 165.24L144.49 165.22L144.58 165.2L144.66 165.19L144.75 165.17L144.84 165.15L144.93 165.13L145.02 165.11L145.1 165.09L145.19 165.07L145.28 165.05L145.37 165.02L145.46 165L145.54 164.97L145.63 164.95L145.72 164.92L145.81 164.9L145.9 164.87L145.98 164.84L146.07 164.82L146.16 164.79L146.25 164.76L146.34 164.73L146.42 164.7L146.51 164.67L146.6 164.64L146.69 164.6L146.78 164.57L146.86 164.54L146.95 164.5L147.04 164.47L147.13 164.43L147.22 164.4L147.3 164.36L147.39 164.32L147.48 164.29L147.57 164.25L147.65 164.21L147.74 164.17L147.83 164.13L147.92 164.09L148.01 164.05L148.09 164L148.18 163.96L148.27 163.92L148.36 163.87L148.45 163.83L148.53 163.78L148.62 163.74L148.71 163.69L148.8 163.64L148.89 163.6L148.97 163.55L149.06 163.5L149.15 163.45L149.24 163.4L149.33 163.35L149.41 163.3L149.5 163.25L149.59 163.2L149.68 163.14L149.77 163.09L149.85 163.04L149.94 162.98L150.03 162.93L150.12 162.87L150.21 162.81L150.29 162.76L150.38 162.7L150.47 162.64L150.56 162.58L150.65 162.53L150.73 162.47L150.82 162.41L150.91 162.34L151 162.28L151.09 162.22L151.17 162.16L151.26 162.1L151.35 162.03L151.44 161.97L151.53 161.9L151.61 161.84L151.7 161.77L151.79 161.71L151.88 161.64L151.97 161.57L152.05 161.51L152.14 161.44L152.23 161.37L152.32 161.3L152.41 161.23L152.49 161.16L152.58 161.09L152.67 161.02L152.76 160.94L152.85 160.87L152.93 160.8L153.02 160.72L153.11 160.65L153.2 160.58L153.29 160.5L153.37 160.42L153.46 160.35L153.55 160.27L153.64 160.19L153.73 160.12L153.81 160.04L153.9 159.96L153.99 159.88L154.08 159.8L154.17 159.72L154.25 159.64L154.34 159.56L154.43 159.48L154.52 159.39L154.61 159.31L154.69 159.23L154.78 159.14L154.87 159.06L154.96 158.97L155.05 158.89L155.13 158.8L155.22 158.72L155.31 158.63L155.4 158.54L155.49 158.46L155.57 158.37L155.66 158.28L155.75 158.19L155.84 158.1L155.93 158.01L156.01 157.92L156.1 157.83L156.19 157.74L156.28 157.64L156.37 157.55L156.45 157.46L156.54 157.36L156.63 157.27L156.72 157.18L156.81 157.08L156.89 156.99L156.98 156.89L157.07 156.79L157.16 156.7L157.25 156.6L157.33 156.5L157.42 156.4L157.51 156.31L157.6 156.21L157.68 156.11L157.77 156.01L157.86 155.91L157.95 155.81L158.04 155.71L158.12 155.6L158.21 155.5L158.3 155.4L158.39 155.3L158.48 155.19L158.56 155.09L158.65 154.99L158.74 154.88L158.83 154.78L158.92 154.67L159 154.56L159.09 154.46L159.18 154.35L159.27 154.24L159.36 154.14L159.44 154.03L159.53 153.92L159.62 153.81L159.71 153.7L159.8 153.59L159.88 153.48L159.97 153.37L160.06 153.26L160.15 153.15L160.24 153.04L160.32 152.92L160.41 152.81L160.5 152.7L160.59 152.58L160.68 152.47L160.76 152.36L160.85 152.24L160.94 152.13L161.03 152.01L161.12 151.9L161.2 151.78L161.29 151.66L161.38 151.55L161.47 151.43L161.56 151.31L161.64 151.19L161.73 151.07L161.82 150.95L161.91 150.84L162 150.72L162.08 150.6L162.17 150.48L162.26 150.35L162.35 150.23L162.44 150.11L162.52 149.99L162.61 149.87L162.7 149.74L162.79 149.62L162.88 149.5L162.96 149.37L163.05 149.25L163.14 149.12L163.23 149L163.32 148.87L163.4 148.75L163.49 148.62L163.58 148.5L163.67 148.37L163.76 148.24L163.84 148.11L163.93 147.99L164.02 147.86L164.11 147.73L164.2 147.6L164.28 147.47L164.37 147.34L164.46 147.21L164.55 147.08L164.64 146.95L164.72 146.82L164.81 146.69L164.9 146.55L164.99 146.42L165.08 146.29L165.16 146.15L165.25 146.02L165.34 145.89L165.43 145.75L165.52 145.62L165.6 145.48L165.69 145.35L165.78 145.21L165.87 145.08L165.96 144.94L166.04 144.8L166.13 144.66L166.22 144.53L166.31 144.39L166.4 144.25L166.48 144.11L166.57 143.97L166.66 143.83L166.75 143.69L166.84 143.55L166.92 143.41L167.01 143.27L167.1 143.13L167.19 142.99L167.28 142.85L167.36 142.7L167.45 142.56L167.54 142.42L167.63 142.27L167.72 142.13L167.8 141.99L167.89 141.84L167.98 141.7L168.07 141.55L168.15 141.4L168.24 141.26L168.33 141.11L168.42 140.97L168.51 140.82L168.59 140.67L168.68 140.52L168.77 140.37L168.86 140.23L168.95 140.08L169.03 139.93L169.12 139.78L169.21 139.63L169.3 139.48L169.39 139.33L169.47 139.18L169.56 139.02L169.65 138.87L169.74 138.72L169.83 138.57L169.91 138.41L170 138.26L170.09 138.11L170.18 137.95L170.27 137.8L170.35 137.64L170.44 137.49L170.53 137.33L170.62 137.18L170.71 137.02L170.79 136.87L170.88 136.71L170.97 136.55L171.06 136.39L171.15 136.24L171.23 136.08L171.32 135.92L171.41 135.76L171.5 135.6L171.59 135.44L171.67 135.28L171.76 135.12L171.85 134.96L171.94 134.8L172.03 134.64L172.11 134.48L172.2 134.31L172.29 134.15L172.38 133.99L172.47 133.83L172.55 133.66L172.64 133.5L172.73 133.33L172.82 133.17L172.91 133L172.99 132.84L173.08 132.67L173.17 132.51L173.26 132.34L173.35 132.18L173.43 132.01L173.52 131.84L173.61 131.67L173.7 131.51L173.79 131.34L173.87 131.17L173.96 131L174.05 130.83L174.14 130.66L174.23 130.49L174.31 130.32L174.4 130.15L174.49 129.98L174.58 129.81L174.67 129.63L174.75 129.46L174.84 129.29L174.93 129.12L175.02 128.94L175.11 128.77L175.19 128.6L175.28 128.42L175.37 128.25L175.46 128.07L175.55 127.9L175.63 127.72L175.72 127.55L175.81 127.37L175.9 127.19L175.99 127.02L176.07 126.84L176.16 126.66L176.25 126.48L176.34 126.31L176.43 126.13L176.51 125.95L176.6 125.77L176.69 125.59L176.78 125.41L176.87 125.23L176.95 125.05L177.04 124.87L177.13 124.69L177.22 124.5L177.31 124.32L177.39 124.14L177.48 123.96L177.57 123.78L177.66 123.59L177.75 123.41L177.83 123.22L177.92 123.04L178.01 122.86L178.1 122.67L178.18 122.49L178.27 122.3L178.36 122.11L178.45 121.93L178.54 121.74L178.62 121.55L178.71 121.37L178.8 121.18L178.89 120.99L178.98 120.8L179.06 120.61L179.15 120.43L179.24 120.24L179.33 120.05L179.42 119.86L179.5 119.67L179.59 119.47L179.68 119.28L179.77 119.09L179.86 118.9L179.94 118.7L180.03 118.51L180.12 118.31L180.21 118.12L180.3 117.92L180.38 117.73L180.47 117.53L180.56 117.33L180.65 117.13L180.74 116.93L180.82 116.73L180.91 116.53L181 116.33L181.09 116.12L181.18 115.92L181.26 115.71L181.35 115.51L181.44 115.3L181.53 115.09L181.62 114.88L181.7 114.67L181.79 114.46L181.88 114.25L181.97 114.04L182.06 113.82L182.14 113.6L182.23 113.39L182.32 113.17L182.41 112.95L182.5 112.73L182.58 112.51L182.67 112.29L182.76 112.06L182.85 111.84L182.94 111.61L183.02 111.38L183.11 111.15L183.2 110.92L183.29 110.69L183.38 110.45L183.46 110.22L183.55 109.98L183.64 109.74L183.73 109.5L183.82 109.26L183.9 109.02L183.99 108.77L184.08 108.52L184.17 108.28L184.26 108.03L184.34 107.77L184.43 107.52L184.52 107.27L184.61 107.01L184.7 106.75L184.78 106.49L184.87 106.23L184.96 105.96L185.05 105.7L185.14 105.43L185.22 105.16L185.31 104.89L185.4 104.61L185.49 104.34L185.58 104.06L185.66 103.78L185.75 103.5L185.84 103.21L185.93 102.93L186.02 102.64L186.1 102.35L186.19 102.05L186.28 101.76L186.37 101.46L186.46 101.16L186.54 100.86L186.63 100.56L186.72 100.26L186.81 99.95L186.9 99.65L186.98 99.34L187.07 99.03L187.16 98.72L187.25 98.42L187.34 98.11L187.42 97.8L187.51 97.5L187.6 97.19L187.69 96.89L187.78 96.59L187.86 96.29L187.95 95.99L188.04 95.69L188.13 95.4L188.22 95.1L188.3 94.81L188.39 94.53L188.48 94.24L188.57 93.96L188.65 93.68L188.74 93.4L188.83 93.13L188.92 92.85L189.01 92.58L189.09 92.31L189.18 92.04L189.27 91.78L189.36 91.51L189.45 91.25L189.53 90.99L189.62 90.72L189.71 90.46L189.8 90.2L189.89 89.95L189.97 89.69L190.06 89.43L190.15 89.17L190.24 88.92L190.33 88.66L190.41 88.4L190.5 88.15L190.59 87.89L190.68 87.63L190.77 87.38L190.85 87.12L190.94 86.86L191.03 86.61L191.12 86.35L191.21 86.09L191.29 85.83L191.38 85.57L191.47 85.31L191.56 85.04L191.65 84.78L191.73 84.51L191.82 84.24L191.91 83.97L192 83.7L192.09 83.43L192.17 83.16L192.26 82.88L192.35 82.6L192.44 82.32L192.53 82.04L192.61 81.75L192.7 81.46L192.79 81.17L192.88 80.88L192.97 80.58L193.05 80.29L193.14 79.98L193.23 79.68L193.32 79.37L193.41 79.06L193.49 78.74L193.58 78.42L193.67 78.1L193.75 77.77L193.84 77.44L193.92 77.11L194 76.77L194.08 76.43L194.17 76.08L194.25 75.73L194.33 75.37L194.41 75.01L194.49 74.65L194.58 74.28L194.66 73.9L194.74 73.52L194.82 73.14L194.9 72.75L194.99 72.35L195.07 71.95L195.15 71.54L195.23 71.13L195.31 70.71L195.39 70.29L195.47 69.86L195.55 69.42L195.63 68.98L195.71 68.53L195.8 68.08L195.88 67.62L195.96 67.16L196.04 66.69L196.12 66.21L196.2 65.73L196.28 65.25L196.36 64.76L196.44 64.26L196.52 63.76L196.6 63.26L196.68 62.75L196.76 62.23L196.83 61.71L196.91 61.19L196.99 60.66L197.07 60.12L197.15 59.59L197.23 59.04L197.31 58.5L197.39 57.95L197.47 57.39L197.55 56.83L197.63 56.27L197.7 55.7L197.78 55.13L197.86 54.56L197.94 53.98L198.02 53.4L198.1 52.82L198.18 52.23L198.25 51.63L198.33 51.04L198.41 50.44L198.49 49.84L198.57 49.24L198.64 48.64L198.72 48.04L198.8 47.44L198.88 46.84L198.96 46.24L199.04 45.65L199.11 45.06L199.19 44.48L199.27 43.9L199.35 43.33L199.43 42.77L199.51 42.21L199.59 41.66L199.67 41.12L199.74 40.59L199.82 40.08L199.9 39.57L199.98 39.07L200.06 38.58L200.14 38.09L200.22 37.61L200.3 37.12L200.38 36.64L200.46 36.16L200.54 35.68L200.62 35.19L200.7 34.69L200.78 34.18L200.86 33.67L200.94 33.14L201.02 32.61L201.1 32.05L201.18 31.48L201.26 30.89L201.34 30.29L201.41 29.66L201.49 29.01L201.57 28.33L201.64 27.63L201.72 26.89L201.8 26.13L201.87 25.34L201.94 24.52L202.02 23.66L202.09 22.76L202.16 21.82L202.19 21.5" fill="none" stroke="#ff0000" stroke-width="1.6" stroke-dasharray="4.6 1.6 0.8 1.6"/>
<line x1="38.5" y1="162.4" x2="245.6" y2="162.4" stroke="#000" stroke-width="1.1"/>
</g>
<rect x="38.5" y="21.5" width="207.1" height="168.8" fill="none" stroke="#555" stroke-width="1"/>
<path d="M38.5 176.23h2.5M245.6 176.23h-2.5M38.5 162.17h2.5M245.6 162.17h-2.5M38.5 148.1h2.5M245.6 148.1h-2.5M38.5 134.03h2.5M245.6 134.03h-2.5M38.5 119.97h2.5M245.6 119.97h-2.5M38.5 105.9h2.5M245.6 105.9h-2.5M38.5 91.83h2.5M245.6 91.83h-2.5M38.5 77.77h2.5M245.6 77.77h-2.5M38.5 63.7h2.5M245.6 63.7h-2.5M38.5 49.63h2.5M245.6 49.63h-2.5M38.5 35.57h2.5M245.6 35.57h-2.5M90.28 190.3v-2.5M90.28 21.5v2.5M142.05 190.3v-2.5M142.05 21.5v2.5M193.82 190.3v-2.5M193.82 21.5v2.5" stroke="#555" stroke-width="0.8" fill="none"/>
<rect x="49.6" y="9.3" width="189.3" height="12.6" fill="#000"/>
<rect x="47.3" y="7.0" width="189.1" height="12.6" fill="#fff" stroke="#999" stroke-width="0.6"/>
<line x1="48" y1="13.3" x2="69.2" y2="13.3" stroke="#138a13" stroke-width="1.4"/>
<circle cx="58.9" cy="13.3" r="2.0" fill="#fff" stroke="#138a13" stroke-width="0.7"/>
<line x1="133" y1="13.5" x2="154.8" y2="13.5" stroke="#ff0000" stroke-width="1.5" stroke-dasharray="3.6 2 0.9 2"/>
<ellipse cx="40.3" cy="160.6" rx="2.55" ry="5.05" fill="none" stroke="#2a2a2a" stroke-width="0.85"/>
<ellipse cx="89.2" cy="160.1" rx="2.55" ry="5.1" fill="none" stroke="#2a2a2a" stroke-width="0.85"/>
<ellipse cx="141.3" cy="165.0" rx="2.1" ry="5.1" fill="none" stroke="#2a2a2a" stroke-width="0.85"/>
<ellipse cx="200.9" cy="160.6" rx="2.7" ry="5.1" fill="none" stroke="#2a2a2a" stroke-width="0.85"/>
<ellipse cx="244.4" cy="159.2" rx="2.6" ry="4.6" fill="none" stroke="#2a2a2a" stroke-width="0.85"/>
<ellipse cx="89.3" cy="70.6" rx="5.6" ry="2.35" fill="none" stroke="#2a2a2a" stroke-width="0.85"/>
<ellipse cx="149.0" cy="51.7" rx="5.2" ry="2.4" fill="none" stroke="#2a2a2a" stroke-width="0.85"/>
<line x1="39.5" y1="115.9" x2="123.6" y2="115.9" stroke="#8a8a8a" stroke-width="1.6"/><path d="M39.5 115.9l4.4 -1.8v3.6z" fill="#000"/><path d="M123.6 115.9l-4.4 -1.8v3.6z" fill="#000"/>
<line x1="160.8" y1="115.8" x2="245.0" y2="115.8" stroke="#8a8a8a" stroke-width="1.6"/><path d="M160.8 115.8l4.4 -1.8v3.6z" fill="#000"/><path d="M245.0 115.8l-4.4 -1.8v3.6z" fill="#000"/>
<line x1="69.9" y1="71.1" x2="83.7" y2="71.1" stroke="#8a8a8a" stroke-width="1.6"/><path d="M69.9 71.1l4.4 -1.8v3.6z" fill="#000"/>
<line x1="154.2" y1="51.6" x2="168.1" y2="51.6" stroke="#8a8a8a" stroke-width="1.6"/><path d="M168.1 51.6l-4.0 -1.8v3.6z" fill="#000"/>
<g font-family="'Liberation Serif','Times New Roman',serif" fill="#1a1a1a" stroke="#1a1a1a" stroke-width="0.15" text-rendering="geometricPrecision">
<text x="72" y="16.6" font-size="8.8" textLength="55" lengthAdjust="spacingAndGlyphs">ADS Simulation</text>
<text x="156.1" y="16.6" font-size="8.8" textLength="78.3" lengthAdjust="spacingAndGlyphs">Numerical Calculation</text>
<text x="35.6" y="25.3" font-size="11.2" text-anchor="end">300</text>
<text x="35.6" y="52.6" font-size="11.2" text-anchor="end">250</text>
<text x="35.6" y="80.7" font-size="11.2" text-anchor="end">200</text>
<text x="35.6" y="108.8" font-size="11.2" text-anchor="end">150</text>
<text x="35.6" y="136.9" font-size="11.2" text-anchor="end">100</text>
<text x="35.6" y="165.1" font-size="11.2" text-anchor="end">50</text>
<text x="35.6" y="192.8" font-size="11.2" text-anchor="end">0</text>
<text x="40.05" y="204.4" font-size="11.5" text-anchor="middle">0.50</text>
<text x="90.2" y="203.5" font-size="11.5" text-anchor="middle">0.75</text>
<text x="141.2" y="202.5" font-size="11.5" text-anchor="middle">1.0</text>
<text x="193" y="203.7" font-size="11.5" text-anchor="middle">1.25</text>
<text x="242.3" y="201.5" font-size="11.5" text-anchor="middle">1.50</text>
<text x="133.4" y="217.8" font-size="12.5" font-style="italic">f</text>
<text x="140.2" y="217.8" font-size="12.5">/</text>
<text x="145.2" y="217.8" font-size="12.5" font-style="italic">f</text>
<text x="149.6" y="220.3" font-size="8.5">0</text>
<text x="120" y="241" font-size="12.3" font-weight="bold">(a)</text>
<g transform="translate(12.2 140.5) rotate(-90)"><text x="0" y="0" font-size="11.8" font-style="italic">Z</text><text x="6.4" y="2.6" font-size="7.2" font-style="italic" textLength="11.2" lengthAdjust="spacingAndGlyphs">in3</text><text x="20" y="0" font-size="11.8">&amp;</text><text x="31.9" y="0" font-size="11.8" font-style="italic">Z</text><text x="38.9" y="2.6" font-size="7.2" font-style="italic" textLength="11.2" lengthAdjust="spacingAndGlyphs">in4</text><text x="51.6" y="0" font-size="11.8" textLength="17.2" lengthAdjust="spacingAndGlyphs">(&#937;)</text></g>
<text x="54.1" y="73.4" font-size="8.8">Z</text>
<text x="58.9" y="75.3" font-size="5.8">in4</text>
<text x="171.4" y="57" font-size="8.8">Z</text>
<text x="176.1" y="59.2" font-size="5.8">in3</text>
<text x="46.6" y="111.3" font-size="10.3" textLength="39.5" lengthAdjust="spacingAndGlyphs">Bandpass</text>
<text x="195.2" y="111.9" font-size="10.3" textLength="39.8" lengthAdjust="spacingAndGlyphs">Bandpass</text>
<text x="41.3" y="180" font-size="10.2" textLength="15" lengthAdjust="spacingAndGlyphs">TP1</text>
<text x="84.3" y="176.6" font-size="10.2" textLength="15.2" lengthAdjust="spacingAndGlyphs">TP2</text>
<text x="134.2" y="156.8" font-size="10.2" textLength="15.8" lengthAdjust="spacingAndGlyphs">TZ1</text>
<text x="200.4" y="182.2" font-size="10.2" textLength="14" lengthAdjust="spacingAndGlyphs">TP3</text>
<text x="230.9" y="177.4" font-size="10.2" textLength="14.6" lengthAdjust="spacingAndGlyphs">TP4</text>
<text x="123.6" y="183.6" font-size="10.3" textLength="38.3" lengthAdjust="spacingAndGlyphs">Bandstop</text>
</g>
<g clip-path="url(#cb)">
<path d="M334.5 92.88L334.67 93.69L334.84 94.47L335.01 95.25L335.18 95.99L335.35 96.7L335.51 97.37L335.68 97.98L335.85 98.53L336.02 99.01L336.19 99.41L336.36 99.72L336.53 99.95L336.7 100.09L336.87 100.15L337.04 100.13L337.21 100.03L337.38 99.87L337.54 99.66L337.71 99.4L337.88 99.11L338.05 98.79L338.22 98.45L338.39 98.1L338.56 97.74L338.73 97.38L338.9 97.01L339.07 96.65L339.24 96.29L339.41 95.93L339.57 95.59L339.74 95.25L339.91 94.91L340.08 94.59L340.25 94.28L340.42 93.97L340.59 93.67L340.76 93.38L340.93 93.1L341.1 92.83L341.27 92.56L341.43 92.3L341.6 92.05L341.77 91.8L341.94 91.56L342.11 91.32L342.28 91.09L342.45 90.86L342.62 90.63L342.79 90.41L342.96 90.2L343.13 89.98L343.3 89.77L343.46 89.56L343.63 89.35L343.8 89.15L343.97 88.94L344.14 88.75L344.31 88.55L344.48 88.35L344.65 88.16L344.82 87.97L344.99 87.79L345.16 87.6L345.33 87.42L345.49 87.24L345.66 87.06L345.83 86.89L346 86.72L346.17 86.55L346.34 86.38L346.51 86.21L346.68 86.05L346.85 85.89L347.02 85.73L347.19 85.57L347.35 85.42L347.52 85.27L347.69 85.12L347.86 84.97L348.03 84.82L348.2 84.68L348.37 84.54L348.54 84.4L348.71 84.26L348.88 84.13L349.05 84L349.22 83.87L349.38 83.74L349.55 83.61L349.72 83.49L349.89 83.36L350.06 83.24L350.23 83.12L350.4 83.01L350.57 82.89L350.74 82.78L350.91 82.67L351.08 82.56L351.24 82.46L351.41 82.36L351.58 82.25L351.75 82.15L351.92 82.06L352.09 81.96L352.26 81.87L352.43 81.78L352.6 81.69L352.77 81.6L352.94 81.51L353.11 81.43L353.27 81.35L353.44 81.27L353.61 81.19L353.78 81.12L353.95 81.04L354.12 80.97L354.29 80.9L354.46 80.84L354.63 80.77L354.8 80.71L354.97 80.65L355.14 80.59L355.3 80.53L355.47 80.48L355.64 80.42L355.81 80.37L355.98 80.32L356.15 80.27L356.32 80.22L356.49 80.18L356.66 80.14L356.83 80.09L357 80.05L357.16 80.01L357.33 79.98L357.5 79.94L357.67 79.91L357.84 79.87L358.01 79.84L358.18 79.81L358.35 79.78L358.52 79.75L358.69 79.73L358.86 79.7L359.03 79.68L359.19 79.65L359.36 79.63L359.53 79.61L359.7 79.59L359.87 79.57L360.04 79.56L360.21 79.54L360.38 79.52L360.55 79.51L360.72 79.5L360.89 79.48L361.06 79.47L361.22 79.46L361.39 79.45L361.56 79.44L361.73 79.44L361.9 79.76L362.07 79.75L362.24 79.75L362.41 79.74L362.58 79.74L362.75 79.74L362.92 79.74L363.08 79.74L363.25 79.74L363.42 79.74L363.59 79.74L363.76 79.74L363.93 79.75L364.1 79.75L364.27 79.76L364.44 79.77L364.61 79.78L364.78 79.79L364.95 79.8L365.11 79.82L365.28 79.83L365.45 79.85L365.62 79.87L365.79 79.89L365.96 79.91L366.13 79.93L366.3 79.96L366.47 79.99L366.64 80.01L366.81 80.04L366.98 80.08L367.14 80.11L367.31 80.15L367.48 80.19L367.65 80.23L367.82 80.27L367.99 80.32L368.16 80.36L368.33 80.41L368.5 80.47L368.67 80.52L368.84 80.58L369 80.64L369.17 80.7L369.34 80.77L369.51 80.84L369.68 80.91L369.85 80.98L370.02 81.06L370.19 81.14L370.36 81.23L370.53 81.31L370.7 81.4L370.87 81.5L371.03 81.6L371.2 81.7L371.37 81.8L371.54 81.91L371.71 82.02L371.88 82.14L372.05 82.25L372.22 82.37L372.39 82.5L372.56 82.63L372.73 82.76L372.89 82.89L373.06 83.03L373.23 83.17L373.4 83.32L373.57 83.47L373.74 83.62L373.91 83.77L374.08 83.93L374.25 84.09L374.42 84.26L374.59 84.43L374.76 84.6L374.92 84.78L375.09 84.96L375.26 85.14L375.43 85.32L375.6 85.51L375.77 85.71L375.94 85.9L376.11 86.1L376.28 86.31L376.45 86.51L376.62 86.72L376.79 86.94L376.95 87.15L377.12 87.37L377.29 87.6L377.46 87.83L377.63 88.06L377.8 88.29L377.97 88.53L378.14 88.78L378.31 89.03L378.48 89.28L378.65 89.54L378.81 89.8L378.98 90.07L379.15 90.34L379.32 90.62L379.49 90.9L379.66 91.19L379.83 91.48L380 91.78L380.17 92.09L380.34 92.41L380.51 92.73L380.68 93.06L380.84 93.39L381.01 93.74L381.18 94.09L381.35 94.45L381.52 94.82L381.69 95.19L381.86 95.58L382.03 95.98L382.2 96.38L382.37 96.8L382.54 97.23L382.71 97.67L382.87 98.12L383.04 98.59L383.21 99.08L383.38 99.59L383.55 100.11L383.72 100.65L383.89 101.21L384.06 101.78L384.23 102.37L384.4 102.97L384.57 103.59L384.73 104.2L384.9 104.81L385.07 105.4L385.24 105.95L385.41 106.44L385.58 106.85L385.75 107.14L385.92 107.3L386.09 107.3L386.26 107.12L386.43 106.75L386.6 106.22L386.76 105.55L386.93 104.76L387.1 103.88L387.27 102.94L387.44 101.98L387.61 101L387.78 100.03L387.95 99.07L388.12 98.13L388.29 97.23L388.46 96.35L388.63 95.5L388.79 94.69L388.96 93.91L389.13 93.16L389.3 92.45L389.47 91.76L389.64 91.11L389.81 90.49L389.98 89.9L390.15 89.34L390.32 88.8L390.49 88.29L390.65 87.8L390.82 87.34L390.99 86.89L391.16 86.46L391.33 86.05L391.5 85.66L391.67 85.28L391.84 84.91L392.01 84.55L392.18 84.21L392.35 83.88L392.52 83.56L392.68 83.24L392.85 82.94L393.02 82.64L393.19 82.35L393.36 82.07L393.53 81.8L393.7 81.53L393.87 81.27L394.04 81.01L394.21 80.75L394.38 80.5L394.55 80.26L394.71 80.02L394.88 79.78L395.05 79.54L395.22 79.31L395.39 79.08L395.56 78.85L395.73 78.63L395.9 78.4L396.07 78.18L396.24 77.96L396.41 77.74L396.57 77.52L396.74 77.3L396.91 77.09L397.08 76.87L397.25 76.66L397.42 76.45L397.59 76.25L397.76 76.04L397.93 75.84L398.1 75.64L398.27 75.44L398.44 75.25L398.6 75.06L398.77 74.87L398.94 74.68L399.11 74.5L399.28 74.32L399.45 74.14L399.62 73.97L399.79 73.8L399.96 73.63L400.13 73.47L400.3 73.31L400.46 73.15L400.63 73L400.8 72.85L400.97 72.7L401.14 72.56L401.31 72.42L401.48 72.29L401.65 72.16L401.82 72.03L401.99 71.91L402.16 71.79L402.33 71.67L402.49 71.56L402.66 71.45L402.83 71.35L403 71.25L403.17 71.15L403.34 71.06L403.51 70.97L403.68 70.88L403.85 70.8L404.02 70.72L404.19 70.64L404.36 70.57L404.52 70.5L404.69 70.43L404.86 70.36L405.03 70.3L405.2 70.24L405.37 70.18L405.54 70.12L405.71 70.07L405.88 70.02L406.05 69.97L406.22 69.93L406.38 69.88L406.55 69.84L406.72 69.8L406.89 69.76L407.06 69.73L407.23 69.7L407.4 69.66L407.57 69.63L407.74 69.61L407.91 69.58L408.08 69.56L408.25 69.54L408.41 69.51L408.58 69.5L408.75 69.48L408.92 69.46L409.09 69.45L409.26 69.44L409.43 69.43L409.6 69.42L409.77 69.41L409.94 69.4L410.11 69.4L410.28 69.39L410.44 69.39L410.61 69.39L410.78 69.39L410.95 69.39L411.12 69.39L411.29 69.4L411.46 69.4L411.63 69.41L411.8 69.42L411.97 69.43L412.14 69.44L412.3 69.46L412.47 69.47L412.64 69.49L412.81 69.51L412.98 69.53L413.15 69.55L413.32 69.58L413.49 69.61L413.66 69.64L413.83 69.67L414 69.7L414.17 69.74L414.33 69.78L414.5 69.82L414.67 69.86L414.84 69.91L415.01 69.96L415.18 70.01L415.35 70.06L415.52 70.12L415.69 70.18L415.86 70.24L416.03 70.31L416.2 70.38L416.36 70.45L416.53 70.53L416.7 70.61L416.87 70.69L417.04 70.78L417.21 70.87L417.38 70.96L417.55 71.06L417.72 71.16L417.89 71.27L418.06 71.38L418.22 71.49L418.39 71.61L418.56 71.73L418.73 71.86L418.9 72L419.07 72.14L419.24 72.28L419.41 72.43L419.58 72.58L419.75 72.74L419.92 72.9L420.09 73.07L420.25 73.24L420.42 73.41L420.59 73.59L420.76 73.78L420.93 73.97L421.1 74.16L421.27 74.36L421.44 74.56L421.61 74.76L421.78 74.97L421.95 75.19L422.12 75.41L422.28 75.63L422.45 75.86L422.62 76.09L422.79 76.32L422.96 76.56L423.13 76.8L423.3 77.05L423.47 77.3L423.64 77.55L423.81 77.81L423.98 78.07L424.14 78.33L424.31 78.6L424.48 78.86L424.65 79.13L424.82 79.41L424.99 79.68L425.16 79.96L425.33 80.24L425.5 80.52L425.67 80.81L425.84 81.09L426.01 81.38L426.17 81.67L426.34 81.96L426.51 82.25L426.68 82.54L426.85 82.83L427.02 83.12L427.19 83.41L427.36 83.7L427.53 83.99L427.7 84.28L427.87 84.57L428.03 84.85L428.2 85.14L428.37 85.42L428.54 85.69L428.71 85.96L428.88 86.23L429.05 86.5L429.22 86.75L429.39 87L429.56 87.25L429.73 87.49L429.9 87.72L430.06 87.94L430.23 88.15L430.4 88.36L430.57 88.55L430.74 88.73L430.91 88.9L431.08 89.06L431.25 89.21L431.42 89.34L431.59 89.47L431.76 89.59L431.93 89.7L432.09 89.8L432.26 89.89L432.43 89.97L432.6 90.05L432.77 90.12L432.94 90.19L433.11 90.25L433.28 90.3L433.45 90.35L433.62 90.4L433.79 90.45L433.95 90.49L434.12 90.53L434.29 90.57L434.46 90.6L434.63 90.64L434.8 90.67L434.97 90.69L435.14 90.72L435.31 90.73L435.48 90.75L435.65 90.76L435.82 90.76L435.98 90.76L436.15 90.76L436.32 90.75L436.49 90.73L436.66 90.72L436.83 90.69L437 90.67L437.17 90.64L437.34 90.6L437.51 90.57L437.68 90.53L437.85 90.49L438.01 90.45L438.18 90.4L438.35 90.35L438.52 90.3L438.69 90.25L438.86 90.19L439.03 90.12L439.2 90.05L439.37 89.97L439.54 89.89L439.71 89.8L439.87 89.7L440.04 89.59L440.21 89.47L440.38 89.34L440.55 89.21L440.72 89.06L440.89 88.9L441.06 88.73L441.23 88.55L441.4 88.36L441.57 88.15L441.74 87.94L441.9 87.72L442.07 87.49L442.24 87.25L442.41 87L442.58 86.75L442.75 86.5L442.92 86.23L443.09 85.96L443.26 85.69L443.43 85.42L443.6 85.14L443.77 84.85L443.93 84.57L444.1 84.28L444.27 83.99L444.44 83.7L444.61 83.41L444.78 83.12L444.95 82.83L445.12 82.54L445.29 82.25L445.46 81.96L445.63 81.67L445.79 81.38L445.96 81.09L446.13 80.81L446.3 80.52L446.47 80.24L446.64 79.96L446.81 79.68L446.98 79.41L447.15 79.13L447.32 78.86L447.49 78.6L447.66 78.33L447.82 78.07L447.99 77.81L448.16 77.55L448.33 77.3L448.5 77.05L448.67 76.8L448.84 76.56L449.01 76.32L449.18 76.09L449.35 75.86L449.52 75.63L449.68 75.41L449.85 75.19L450.02 74.97L450.19 74.76L450.36 74.56L450.53 74.36L450.7 74.16L450.87 73.97L451.04 73.78L451.21 73.59L451.38 73.41L451.55 73.24L451.71 73.07L451.88 72.9L452.05 72.74L452.22 72.58L452.39 72.43L452.56 72.28L452.73 72.14L452.9 72L453.07 71.86L453.24 71.73L453.41 71.61L453.58 71.49L453.74 71.38L453.91 71.27L454.08 71.16L454.25 71.06L454.42 70.96L454.59 70.87L454.76 70.78L454.93 70.69L455.1 70.61L455.27 70.53L455.44 70.45L455.6 70.38L455.77 70.31L455.94 70.24L456.11 70.18L456.28 70.12L456.45 70.06L456.62 70.01L456.79 69.96L456.96 69.91L457.13 69.86L457.3 69.82L457.47 69.78L457.63 69.74L457.8 69.7L457.97 69.67L458.14 69.64L458.31 69.61L458.48 69.58L458.65 69.55L458.82 69.53L458.99 69.51L459.16 69.49L459.33 69.47L459.5 69.46L459.66 69.44L459.83 69.43L460 69.42L460.17 69.41L460.34 69.4L460.51 69.4L460.68 69.39L460.85 69.39L461.02 69.39L461.19 69.39L461.36 69.39L461.52 69.39L461.69 69.4L461.86 69.4L462.03 69.41L462.2 69.42L462.37 69.43L462.54 69.44L462.71 69.45L462.88 69.46L463.05 69.48L463.22 69.5L463.39 69.51L463.55 69.54L463.72 69.56L463.89 69.58L464.06 69.61L464.23 69.63L464.4 69.66L464.57 69.7L464.74 69.73L464.91 69.76L465.08 69.8L465.25 69.84L465.42 69.88L465.58 69.93L465.75 69.97L465.92 70.02L466.09 70.07L466.26 70.12L466.43 70.18L466.6 70.24L466.77 70.3L466.94 70.36L467.11 70.43L467.28 70.5L467.44 70.57L467.61 70.64L467.78 70.72L467.95 70.8L468.12 70.88L468.29 70.97L468.46 71.06L468.63 71.15L468.8 71.25L468.97 71.35L469.14 71.45L469.31 71.56L469.47 71.67L469.64 71.79L469.81 71.91L469.98 72.03L470.15 72.16L470.32 72.29L470.49 72.42L470.66 72.56L470.83 72.7L471 72.85L471.17 73L471.34 73.15L471.5 73.31L471.67 73.47L471.84 73.63L472.01 73.8L472.18 73.97L472.35 74.14L472.52 74.32L472.69 74.5L472.86 74.68L473.03 74.87L473.2 75.06L473.36 75.25L473.53 75.44L473.7 75.64L473.87 75.84L474.04 76.04L474.21 76.25L474.38 76.45L474.55 76.66L474.72 76.87L474.89 77.09L475.06 77.3L475.23 77.52L475.39 77.74L475.56 77.96L475.73 78.18L475.9 78.4L476.07 78.63L476.24 78.85L476.41 79.08L476.58 79.31L476.75 79.54L476.92 79.78L477.09 80.02L477.25 80.26L477.42 80.5L477.59 80.75L477.76 81.01L477.93 81.27L478.1 81.53L478.27 81.8L478.44 82.07L478.61 82.35L478.78 82.64L478.95 82.94L479.12 83.24L479.28 83.56L479.45 83.88L479.62 84.21L479.79 84.55L479.96 84.91L480.13 85.28L480.3 85.66L480.47 86.05L480.64 86.46L480.81 86.89L480.98 87.34L481.15 87.8L481.31 88.29L481.48 88.8L481.65 89.34L481.82 89.9L481.99 90.49L482.16 91.11L482.33 91.76L482.5 92.45L482.67 93.16L482.84 93.91L483.01 94.69L483.17 95.5L483.34 96.35L483.51 97.23L483.68 98.13L483.85 99.07L484.02 100.03L484.19 101L484.36 101.98L484.53 102.94L484.7 103.88L484.87 104.76L485.04 105.55L485.2 106.22L485.37 106.75L485.54 107.12L485.71 107.3L485.88 107.3L486.05 107.14L486.22 106.85L486.39 106.44L486.56 105.95L486.73 105.4L486.9 104.81L487.07 104.2L487.23 103.59L487.4 102.97L487.57 102.37L487.74 101.78L487.91 101.21L488.08 100.65L488.25 100.11L488.42 99.59L488.59 99.08L488.76 98.59L488.93 98.12L489.09 97.67L489.26 97.23L489.43 96.8L489.6 96.38L489.77 95.98L489.94 95.58L490.11 95.19L490.28 94.82L490.45 94.45L490.62 94.09L490.79 93.74L490.96 93.39L491.12 93.06L491.29 92.73L491.46 92.41L491.63 92.09L491.8 91.78L491.97 91.48L492.14 91.19L492.31 90.9L492.48 90.62L492.65 90.34L492.82 90.07L492.99 89.8L493.15 89.54L493.32 89.28L493.49 89.03L493.66 88.78L493.83 88.53L494 88.29L494.17 88.06L494.34 87.83L494.51 87.6L494.68 87.37L494.85 87.15L495.01 86.94L495.18 86.72L495.35 86.51L495.52 86.31L495.69 86.1L495.86 85.9L496.03 85.71L496.2 85.51L496.37 85.32L496.54 85.14L496.71 84.96L496.88 84.78L497.04 84.6L497.21 84.43L497.38 84.26L497.55 84.09L497.72 83.93L497.89 83.77L498.06 83.62L498.23 83.47L498.4 83.32L498.57 83.17L498.74 83.03L498.91 82.89L499.07 82.76L499.24 82.63L499.41 82.5L499.58 82.37L499.75 82.25L499.92 82.14L500.09 82.02L500.26 81.91L500.43 81.8L500.6 81.7L500.77 81.6L500.93 81.5L501.1 81.4L501.27 81.31L501.44 81.23L501.61 81.14L501.78 81.06L501.95 80.98L502.12 80.91L502.29 80.84L502.46 80.77L502.63 80.7L502.8 80.64L502.96 80.58L503.13 80.52L503.3 80.47L503.47 80.41L503.64 80.36L503.81 80.32L503.98 80.27L504.15 80.23L504.32 80.19L504.49 80.15L504.66 80.11L504.82 80.08L504.99 80.04L505.16 80.01L505.33 79.99L505.5 79.96L505.67 79.93L505.84 79.91L506.01 79.89L506.18 79.87L506.35 79.85L506.52 79.83L506.69 79.82L506.85 79.8L507.02 79.79L507.19 79.78L507.36 79.77L507.53 79.76L507.7 79.75L507.87 79.75L508.04 79.74L508.21 79.74L508.38 79.74L508.55 79.74L508.72 79.74L508.88 79.74L509.05 79.74L509.22 79.74L509.39 79.74L509.56 79.75L509.73 79.75L509.9 79.76L510.07 79.44L510.24 79.44L510.41 79.45L510.58 79.46L510.74 79.47L510.91 79.48L511.08 79.5L511.25 79.51L511.42 79.52L511.59 79.54L511.76 79.56L511.93 79.57L512.1 79.59L512.27 79.61L512.44 79.63L512.61 79.65L512.77 79.68L512.94 79.7L513.11 79.73L513.28 79.75L513.45 79.78L513.62 79.81L513.79 79.84L513.96 79.87L514.13 79.91L514.3 79.94L514.47 79.98L514.64 80.01L514.8 80.05L514.97 80.09L515.14 80.14L515.31 80.18L515.48 80.22L515.65 80.27L515.82 80.32L515.99 80.37L516.16 80.42L516.33 80.48L516.5 80.53L516.66 80.59L516.83 80.65L517 80.71L517.17 80.77L517.34 80.84L517.51 80.9L517.68 80.97L517.85 81.04L518.02 81.12L518.19 81.19L518.36 81.27L518.53 81.35L518.69 81.43L518.86 81.51L519.03 81.6L519.2 81.69L519.37 81.78L519.54 81.87L519.71 81.96L519.88 82.06L520.05 82.15L520.22 82.25L520.39 82.36L520.56 82.46L520.72 82.56L520.89 82.67L521.06 82.78L521.23 82.89L521.4 83.01L521.57 83.12L521.74 83.24L521.91 83.36L522.08 83.49L522.25 83.61L522.42 83.74L522.58 83.87L522.75 84L522.92 84.13L523.09 84.26L523.26 84.4L523.43 84.54L523.6 84.68L523.77 84.82L523.94 84.97L524.11 85.12L524.28 85.27L524.45 85.42L524.61 85.57L524.78 85.73L524.95 85.89L525.12 86.05L525.29 86.21L525.46 86.38L525.63 86.55L525.8 86.72L525.97 86.89L526.14 87.06L526.31 87.24L526.47 87.42L526.64 87.6L526.81 87.79L526.98 87.97L527.15 88.16L527.32 88.35L527.49 88.55L527.66 88.75L527.83 88.94L528 89.15L528.17 89.35L528.34 89.56L528.5 89.77L528.67 89.98L528.84 90.2L529.01 90.41L529.18 90.63L529.35 90.86L529.52 91.09L529.69 91.32L529.86 91.56L530.03 91.8L530.2 92.05L530.37 92.3L530.53 92.56L530.7 92.83L530.87 93.1L531.04 93.38L531.21 93.67L531.38 93.97L531.55 94.28L531.72 94.59L531.89 94.91L532.06 95.25L532.23 95.59L532.39 95.93L532.56 96.29L532.73 96.65L532.9 97.01L533.07 97.38L533.24 97.74L533.41 98.1L533.58 98.45L533.75 98.79L533.92 99.11L534.09 99.4L534.26 99.66L534.42 99.87L534.59 100.03L534.76 100.13L534.93 100.15L535.1 100.09L535.27 99.95L535.44 99.72L535.61 99.41L535.78 99.01L535.95 98.53L536.12 97.98L536.29 97.37L536.45 96.7L536.62 95.99L536.79 95.25L536.96 94.47L537.13 93.69L537.3 92.88" fill="none" stroke="#138a13" stroke-width="1.5" stroke-dasharray="4.8 1.7 0.5 1.7"/>
<path d="M333.9 50L334.15 50L334.4 50L334.65 50L334.9 50L335.15 50L335.4 50L335.65 50L335.91 50L336.16 50L336.41 50L336.66 50L336.91 50L337.16 50L337.41 50L337.66 50L337.91 50L338.16 50L338.41 50L338.66 50L338.91 50L339.16 50L339.41 50L339.66 50L339.92 50L340.17 50L340.42 50L340.67 50L340.92 50L341.17 50L341.42 50L341.67 50L341.92 50L342.17 50L342.42 50L342.67 50L342.92 50L343.17 50L343.42 50L343.67 50L343.93 50L344.18 50L344.43 50L344.68 50L344.93 50L345.18 50L345.43 50L345.68 50L345.93 50L346.18 50L346.43 50L346.68 50L346.93 50L347.18 50L347.43 50L347.68 50L347.94 50L348.19 50L348.44 50L348.69 50L348.94 50L349.19 50L349.44 50L349.69 50L349.94 50L350.19 50L350.44 50L350.69 50L350.94 50L351.19 50L351.44 50L351.69 50L351.95 50L352.2 50L352.45 50L352.7 50L352.95 50L353.2 50L353.45 50L353.7 50L353.95 50L354.2 50L354.45 50L354.7 50L354.95 50L355.2 50L355.45 50L355.7 50L355.96 50L356.21 50L356.46 50L356.71 50L356.96 50L357.21 50L357.46 50L357.71 50L357.96 50L358.21 50L358.46 50L358.71 50L358.96 50L359.21 50L359.46 50L359.71 50L359.97 50L360.22 50L360.47 50L360.72 50L360.97 50L361.22 50L361.47 50L361.72 50L361.97 50L362.22 50L362.47 50L362.72 50L362.97 50L363.22 50L363.47 50L363.72 50L363.98 50L364.23 50L364.48 50L364.73 50L364.98 50L365.23 50L365.48 50L365.73 50L365.98 50.01L366.23 50.01L366.48 50.01L366.73 50.01L366.98 50.01L367.23 50.01L367.48 50.01L367.73 50.01L367.99 50.01L368.24 50.01L368.49 50.01L368.74 50.01L368.99 50.01L369.24 50.01L369.49 50.01L369.74 50.01L369.99 50.01L370.24 50.01L370.49 50.01L370.74 50.01L370.99 50.01L371.24 50.01L371.49 50.01L371.74 50.01L372 50.01L372.25 50.01L372.5 50.01L372.75 50.02L373 50.02L373.25 50.02L373.5 50.02L373.75 50.02L374 50.02L374.25 50.02L374.5 50.02L374.75 50.02L375 50.02L375.25 50.02L375.5 50.02L375.75 50.02L376.01 50.02L376.26 50.02L376.51 50.02L376.76 50.02L377.01 50.02L377.26 50.02L377.51 50.03L377.76 50.03L378.01 50.03L378.26 50.03L378.51 50.03L378.76 50.03L379.01 50.03L379.26 50.03L379.51 50.03L379.76 50.03L380.02 50.03L380.27 50.03L380.52 50.03L380.77 50.03L381.02 50.03L381.27 50.04L381.52 50.04L381.77 50.04L382.02 50.04L382.27 50.04L382.52 50.04L382.77 50.04L383.02 50.04L383.27 50.04L383.52 50.04L383.77 50.04L384.03 50.04L384.28 50.04L384.53 50.05L384.78 50.05L385.03 50.05L385.28 50.05L385.53 50.05L385.78 50.05L386.03 50.05L386.28 50.05L386.53 50.05L386.78 50.05L387.03 50.06L387.28 50.06L387.53 50.06L387.78 50.06L388.04 50.06L388.29 50.07L388.54 50.07L388.79 50.07L389.04 50.08L389.29 50.08L389.54 50.08L389.79 50.09L390.04 50.09L390.29 50.09L390.54 50.1L390.79 50.1L391.04 50.11L391.29 50.11L391.54 50.12L391.79 50.12L392.05 50.13L392.3 50.13L392.55 50.14L392.8 50.14L393.05 50.15L393.3 50.16L393.55 50.16L393.8 50.17L394.05 50.18L394.3 50.18L394.55 50.19L394.8 50.2L395.05 50.2L395.3 50.21L395.55 50.22L395.8 50.23L396.06 50.24L396.31 50.24L396.56 50.25L396.81 50.26L397.06 50.27L397.31 50.28L397.56 50.29L397.81 50.3L398.06 50.31L398.31 50.32L398.56 50.33L398.81 50.34L399.06 50.36L399.31 50.38L399.56 50.4L399.81 50.42L400.07 50.44L400.32 50.46L400.57 50.48L400.82 50.51L401.07 50.53L401.32 50.56L401.57 50.59L401.82 50.62L402.07 50.65L402.32 50.68L402.57 50.71L402.82 50.74L403.07 50.77L403.32 50.81L403.57 50.84L403.82 50.88L404.08 50.91L404.33 50.95L404.58 50.99L404.83 51.03L405.08 51.07L405.33 51.12L405.58 51.17L405.83 51.22L406.08 51.28L406.33 51.33L406.58 51.39L406.83 51.45L407.08 51.51L407.33 51.58L407.58 51.65L407.83 51.72L408.09 51.79L408.34 51.86L408.59 51.93L408.84 52.01L409.09 52.09L409.34 52.18L409.59 52.27L409.84 52.36L410.09 52.46L410.34 52.56L410.59 52.67L410.84 52.79L411.09 52.91L411.34 53.04L411.59 53.17L411.84 53.31L412.1 53.45L412.35 53.6L412.6 53.76L412.85 53.94L413.1 54.14L413.35 54.36L413.6 54.59L413.85 54.83L414.1 55.09L414.35 55.36L414.6 55.64L414.85 55.93L415.1 56.22L415.35 56.52L415.6 56.81L415.85 57.11L416.11 57.41L416.36 57.7L416.61 58.01L416.86 58.32L417.11 58.64L417.36 58.96L417.61 59.3L417.86 59.64L418.11 59.98L418.36 60.34L418.61 60.71L418.86 61.08L419.11 61.46L419.36 61.86L419.61 62.27L419.86 62.7L420.12 63.14L420.37 63.59L420.62 64.06L420.87 64.53L421.12 65.01L421.37 65.49L421.62 65.97L421.87 66.46L422.12 66.95L422.37 67.43L422.62 67.91L422.87 68.4L423.12 68.89L423.37 69.38L423.62 69.88L423.87 70.39L424.13 70.9L424.38 71.42L424.63 71.95L424.88 72.49L425.13 73.04L425.38 73.6L425.63 74.17L425.88 74.76L426.13 75.35L426.38 75.95L426.63 76.57L426.88 77.19L427.13 77.83L427.38 78.48L427.63 79.14L427.88 79.81L428.14 80.5L428.39 81.2L428.64 81.93L428.89 82.67L429.14 83.43L429.39 84.2L429.64 84.99L429.89 85.78L430.14 86.59L430.39 87.4L430.64 88.22L430.89 89.04L431.14 89.86L431.39 90.68L431.64 91.47L431.89 92.24L432.15 93.01L432.4 93.83L432.65 94.75L432.9 95.79L433.15 97.01L433.4 98.45L433.65 100.1L433.9 102L433.95 102.42L434 102.85L434.05 103.3L434.11 103.76L434.16 104.24L434.21 104.74L434.26 105.25L434.31 105.79L434.36 106.34L434.41 106.91L434.46 107.5L434.52 108.12L434.57 108.76L434.62 109.42L434.67 110.1L434.72 110.81L434.77 111.55L434.82 112.31L434.87 113.1L434.93 113.92L434.98 114.8L435.03 115.76L435.08 116.8L435.13 117.91L435.18 119.09L435.23 120.35L435.28 121.69L435.34 123.11L435.39 124.61L435.44 126.12L435.49 127.55L435.54 129.06L435.59 130.85L435.64 133.1L435.69 135.98L435.75 139.68L435.8 148.4L435.85 164.59L435.9 183.5L435.95 164.59L436 148.4L436.05 139.68L436.11 135.98L436.16 133.1L436.21 130.85L436.26 129.06L436.31 127.55L436.36 126.12L436.41 124.61L436.46 123.11L436.52 121.69L436.57 120.35L436.62 119.09L436.67 117.91L436.72 116.8L436.77 115.76L436.82 114.8L436.87 113.92L436.93 113.1L436.98 112.31L437.03 111.55L437.08 110.81L437.13 110.1L437.18 109.42L437.23 108.76L437.28 108.12L437.34 107.5L437.39 106.91L437.44 106.34L437.49 105.79L437.54 105.25L437.59 104.74L437.64 104.24L437.69 103.76L437.75 103.3L437.8 102.85L437.85 102.42L437.9 102L438.15 100.1L438.4 98.45L438.65 97.01L438.9 95.79L439.15 94.75L439.4 93.83L439.65 93.01L439.91 92.24L440.16 91.47L440.41 90.68L440.66 89.86L440.91 89.04L441.16 88.22L441.41 87.4L441.66 86.59L441.91 85.78L442.16 84.99L442.41 84.2L442.66 83.43L442.91 82.67L443.16 81.93L443.41 81.2L443.66 80.5L443.92 79.81L444.17 79.14L444.42 78.48L444.67 77.83L444.92 77.19L445.17 76.57L445.42 75.95L445.67 75.35L445.92 74.76L446.17 74.17L446.42 73.6L446.67 73.04L446.92 72.49L447.17 71.95L447.42 71.42L447.67 70.9L447.93 70.39L448.18 69.88L448.43 69.38L448.68 68.89L448.93 68.4L449.18 67.91L449.43 67.43L449.68 66.95L449.93 66.46L450.18 65.97L450.43 65.49L450.68 65.01L450.93 64.53L451.18 64.06L451.43 63.59L451.68 63.14L451.94 62.7L452.19 62.27L452.44 61.86L452.69 61.46L452.94 61.08L453.19 60.71L453.44 60.34L453.69 59.98L453.94 59.64L454.19 59.3L454.44 58.96L454.69 58.64L454.94 58.32L455.19 58.01L455.44 57.7L455.69 57.41L455.95 57.11L456.2 56.81L456.45 56.52L456.7 56.22L456.95 55.93L457.2 55.64L457.45 55.36L457.7 55.09L457.95 54.83L458.2 54.59L458.45 54.36L458.7 54.14L458.95 53.94L459.2 53.76L459.45 53.6L459.7 53.45L459.96 53.31L460.21 53.17L460.46 53.04L460.71 52.91L460.96 52.79L461.21 52.67L461.46 52.56L461.71 52.46L461.96 52.36L462.21 52.27L462.46 52.18L462.71 52.09L462.96 52.01L463.21 51.93L463.46 51.86L463.71 51.79L463.97 51.72L464.22 51.65L464.47 51.58L464.72 51.51L464.97 51.45L465.22 51.39L465.47 51.33L465.72 51.28L465.97 51.22L466.22 51.17L466.47 51.12L466.72 51.07L466.97 51.03L467.22 50.99L467.47 50.95L467.72 50.91L467.98 50.88L468.23 50.84L468.48 50.81L468.73 50.77L468.98 50.74L469.23 50.71L469.48 50.68L469.73 50.65L469.98 50.62L470.23 50.59L470.48 50.56L470.73 50.53L470.98 50.51L471.23 50.48L471.48 50.46L471.73 50.44L471.99 50.42L472.24 50.4L472.49 50.38L472.74 50.36L472.99 50.34L473.24 50.33L473.49 50.32L473.74 50.31L473.99 50.3L474.24 50.29L474.49 50.28L474.74 50.27L474.99 50.26L475.24 50.25L475.49 50.24L475.74 50.24L476 50.23L476.25 50.22L476.5 50.21L476.75 50.2L477 50.2L477.25 50.19L477.5 50.18L477.75 50.18L478 50.17L478.25 50.16L478.5 50.16L478.75 50.15L479 50.14L479.25 50.14L479.5 50.13L479.75 50.13L480.01 50.12L480.26 50.12L480.51 50.11L480.76 50.11L481.01 50.1L481.26 50.1L481.51 50.09L481.76 50.09L482.01 50.09L482.26 50.08L482.51 50.08L482.76 50.08L483.01 50.07L483.26 50.07L483.51 50.07L483.76 50.06L484.02 50.06L484.27 50.06L484.52 50.06L484.77 50.06L485.02 50.05L485.27 50.05L485.52 50.05L485.77 50.05L486.02 50.05L486.27 50.05L486.52 50.05L486.77 50.05L487.02 50.05L487.27 50.05L487.52 50.04L487.77 50.04L488.03 50.04L488.28 50.04L488.53 50.04L488.78 50.04L489.03 50.04L489.28 50.04L489.53 50.04L489.78 50.04L490.03 50.04L490.28 50.04L490.53 50.04L490.78 50.03L491.03 50.03L491.28 50.03L491.53 50.03L491.78 50.03L492.04 50.03L492.29 50.03L492.54 50.03L492.79 50.03L493.04 50.03L493.29 50.03L493.54 50.03L493.79 50.03L494.04 50.03L494.29 50.03L494.54 50.02L494.79 50.02L495.04 50.02L495.29 50.02L495.54 50.02L495.79 50.02L496.05 50.02L496.3 50.02L496.55 50.02L496.8 50.02L497.05 50.02L497.3 50.02L497.55 50.02L497.8 50.02L498.05 50.02L498.3 50.02L498.55 50.02L498.8 50.02L499.05 50.02L499.3 50.01L499.55 50.01L499.8 50.01L500.06 50.01L500.31 50.01L500.56 50.01L500.81 50.01L501.06 50.01L501.31 50.01L501.56 50.01L501.81 50.01L502.06 50.01L502.31 50.01L502.56 50.01L502.81 50.01L503.06 50.01L503.31 50.01L503.56 50.01L503.81 50.01L504.07 50.01L504.32 50.01L504.57 50.01L504.82 50.01L505.07 50.01L505.32 50.01L505.57 50.01L505.82 50.01L506.07 50L506.32 50L506.57 50L506.82 50L507.07 50L507.32 50L507.57 50L507.82 50L508.08 50L508.33 50L508.58 50L508.83 50L509.08 50L509.33 50L509.58 50L509.83 50L510.08 50L510.33 50L510.58 50L510.83 50L511.08 50L511.33 50L511.58 50L511.83 50L512.09 50L512.34 50L512.59 50L512.84 50L513.09 50L513.34 50L513.59 50L513.84 50L514.09 50L514.34 50L514.59 50L514.84 50L515.09 50L515.34 50L515.59 50L515.84 50L516.1 50L516.35 50L516.6 50L516.85 50L517.1 50L517.35 50L517.6 50L517.85 50L518.1 50L518.35 50L518.6 50L518.85 50L519.1 50L519.35 50L519.6 50L519.85 50L520.11 50L520.36 50L520.61 50L520.86 50L521.11 50L521.36 50L521.61 50L521.86 50L522.11 50L522.36 50L522.61 50L522.86 50L523.11 50L523.36 50L523.61 50L523.86 50L524.12 50L524.37 50L524.62 50L524.87 50L525.12 50L525.37 50L525.62 50L525.87 50L526.12 50L526.37 50L526.62 50L526.87 50L527.12 50L527.37 50L527.62 50L527.87 50L528.13 50L528.38 50L528.63 50L528.88 50L529.13 50L529.38 50L529.63 50L529.88 50L530.13 50L530.38 50L530.63 50L530.88 50L531.13 50L531.38 50L531.63 50L531.88 50L532.14 50L532.39 50L532.64 50L532.89 50L533.14 50L533.39 50L533.64 50L533.89 50L534.14 50L534.39 50L534.64 50L534.89 50L535.14 50L535.39 50L535.64 50L535.89 50L536.15 50L536.4 50L536.65 50L536.9 50L537.15 50L537.4 50L537.65 50L537.9 50" fill="none" stroke="#ff0000" stroke-width="1.7"/>
</g>
<rect x="334.5" y="22.5" width="202.79999999999995" height="160.9" fill="none" stroke="#555" stroke-width="1"/>
<path d="M334.5 49.3h2.8M334.5 84.96h2.8M334.5 120.62h2.8M334.5 156.28h2.8M537.3 31.47h-2.2M537.3 67.13h-2.2M537.3 102.79h-2.2M537.3 138.45h-2.2M537.3 174.11h-2.2M385.2 183.4v-2.5M486.6 183.4v-2.5M359.85 22.5v2.2M410.55 22.5v2.2M461.25 22.5v2.2M511.95 22.5v2.2" stroke="#555" stroke-width="0.8" fill="none"/>
<rect x="465.9" y="8.3" width="71" height="13.8" fill="#000"/>
<rect x="463.4" y="6.2" width="71.8" height="13.2" fill="#fff" stroke="#999" stroke-width="0.6"/>
<line x1="464" y1="12.3" x2="486" y2="12.3" stroke="#138a13" stroke-width="1.5" stroke-dasharray="4.8 1.7 0.5 1.7"/>
<line x1="502.5" y1="11.9" x2="522.1" y2="11.9" stroke="#ff0000" stroke-width="1.5"/>
<ellipse cx="338.5" cy="99.3" rx="6.0" ry="2.4" fill="none" stroke="#2a2a2a" stroke-width="0.85"/>
<ellipse cx="386.0" cy="106.9" rx="5.7" ry="2.1" fill="none" stroke="#2a2a2a" stroke-width="0.85"/>
<ellipse cx="485.6" cy="107.3" rx="6.0" ry="2.1" fill="none" stroke="#2a2a2a" stroke-width="0.85"/>
<ellipse cx="533.0" cy="99.2" rx="5.4" ry="2.1" fill="none" stroke="#2a2a2a" stroke-width="0.85"/>
<ellipse cx="435.1" cy="135.9" rx="4.8" ry="2.4" fill="none" stroke="#2a2a2a" stroke-width="0.85"/>
<g font-family="'Liberation Serif','Times New Roman',serif" fill="#2b2b2b" stroke="#2b2b2b" stroke-width="0.04" text-rendering="geometricPrecision">
<text x="486.9" y="15.5" font-size="8.2" font-style="italic" fill="#444" stroke="none">S</text>
<text x="491.3" y="17.4" font-size="5.2" fill="#555" stroke="none" textLength="4.6" lengthAdjust="spacingAndGlyphs">11</text>
<text x="524.3" y="15.5" font-size="8.2" font-style="italic" fill="#444" stroke="none">S</text>
<text x="528.7" y="17.4" font-size="5.2" fill="#555" stroke="none" textLength="4.6" lengthAdjust="spacingAndGlyphs">21</text>
<text x="332" y="54.45" font-size="11.1" text-anchor="end">0</text>
<text x="332" y="87.95" font-size="11.1" text-anchor="end">&#8722;20</text>
<text x="332" y="124.35" font-size="11.1" text-anchor="end">&#8722;40</text>
<text x="332" y="160.35" font-size="11.1" text-anchor="end">&#8722;60</text>
<text x="339.1" y="196.4" font-size="10.9" text-anchor="middle">0.50</text>
<text x="385.4" y="196.4" font-size="10.9" text-anchor="middle">0.75</text>
<text x="435.5" y="196.4" font-size="10.9" text-anchor="middle">1.00</text>
<text x="485.5" y="196.4" font-size="10.9" text-anchor="middle">1.25</text>
<text x="534.8" y="196.4" font-size="10.9" text-anchor="middle">1.50</text>
<text x="426.2" y="212.3" font-size="11.8" font-style="italic">f</text>
<text x="432.6" y="212.3" font-size="11.8">/</text>
<text x="437.4" y="212.3" font-size="11.8" font-style="italic">f</text>
<text x="441.6" y="214.6" font-size="8.0">0</text>
<text x="415.2" y="241" font-size="12.3" font-weight="bold">(b)</text>
<g transform="translate(309.6 142.4) rotate(-90)"><text x="0" y="0" font-size="11.9" textLength="76.7" lengthAdjust="spacingAndGlyphs">Magnitude (dB)</text></g>
<text x="335.7" y="111.1" font-size="9.2" font-style="italic" textLength="13.8" lengthAdjust="spacingAndGlyphs">TP1</text>
<text x="379.9" y="118" font-size="9.2" font-style="italic" textLength="13.3" lengthAdjust="spacingAndGlyphs">TP2</text>
<text x="480.7" y="118.7" font-size="9.2" font-style="italic" textLength="13.4" lengthAdjust="spacingAndGlyphs">TP3</text>
<text x="522.1" y="111.8" font-size="9.2" font-style="italic" textLength="14.2" lengthAdjust="spacingAndGlyphs">TP4</text>
<text x="442.4" y="138.8" font-size="9.2" font-style="italic" textLength="13.8" lengthAdjust="spacingAndGlyphs">TZ1</text>
</g>
</svg></body></html>
